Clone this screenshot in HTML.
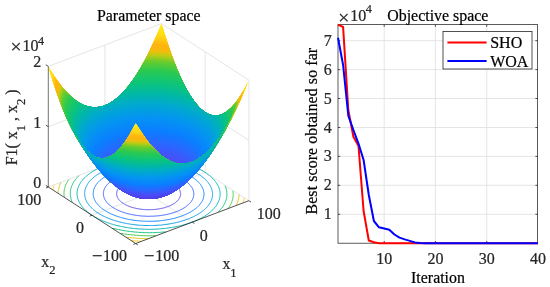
<!DOCTYPE html>
<html lang="en"><head><meta charset="utf-8"><title>Parameter space / Objective space</title>
<style>html,body{margin:0;padding:0;background:#fff;width:550px;height:287px;overflow:hidden}svg{display:block}</style></head>
<body>
<svg width="550" height="287" viewBox="0 0 550 287" font-family="'Liberation Serif', serif" fill="#262626">
<rect width="550" height="287" fill="#fff"/>
<g><path d="M192.3 222.1 L104.9 165.6" stroke="#dedede" stroke-width="0.8" fill="none"/><path d="M92 215.2 L205.2 172.4" stroke="#dedede" stroke-width="0.8" fill="none"/><path d="M248.9 200.7 L161.5 144.2" stroke="#dedede" stroke-width="0.8" fill="none"/><path d="M48.3 187 L161.5 144.2" stroke="#dedede" stroke-width="0.8" fill="none"/><path d="M104.9 165.6 L104.9 45" stroke="#dedede" stroke-width="0.8" fill="none"/><path d="M161.5 144.2 L161.5 23.6" stroke="#dedede" stroke-width="0.8" fill="none"/><path d="M48.3 126.7 L161.5 83.9" stroke="#dedede" stroke-width="0.8" fill="none"/><path d="M161.5 83.9 L248.9 140.4" stroke="#dedede" stroke-width="0.8" fill="none"/><path d="M48.3 66.4 L161.5 23.6" stroke="#dedede" stroke-width="0.8" fill="none"/><path d="M161.5 23.6 L248.9 80.1" stroke="#dedede" stroke-width="0.8" fill="none"/><path d="M248.9 200.7 L248.9 80.1" stroke="#dedede" stroke-width="0.8" fill="none"/><path d="M205.2 172.4 L205.2 51.8" stroke="#dedede" stroke-width="0.8" fill="none"/></g>
<g><path d="M173.9 184.3 L173.6 184.1 L173.2 183.8 L172.9 183.6 L172.5 183.4 L172.1 183.2 L171.7 183 L171.3 182.8 L170.9 182.6 L170.5 182.4 L170.1 182.2 L169.7 182 L169.3 181.9 L168.9 181.7 L168.4 181.5 L168 181.3 L167.5 181.2 L167.1 181 L166.6 180.8 L166.2 180.7 L165.7 180.5 L165.2 180.4 L164.7 180.2 L164.3 180.1 L163.8 180 L163.3 179.8 L162.8 179.7 L162.3 179.6 L161.8 179.5 L161.3 179.4 L160.7 179.2 L160.2 179.1 L159.7 179 L159.2 178.9 L158.7 178.9 L158.1 178.8 L157.6 178.7 L157.1 178.6 L156.5 178.5 L156 178.5 L155.4 178.4 L154.9 178.3 L154.3 178.3 L153.8 178.2 L153.2 178.2 L152.7 178.1 L152.1 178.1 L151.6 178.1 L151 178.1 L150.5 178 L149.9 178 L149.3 178 L148.8 178 L148.2 178 L147.7 178 L147.1 178 L146.6 178 L146 178 L145.4 178.1 L144.9 178.1 L144.3 178.1 L143.8 178.2 L143.2 178.2 L142.7 178.2 L142.1 178.3 L141.6 178.4 L141 178.4 L140.5 178.5 L140 178.6 L139.4 178.6 L138.9 178.7 L138.4 178.8 L137.8 178.9 L137.3 179 L136.8 179.1 L136.3 179.2 L135.8 179.3 L135.3 179.4 L134.7 179.5 L134.2 179.6 L133.7 179.7 L133.3 179.9 L132.8 180 L132.3 180.1 L131.8 180.3 L131.3 180.4 L130.9 180.6 L130.4 180.7 L130 180.9 L129.5 181.1 L129.1 181.2 L128.6 181.4 L128.2 181.6 L127.8 181.7 L127.3 181.9 L126.9 182.1 L126.5 182.3 L126.1 182.5 L125.7 182.7 L125.3 182.9 L125 183.1 L124.6 183.3 L124.2 183.5 L123.9 183.7 L123.5 183.9 L123.2 184.1 L122.8 184.3 L122.5 184.6 L122.2 184.8 L121.9 185 L121.6 185.3 L121.3 185.5 L121 185.7 L120.7 186 L120.5 186.2 L120.2 186.4 L119.9 186.7 L119.7 186.9 L119.5 187.2 L119.2 187.4 L119 187.7 L118.8 187.9 L118.6 188.2 L118.4 188.5 L118.2 188.7 L118.1 189 L117.9 189.3 L117.8 189.5 L117.6 189.8 L117.5 190.1 L117.4 190.3 L117.2 190.6 L117.1 190.9 L117 191.1 L117 191.4 L116.9 191.7 L116.8 192 L116.8 192.2 L116.7 192.5 L116.7 192.8 L116.6 193.1 L116.6 193.3 L116.6 193.6 L116.6 193.9 L116.6 194.2 L116.7 194.4 L116.7 194.7 L116.7 195 L116.8 195.3 L116.8 195.5 L116.9 195.8 L117 196.1 L117.1 196.4 L117.2 196.6 L117.3 196.9 L117.4 197.2 L117.5 197.5 L117.7 197.7 L117.8 198 L118 198.3 L118.1 198.5 L118.3 198.8 L118.5 199 L118.7 199.3 L118.9 199.6 L119.1 199.8 L119.3 200.1 L119.5 200.3 L119.8 200.6 L120 200.8 L120.3 201.1 L120.5 201.3 L120.8 201.6 L121.1 201.8 L121.4 202 L121.7 202.3 L122 202.5 L122.3 202.7 L122.6 203 L123 203.2 L123.3 203.4 L123.6 203.6 L124 203.9 L124.3 204.1 L124.7 204.3 L125.1 204.5 L125.5 204.7 L125.9 204.9 L126.3 205.1 L126.7 205.3 L127.1 205.5 L127.5 205.7 L127.9 205.8 L128.3 206 L128.8 206.2 L129.2 206.4 L129.7 206.5 L130.1 206.7 L130.6 206.9 L131 207 L131.5 207.2 L132 207.3 L132.5 207.5 L132.9 207.6 L133.4 207.7 L133.9 207.9 L134.4 208 L134.9 208.1 L135.4 208.2 L135.9 208.3 L136.5 208.5 L137 208.6 L137.5 208.7 L138 208.8 L138.5 208.8 L139.1 208.9 L139.6 209 L140.1 209.1 L140.7 209.2 L141.2 209.2 L141.8 209.3 L142.3 209.4 L142.9 209.4 L143.4 209.5 L144 209.5 L144.5 209.6 L145.1 209.6 L145.6 209.6 L146.2 209.6 L146.7 209.7 L147.3 209.7 L147.9 209.7 L148.4 209.7 L149 209.7 L149.5 209.7 L150.1 209.7 L150.6 209.7 L151.2 209.7 L151.8 209.6 L152.3 209.6 L152.9 209.6 L153.4 209.5 L154 209.5 L154.5 209.5 L155.1 209.4 L155.6 209.3 L156.2 209.3 L156.7 209.2 L157.2 209.1 L157.8 209.1 L158.3 209 L158.8 208.9 L159.4 208.8 L159.9 208.7 L160.4 208.6 L160.9 208.5 L161.4 208.4 L161.9 208.3 L162.5 208.2 L163 208.1 L163.5 208 L163.9 207.8 L164.4 207.7 L164.9 207.6 L165.4 207.4 L165.9 207.3 L166.3 207.1 L166.8 207 L167.2 206.8 L167.7 206.6 L168.1 206.5 L168.6 206.3 L169 206.1 L169.4 206 L169.9 205.8 L170.3 205.6 L170.7 205.4 L171.1 205.2 L171.5 205 L171.9 204.8 L172.2 204.6 L172.6 204.4 L173 204.2 L173.3 204 L173.7 203.8 L174 203.6 L174.4 203.4 L174.7 203.1 L175 202.9 L175.3 202.7 L175.6 202.4 L175.9 202.2 L176.2 202 L176.5 201.7 L176.7 201.5 L177 201.3 L177.3 201 L177.5 200.8 L177.7 200.5 L178 200.3 L178.2 200 L178.4 199.8 L178.6 199.5 L178.8 199.2 L179 199 L179.1 198.7 L179.3 198.4 L179.4 198.2 L179.6 197.9 L179.7 197.6 L179.8 197.4 L180 197.1 L180.1 196.8 L180.2 196.6 L180.2 196.3 L180.3 196 L180.4 195.7 L180.4 195.5 L180.5 195.2 L180.5 194.9 L180.6 194.6 L180.6 194.4 L180.6 194.1 L180.6 193.8 L180.6 193.5 L180.5 193.3 L180.5 193 L180.5 192.7 L180.4 192.4 L180.4 192.2 L180.3 191.9 L180.2 191.6 L180.1 191.3 L180 191.1 L179.9 190.8 L179.8 190.5 L179.7 190.2 L179.5 190 L179.4 189.7 L179.2 189.4 L179.1 189.2 L178.9 188.9 L178.7 188.7 L178.5 188.4 L178.3 188.1 L178.1 187.9 L177.9 187.6 L177.7 187.4 L177.4 187.1 L177.2 186.9 L176.9 186.6 L176.7 186.4 L176.4 186.1 L176.1 185.9 L175.8 185.7 L175.5 185.4 L175.2 185.2 L174.9 185 L174.6 184.7 L174.2 184.5 L173.9 184.3" stroke="#5243ee" stroke-width="0.95" fill="none"/><path d="M184.4 180.3 L183.9 180 L183.4 179.7 L182.9 179.4 L182.4 179.1 L181.9 178.8 L181.3 178.5 L180.8 178.2 L180.2 178 L179.6 177.7 L179.1 177.4 L178.5 177.2 L177.9 176.9 L177.3 176.6 L176.6 176.4 L176 176.2 L175.4 175.9 L174.8 175.7 L174.1 175.5 L173.4 175.2 L172.8 175 L172.1 174.8 L171.4 174.6 L170.8 174.4 L170.1 174.2 L169.4 174 L168.7 173.9 L167.9 173.7 L167.2 173.5 L166.5 173.4 L165.8 173.2 L165 173 L164.3 172.9 L163.6 172.8 L162.8 172.6 L162.1 172.5 L161.3 172.4 L160.6 172.3 L159.8 172.2 L159 172.1 L158.3 172 L157.5 171.9 L156.7 171.8 L155.9 171.8 L155.2 171.7 L154.4 171.6 L153.6 171.6 L152.8 171.6 L152 171.5 L151.2 171.5 L150.4 171.5 L149.6 171.4 L148.9 171.4 L148.1 171.4 L147.3 171.4 L146.5 171.5 L145.7 171.5 L144.9 171.5 L144.1 171.5 L143.3 171.6 L142.6 171.6 L141.8 171.7 L141 171.7 L140.2 171.8 L139.5 171.9 L138.7 171.9 L137.9 172 L137.1 172.1 L136.4 172.2 L135.6 172.3 L134.9 172.4 L134.1 172.6 L133.4 172.7 L132.6 172.8 L131.9 172.9 L131.2 173.1 L130.4 173.2 L129.7 173.4 L129 173.6 L128.3 173.7 L127.6 173.9 L126.9 174.1 L126.2 174.3 L125.5 174.5 L124.9 174.7 L124.2 174.9 L123.5 175.1 L122.9 175.3 L122.2 175.5 L121.6 175.7 L121 176 L120.3 176.2 L119.7 176.5 L119.1 176.7 L118.5 177 L117.9 177.2 L117.4 177.5 L116.8 177.8 L116.2 178 L115.7 178.3 L115.2 178.6 L114.6 178.9 L114.1 179.2 L113.6 179.5 L113.1 179.8 L112.6 180.1 L112.2 180.4 L111.7 180.7 L111.3 181 L110.8 181.4 L110.4 181.7 L110 182 L109.6 182.4 L109.2 182.7 L108.8 183 L108.4 183.4 L108.1 183.7 L107.7 184.1 L107.4 184.4 L107.1 184.8 L106.8 185.1 L106.5 185.5 L106.2 185.9 L105.9 186.2 L105.7 186.6 L105.4 187 L105.2 187.4 L105 187.7 L104.8 188.1 L104.6 188.5 L104.4 188.9 L104.3 189.2 L104.1 189.6 L104 190 L103.9 190.4 L103.7 190.8 L103.7 191.2 L103.6 191.6 L103.5 192 L103.5 192.3 L103.4 192.7 L103.4 193.1 L103.4 193.5 L103.4 193.9 L103.4 194.3 L103.4 194.7 L103.5 195.1 L103.5 195.5 L103.6 195.9 L103.7 196.2 L103.8 196.6 L103.9 197 L104 197.4 L104.2 197.8 L104.3 198.2 L104.5 198.6 L104.7 198.9 L104.8 199.3 L105.1 199.7 L105.3 200.1 L105.5 200.5 L105.8 200.8 L106 201.2 L106.3 201.6 L106.6 201.9 L106.9 202.3 L107.2 202.7 L107.5 203 L107.8 203.4 L108.2 203.7 L108.5 204.1 L108.9 204.4 L109.3 204.8 L109.7 205.1 L110.1 205.4 L110.5 205.8 L111 206.1 L111.4 206.4 L111.9 206.8 L112.3 207.1 L112.8 207.4 L113.3 207.7 L113.8 208 L114.3 208.3 L114.8 208.6 L115.3 208.9 L115.9 209.2 L116.4 209.5 L117 209.7 L117.6 210 L118.1 210.3 L118.7 210.5 L119.3 210.8 L119.9 211.1 L120.6 211.3 L121.2 211.5 L121.8 211.8 L122.4 212 L123.1 212.2 L123.8 212.5 L124.4 212.7 L125.1 212.9 L125.8 213.1 L126.4 213.3 L127.1 213.5 L127.8 213.7 L128.5 213.8 L129.3 214 L130 214.2 L130.7 214.3 L131.4 214.5 L132.2 214.7 L132.9 214.8 L133.6 214.9 L134.4 215.1 L135.1 215.2 L135.9 215.3 L136.6 215.4 L137.4 215.5 L138.2 215.6 L138.9 215.7 L139.7 215.8 L140.5 215.9 L141.3 215.9 L142 216 L142.8 216.1 L143.6 216.1 L144.4 216.1 L145.2 216.2 L146 216.2 L146.8 216.2 L147.6 216.3 L148.3 216.3 L149.1 216.3 L149.9 216.3 L150.7 216.2 L151.5 216.2 L152.3 216.2 L153.1 216.2 L153.9 216.1 L154.6 216.1 L155.4 216 L156.2 216 L157 215.9 L157.7 215.8 L158.5 215.8 L159.3 215.7 L160.1 215.6 L160.8 215.5 L161.6 215.4 L162.3 215.3 L163.1 215.1 L163.8 215 L164.6 214.9 L165.3 214.8 L166 214.6 L166.8 214.5 L167.5 214.3 L168.2 214.1 L168.9 214 L169.6 213.8 L170.3 213.6 L171 213.4 L171.7 213.2 L172.3 213 L173 212.8 L173.7 212.6 L174.3 212.4 L175 212.2 L175.6 212 L176.2 211.7 L176.9 211.5 L177.5 211.2 L178.1 211 L178.7 210.7 L179.3 210.5 L179.8 210.2 L180.4 209.9 L181 209.7 L181.5 209.4 L182 209.1 L182.6 208.8 L183.1 208.5 L183.6 208.2 L184.1 207.9 L184.6 207.6 L185 207.3 L185.5 207 L185.9 206.7 L186.4 206.3 L186.8 206 L187.2 205.7 L187.6 205.3 L188 205 L188.4 204.7 L188.8 204.3 L189.1 204 L189.5 203.6 L189.8 203.3 L190.1 202.9 L190.4 202.6 L190.7 202.2 L191 201.8 L191.3 201.5 L191.5 201.1 L191.8 200.7 L192 200.3 L192.2 200 L192.4 199.6 L192.6 199.2 L192.8 198.8 L192.9 198.5 L193.1 198.1 L193.2 197.7 L193.3 197.3 L193.5 196.9 L193.5 196.5 L193.6 196.1 L193.7 195.7 L193.7 195.4 L193.8 195 L193.8 194.6 L193.8 194.2 L193.8 193.8 L193.8 193.4 L193.8 193 L193.7 192.6 L193.7 192.2 L193.6 191.8 L193.5 191.5 L193.4 191.1 L193.3 190.7 L193.2 190.3 L193 189.9 L192.9 189.5 L192.7 189.1 L192.5 188.8 L192.4 188.4 L192.1 188 L191.9 187.6 L191.7 187.2 L191.4 186.9 L191.2 186.5 L190.9 186.1 L190.6 185.8 L190.3 185.4 L190 185 L189.7 184.7 L189.4 184.3 L189 184 L188.7 183.6 L188.3 183.3 L187.9 182.9 L187.5 182.6 L187.1 182.3 L186.7 181.9 L186.2 181.6 L185.8 181.3 L185.3 180.9 L184.9 180.6 L184.4 180.3" stroke="#365efd" stroke-width="0.95" fill="none"/><path d="M192.4 177.3 L191.8 176.9 L191.2 176.5 L190.6 176.2 L190 175.8 L189.3 175.4 L188.7 175.1 L188 174.7 L187.3 174.4 L186.6 174.1 L185.9 173.7 L185.2 173.4 L184.4 173.1 L183.7 172.8 L183 172.5 L182.2 172.2 L181.4 171.9 L180.6 171.6 L179.8 171.3 L179 171.1 L178.2 170.8 L177.4 170.5 L176.6 170.3 L175.7 170 L174.9 169.8 L174 169.6 L173.2 169.4 L172.3 169.1 L171.4 168.9 L170.5 168.7 L169.6 168.6 L168.7 168.4 L167.8 168.2 L166.9 168 L166 167.9 L165.1 167.7 L164.2 167.6 L163.2 167.4 L162.3 167.3 L161.4 167.2 L160.4 167.1 L159.5 167 L158.5 166.9 L157.6 166.8 L156.6 166.7 L155.7 166.7 L154.7 166.6 L153.7 166.5 L152.8 166.5 L151.8 166.5 L150.9 166.4 L149.9 166.4 L148.9 166.4 L148 166.4 L147 166.4 L146 166.4 L145.1 166.4 L144.1 166.5 L143.1 166.5 L142.2 166.6 L141.2 166.6 L140.2 166.7 L139.3 166.7 L138.3 166.8 L137.4 166.9 L136.5 167 L135.5 167.1 L134.6 167.2 L133.6 167.4 L132.7 167.5 L131.8 167.6 L130.9 167.8 L130 167.9 L129 168.1 L128.1 168.2 L127.3 168.4 L126.4 168.6 L125.5 168.8 L124.6 169 L123.7 169.2 L122.9 169.4 L122 169.6 L121.2 169.9 L120.3 170.1 L119.5 170.4 L118.7 170.6 L117.9 170.9 L117.1 171.1 L116.3 171.4 L115.5 171.7 L114.8 172 L114 172.3 L113.2 172.6 L112.5 172.9 L111.8 173.2 L111.1 173.5 L110.4 173.8 L109.7 174.2 L109 174.5 L108.3 174.8 L107.7 175.2 L107 175.5 L106.4 175.9 L105.8 176.3 L105.1 176.6 L104.6 177 L104 177.4 L103.4 177.8 L102.9 178.2 L102.3 178.6 L101.8 179 L101.3 179.4 L100.8 179.8 L100.3 180.2 L99.8 180.6 L99.4 181 L99 181.4 L98.5 181.9 L98.1 182.3 L97.7 182.7 L97.4 183.2 L97 183.6 L96.7 184.1 L96.3 184.5 L96 185 L95.7 185.4 L95.4 185.9 L95.2 186.3 L94.9 186.8 L94.7 187.3 L94.5 187.7 L94.3 188.2 L94.1 188.7 L93.9 189.2 L93.8 189.6 L93.7 190.1 L93.5 190.6 L93.5 191 L93.4 191.5 L93.3 192 L93.3 192.5 L93.2 193 L93.2 193.4 L93.2 193.9 L93.2 194.4 L93.3 194.9 L93.3 195.4 L93.4 195.8 L93.5 196.3 L93.6 196.8 L93.7 197.3 L93.8 197.7 L94 198.2 L94.2 198.7 L94.4 199.2 L94.6 199.6 L94.8 200.1 L95 200.6 L95.3 201 L95.5 201.5 L95.8 201.9 L96.1 202.4 L96.4 202.9 L96.8 203.3 L97.1 203.8 L97.5 204.2 L97.9 204.6 L98.3 205.1 L98.7 205.5 L99.1 205.9 L99.5 206.4 L100 206.8 L100.5 207.2 L101 207.6 L101.5 208 L102 208.5 L102.5 208.9 L103 209.3 L103.6 209.7 L104.2 210 L104.8 210.4 L105.4 210.8 L106 211.2 L106.6 211.5 L107.2 211.9 L107.9 212.3 L108.5 212.6 L109.2 213 L109.9 213.3 L110.6 213.6 L111.3 214 L112 214.3 L112.8 214.6 L113.5 214.9 L114.2 215.2 L115 215.5 L115.8 215.8 L116.6 216.1 L117.4 216.4 L118.2 216.6 L119 216.9 L119.8 217.2 L120.6 217.4 L121.5 217.7 L122.3 217.9 L123.2 218.1 L124 218.3 L124.9 218.6 L125.8 218.8 L126.7 219 L127.6 219.1 L128.5 219.3 L129.4 219.5 L130.3 219.7 L131.2 219.8 L132.1 220 L133 220.1 L134 220.3 L134.9 220.4 L135.8 220.5 L136.8 220.6 L137.7 220.7 L138.7 220.8 L139.6 220.9 L140.6 221 L141.5 221 L142.5 221.1 L143.5 221.2 L144.4 221.2 L145.4 221.2 L146.3 221.3 L147.3 221.3 L148.3 221.3 L149.2 221.3 L150.2 221.3 L151.2 221.3 L152.1 221.3 L153.1 221.2 L154.1 221.2 L155 221.1 L156 221.1 L157 221 L157.9 221 L158.9 220.9 L159.8 220.8 L160.7 220.7 L161.7 220.6 L162.6 220.5 L163.6 220.3 L164.5 220.2 L165.4 220.1 L166.3 219.9 L167.2 219.8 L168.2 219.6 L169.1 219.5 L169.9 219.3 L170.8 219.1 L171.7 218.9 L172.6 218.7 L173.5 218.5 L174.3 218.3 L175.2 218.1 L176 217.8 L176.9 217.6 L177.7 217.3 L178.5 217.1 L179.3 216.8 L180.1 216.6 L180.9 216.3 L181.7 216 L182.4 215.7 L183.2 215.4 L184 215.1 L184.7 214.8 L185.4 214.5 L186.1 214.2 L186.8 213.9 L187.5 213.5 L188.2 213.2 L188.9 212.9 L189.5 212.5 L190.2 212.2 L190.8 211.8 L191.4 211.4 L192.1 211.1 L192.6 210.7 L193.2 210.3 L193.8 209.9 L194.3 209.5 L194.9 209.1 L195.4 208.7 L195.9 208.3 L196.4 207.9 L196.9 207.5 L197.4 207.1 L197.8 206.7 L198.2 206.3 L198.7 205.8 L199.1 205.4 L199.5 205 L199.8 204.5 L200.2 204.1 L200.5 203.6 L200.9 203.2 L201.2 202.7 L201.5 202.3 L201.8 201.8 L202 201.4 L202.3 200.9 L202.5 200.4 L202.7 200 L202.9 199.5 L203.1 199 L203.3 198.5 L203.4 198.1 L203.5 197.6 L203.7 197.1 L203.7 196.7 L203.8 196.2 L203.9 195.7 L203.9 195.2 L204 194.7 L204 194.3 L204 193.8 L204 193.3 L203.9 192.8 L203.9 192.3 L203.8 191.9 L203.7 191.4 L203.6 190.9 L203.5 190.4 L203.4 190 L203.2 189.5 L203 189 L202.8 188.5 L202.6 188.1 L202.4 187.6 L202.2 187.1 L201.9 186.7 L201.7 186.2 L201.4 185.8 L201.1 185.3 L200.8 184.8 L200.4 184.4 L200.1 183.9 L199.7 183.5 L199.3 183.1 L198.9 182.6 L198.5 182.2 L198.1 181.8 L197.7 181.3 L197.2 180.9 L196.7 180.5 L196.2 180.1 L195.7 179.7 L195.2 179.2 L194.7 178.8 L194.2 178.4 L193.6 178 L193 177.7 L192.4 177.3" stroke="#0a80ff" stroke-width="0.95" fill="none"/><path d="M199.2 174.7 L198.5 174.3 L197.8 173.8 L197.1 173.4 L196.4 173 L195.6 172.6 L194.9 172.2 L194.1 171.8 L193.3 171.4 L192.5 171 L191.7 170.6 L190.8 170.2 L190 169.9 L189.1 169.5 L188.3 169.2 L187.4 168.8 L186.5 168.5 L185.6 168.2 L184.7 167.8 L183.7 167.5 L182.8 167.2 L181.9 166.9 L180.9 166.6 L179.9 166.4 L178.9 166.1 L178 165.8 L177 165.6 L176 165.3 L174.9 165.1 L173.9 164.9 L172.9 164.6 L171.9 164.4 L170.8 164.2 L169.8 164 L168.7 163.9 L167.7 163.7 L166.6 163.5 L165.5 163.4 L164.4 163.2 L163.3 163.1 L162.3 162.9 L161.2 162.8 L160.1 162.7 L159 162.6 L157.9 162.5 L156.8 162.4 L155.7 162.4 L154.5 162.3 L153.4 162.3 L152.3 162.2 L151.2 162.2 L150.1 162.2 L149 162.2 L147.9 162.2 L146.7 162.2 L145.6 162.2 L144.5 162.2 L143.4 162.2 L142.3 162.3 L141.2 162.3 L140.1 162.4 L139 162.5 L137.9 162.6 L136.8 162.6 L135.7 162.7 L134.6 162.9 L133.5 163 L132.4 163.1 L131.3 163.3 L130.3 163.4 L129.2 163.6 L128.1 163.7 L127.1 163.9 L126 164.1 L125 164.3 L123.9 164.5 L122.9 164.7 L121.9 164.9 L120.9 165.2 L119.9 165.4 L118.9 165.6 L117.9 165.9 L116.9 166.2 L116 166.4 L115 166.7 L114.1 167 L113.1 167.3 L112.2 167.6 L111.3 167.9 L110.4 168.3 L109.5 168.6 L108.6 168.9 L107.8 169.3 L106.9 169.6 L106.1 170 L105.3 170.3 L104.4 170.7 L103.6 171.1 L102.8 171.5 L102.1 171.9 L101.3 172.3 L100.6 172.7 L99.8 173.1 L99.1 173.5 L98.4 174 L97.7 174.4 L97.1 174.8 L96.4 175.3 L95.8 175.7 L95.2 176.2 L94.6 176.7 L94 177.1 L93.4 177.6 L92.8 178.1 L92.3 178.6 L91.8 179 L91.3 179.5 L90.8 180 L90.3 180.5 L89.9 181 L89.4 181.5 L89 182 L88.6 182.6 L88.2 183.1 L87.9 183.6 L87.5 184.1 L87.2 184.7 L86.9 185.2 L86.6 185.7 L86.4 186.3 L86.1 186.8 L85.9 187.3 L85.7 187.9 L85.5 188.4 L85.3 189 L85.2 189.5 L85 190.1 L84.9 190.6 L84.8 191.2 L84.8 191.7 L84.7 192.3 L84.7 192.8 L84.6 193.4 L84.6 193.9 L84.7 194.5 L84.7 195 L84.8 195.6 L84.9 196.1 L85 196.7 L85.1 197.2 L85.2 197.8 L85.4 198.3 L85.6 198.9 L85.7 199.4 L86 200 L86.2 200.5 L86.5 201.1 L86.7 201.6 L87 202.1 L87.3 202.7 L87.7 203.2 L88 203.7 L88.4 204.2 L88.8 204.8 L89.2 205.3 L89.6 205.8 L90 206.3 L90.5 206.8 L91 207.3 L91.4 207.8 L92 208.3 L92.5 208.8 L93 209.3 L93.6 209.8 L94.2 210.2 L94.8 210.7 L95.4 211.2 L96 211.6 L96.6 212.1 L97.3 212.5 L98 213 L98.7 213.4 L99.4 213.9 L100.1 214.3 L100.8 214.7 L101.6 215.1 L102.3 215.5 L103.1 215.9 L103.9 216.3 L104.7 216.7 L105.5 217.1 L106.4 217.5 L107.2 217.8 L108.1 218.2 L108.9 218.5 L109.8 218.9 L110.7 219.2 L111.6 219.5 L112.5 219.9 L113.5 220.2 L114.4 220.5 L115.3 220.8 L116.3 221.1 L117.3 221.3 L118.3 221.6 L119.2 221.9 L120.2 222.1 L121.2 222.4 L122.3 222.6 L123.3 222.8 L124.3 223.1 L125.3 223.3 L126.4 223.5 L127.4 223.7 L128.5 223.8 L129.5 224 L130.6 224.2 L131.7 224.3 L132.8 224.5 L133.9 224.6 L134.9 224.8 L136 224.9 L137.1 225 L138.2 225.1 L139.3 225.2 L140.4 225.3 L141.5 225.3 L142.7 225.4 L143.8 225.4 L144.9 225.5 L146 225.5 L147.1 225.5 L148.2 225.5 L149.3 225.5 L150.5 225.5 L151.6 225.5 L152.7 225.5 L153.8 225.5 L154.9 225.4 L156 225.4 L157.1 225.3 L158.2 225.2 L159.3 225.1 L160.4 225.1 L161.5 225 L162.6 224.8 L163.7 224.7 L164.8 224.6 L165.9 224.4 L166.9 224.3 L168 224.1 L169.1 224 L170.1 223.8 L171.2 223.6 L172.2 223.4 L173.3 223.2 L174.3 223 L175.3 222.8 L176.3 222.5 L177.3 222.3 L178.3 222.1 L179.3 221.8 L180.3 221.5 L181.2 221.3 L182.2 221 L183.1 220.7 L184.1 220.4 L185 220.1 L185.9 219.8 L186.8 219.4 L187.7 219.1 L188.6 218.8 L189.4 218.4 L190.3 218.1 L191.1 217.7 L191.9 217.4 L192.8 217 L193.6 216.6 L194.4 216.2 L195.1 215.8 L195.9 215.4 L196.6 215 L197.4 214.6 L198.1 214.2 L198.8 213.7 L199.5 213.3 L200.1 212.9 L200.8 212.4 L201.4 212 L202 211.5 L202.6 211 L203.2 210.6 L203.8 210.1 L204.4 209.6 L204.9 209.1 L205.4 208.7 L205.9 208.2 L206.4 207.7 L206.9 207.2 L207.3 206.7 L207.8 206.2 L208.2 205.7 L208.6 205.1 L209 204.6 L209.3 204.1 L209.7 203.6 L210 203 L210.3 202.5 L210.6 202 L210.8 201.4 L211.1 200.9 L211.3 200.4 L211.5 199.8 L211.7 199.3 L211.9 198.7 L212 198.2 L212.2 197.6 L212.3 197.1 L212.4 196.5 L212.4 196 L212.5 195.4 L212.5 194.9 L212.6 194.3 L212.6 193.8 L212.5 193.2 L212.5 192.7 L212.4 192.1 L212.3 191.6 L212.2 191 L212.1 190.5 L212 189.9 L211.8 189.4 L211.6 188.8 L211.5 188.3 L211.2 187.7 L211 187.2 L210.7 186.6 L210.5 186.1 L210.2 185.6 L209.9 185 L209.5 184.5 L209.2 184 L208.8 183.5 L208.4 182.9 L208 182.4 L207.6 181.9 L207.2 181.4 L206.7 180.9 L206.2 180.4 L205.8 179.9 L205.2 179.4 L204.7 178.9 L204.2 178.4 L203.6 177.9 L203 177.5 L202.4 177 L201.8 176.5 L201.2 176.1 L200.6 175.6 L199.9 175.2 L199.2 174.7" stroke="#0499ea" stroke-width="0.95" fill="none"/><path d="M205.2 172.4 L204.4 172 L203.6 171.5 L202.8 171 L202 170.5 L201.2 170.1 L200.3 169.6 L199.5 169.2 L198.6 168.7 L197.7 168.3 L196.8 167.9 L195.8 167.5 L194.9 167 L193.9 166.6 L192.9 166.3 L192 165.9 L191 165.5 L190 165.1 L188.9 164.8 L187.9 164.4 L186.8 164.1 L185.8 163.7 L184.7 163.4 L183.6 163.1 L182.5 162.8 L181.4 162.5 L180.3 162.2 L179.2 162 L178.1 161.7 L176.9 161.4 L175.8 161.2 L174.6 161 L173.4 160.7 L172.3 160.5 L171.1 160.3 L169.9 160.1 L168.7 159.9 L167.5 159.8 L166.3 159.6 L165.1 159.4 L163.9 159.3 L162.6 159.2 L161.4 159 L160.2 158.9 L159 158.8 L157.7 158.7 L156.5 158.7 L155.2 158.6 L154 158.5 L152.8 158.5 L151.5 158.5 L150.3 158.4 L149 158.4 L147.8 158.4 L146.5 158.4 L145.3 158.4 L144 158.5 L142.8 158.5 L141.5 158.6 L140.3 158.6 L139.1 158.7 L137.8 158.8 L136.6 158.9 L135.4 159 L134.1 159.1 L132.9 159.2 L131.7 159.3 L130.5 159.5 L129.3 159.6 L128.1 159.8 L126.9 160 L125.7 160.2 L124.5 160.4 L123.4 160.6 L122.2 160.8 L121 161 L119.9 161.3 L118.8 161.5 L117.6 161.8 L116.5 162 L115.4 162.3 L114.3 162.6 L113.2 162.9 L112.1 163.2 L111.1 163.5 L110 163.8 L109 164.2 L107.9 164.5 L106.9 164.9 L105.9 165.2 L104.9 165.6 L103.9 166 L103 166.4 L102 166.8 L101.1 167.2 L100.1 167.6 L99.2 168 L98.3 168.4 L97.4 168.9 L96.6 169.3 L95.7 169.7 L94.9 170.2 L94.1 170.7 L93.3 171.1 L92.5 171.6 L91.7 172.1 L91 172.6 L90.3 173.1 L89.5 173.6 L88.9 174.1 L88.2 174.6 L87.5 175.1 L86.9 175.7 L86.3 176.2 L85.7 176.7 L85.1 177.3 L84.5 177.8 L84 178.4 L83.4 179 L82.9 179.5 L82.5 180.1 L82 180.7 L81.5 181.2 L81.1 181.8 L80.7 182.4 L80.3 183 L80 183.6 L79.6 184.2 L79.3 184.8 L79 185.4 L78.7 186 L78.5 186.6 L78.3 187.2 L78 187.8 L77.8 188.4 L77.7 189 L77.5 189.6 L77.4 190.2 L77.3 190.9 L77.2 191.5 L77.2 192.1 L77.1 192.7 L77.1 193.3 L77.1 193.9 L77.1 194.6 L77.2 195.2 L77.2 195.8 L77.3 196.4 L77.4 197 L77.6 197.6 L77.7 198.3 L77.9 198.9 L78.1 199.5 L78.3 200.1 L78.6 200.7 L78.8 201.3 L79.1 201.9 L79.4 202.5 L79.8 203.1 L80.1 203.7 L80.5 204.3 L80.9 204.9 L81.3 205.5 L81.7 206.1 L82.1 206.6 L82.6 207.2 L83.1 207.8 L83.6 208.3 L84.2 208.9 L84.7 209.5 L85.3 210 L85.9 210.6 L86.5 211.1 L87.1 211.6 L87.7 212.2 L88.4 212.7 L89.1 213.2 L89.8 213.7 L90.5 214.3 L91.2 214.8 L92 215.2 L92.8 215.7 L93.6 216.2 L94.4 216.7 L95.2 217.2 L96 217.6 L96.9 218.1 L97.7 218.5 L98.6 219 L99.5 219.4 L100.4 219.8 L101.4 220.2 L102.3 220.7 L103.3 221.1 L104.3 221.4 L105.2 221.8 L106.2 222.2 L107.2 222.6 L108.3 222.9 L109.3 223.3 L110.4 223.6 L111.4 224 L112.5 224.3 L113.6 224.6 L114.7 224.9 L115.8 225.2 L116.9 225.5 L118 225.7 L119.1 226 L120.3 226.3 L121.4 226.5 L122.6 226.7 L123.8 227 L124.9 227.2 L126.1 227.4 L127.3 227.6 L128.5 227.8 L129.7 227.9 L130.9 228.1 L132.1 228.3 L133.3 228.4 L134.6 228.5 L135.8 228.7 L137 228.8 L138.2 228.9 L139.5 229 L140.7 229 L142 229.1 L143.2 229.2 L144.4 229.2 L145.7 229.2 L146.9 229.3 L148.2 229.3 L149.4 229.3 L150.7 229.3 L151.9 229.3 L153.2 229.2 L154.4 229.2 L155.7 229.1 L156.9 229.1 L158.1 229 L159.4 228.9 L160.6 228.8 L161.8 228.7 L163.1 228.6 L164.3 228.5 L165.5 228.4 L166.7 228.2 L167.9 228.1 L169.1 227.9 L170.3 227.7 L171.5 227.5 L172.7 227.3 L173.8 227.1 L175 226.9 L176.2 226.7 L177.3 226.4 L178.4 226.2 L179.6 225.9 L180.7 225.7 L181.8 225.4 L182.9 225.1 L184 224.8 L185.1 224.5 L186.1 224.2 L187.2 223.9 L188.2 223.5 L189.3 223.2 L190.3 222.8 L191.3 222.5 L192.3 222.1 L193.3 221.7 L194.2 221.3 L195.2 220.9 L196.1 220.5 L197.1 220.1 L198 219.7 L198.9 219.3 L199.8 218.8 L200.6 218.4 L201.5 218 L202.3 217.5 L203.1 217 L203.9 216.6 L204.7 216.1 L205.5 215.6 L206.2 215.1 L206.9 214.6 L207.7 214.1 L208.3 213.6 L209 213.1 L209.7 212.6 L210.3 212 L210.9 211.5 L211.5 211 L212.1 210.4 L212.7 209.9 L213.2 209.3 L213.8 208.7 L214.3 208.2 L214.7 207.6 L215.2 207 L215.7 206.5 L216.1 205.9 L216.5 205.3 L216.9 204.7 L217.2 204.1 L217.6 203.5 L217.9 202.9 L218.2 202.3 L218.5 201.7 L218.7 201.1 L218.9 200.5 L219.2 199.9 L219.4 199.3 L219.5 198.7 L219.7 198.1 L219.8 197.5 L219.9 196.8 L220 196.2 L220 195.6 L220.1 195 L220.1 194.4 L220.1 193.8 L220.1 193.1 L220 192.5 L220 191.9 L219.9 191.3 L219.8 190.7 L219.6 190.1 L219.5 189.4 L219.3 188.8 L219.1 188.2 L218.9 187.6 L218.6 187 L218.4 186.4 L218.1 185.8 L217.8 185.2 L217.4 184.6 L217.1 184 L216.7 183.4 L216.3 182.8 L215.9 182.2 L215.5 181.6 L215.1 181.1 L214.6 180.5 L214.1 179.9 L213.6 179.4 L213 178.8 L212.5 178.2 L211.9 177.7 L211.3 177.1 L210.7 176.6 L210.1 176.1 L209.5 175.5 L208.8 175 L208.1 174.5 L207.4 174 L206.7 173.4 L206 172.9 L205.2 172.4" stroke="#00b1b8" stroke-width="0.95" fill="none"/><path d="M184.6 159.5 L183.3 159.2 L182.1 158.9 L180.9 158.6 L179.6 158.3 L178.4 158.1 L177.1 157.8 L175.8 157.6 L174.5 157.3 L173.2 157.1 L171.9 156.9 L170.6 156.7 L169.3 156.5 L168 156.3 L166.7 156.2 L165.3 156 L164 155.9 L162.6 155.7 L161.3 155.6 L159.9 155.5 L158.6 155.4 L157.2 155.3 L155.9 155.2 L154.5 155.2 L153.1 155.1 L151.8 155.1 L150.4 155 L149 155 L147.7 155 L146.3 155 L144.9 155.1 L143.6 155.1 L142.2 155.1 L140.9 155.2 L139.5 155.3 L138.1 155.3 L136.8 155.4 L135.4 155.5 L134.1 155.6 L132.8 155.8 L131.4 155.9M79 175.7 L78.4 176.3 L77.8 176.9 L77.2 177.5 L76.7 178.1 L76.1 178.8 L75.6 179.4 L75.1 180 L74.7 180.7 L74.2 181.3 L73.8 181.9 L73.4 182.6 L73.1 183.2 L72.7 183.9 L72.4 184.6 L72.1 185.2 L71.8 185.9 L71.5 186.5 L71.3 187.2 L71.1 187.9 L70.9 188.5 L70.7 189.2 L70.6 189.9 L70.5 190.6 L70.4 191.2 L70.3 191.9 L70.3 192.6 L70.3 193.3 L70.3 193.9 L70.3 194.6 L70.4 195.3 L70.4 196 L70.5 196.7 L70.7 197.3 L70.8 198 L71 198.7 L71.2 199.4 L71.4 200 L71.6 200.7 L71.9 201.4 L72.2 202M112.6 228.2 L113.9 228.5 L115.1 228.8 L116.3 229.1 L117.6 229.4 L118.8 229.6 L120.1 229.9 L121.4 230.1 L122.7 230.4 L124 230.6 L125.3 230.8 L126.6 231 L127.9 231.2 L129.2 231.4 L130.5 231.5 L131.9 231.7 L133.2 231.8 L134.6 232 L135.9 232.1 L137.3 232.2 L138.6 232.3 L140 232.4 L141.3 232.5 L142.7 232.5 L144.1 232.6 L145.4 232.6 L146.8 232.7 L148.2 232.7 L149.5 232.7 L150.9 232.7 L152.3 232.6 L153.6 232.6 L155 232.6 L156.3 232.5 L157.7 232.4 L159.1 232.4 L160.4 232.3 L161.8 232.2 L163.1 232.1 L164.4 231.9 L165.8 231.8M218.2 212 L218.8 211.4 L219.4 210.8 L220 210.2 L220.5 209.6 L221.1 208.9 L221.6 208.3 L222.1 207.7 L222.5 207 L223 206.4 L223.4 205.8 L223.8 205.1 L224.1 204.5 L224.5 203.8 L224.8 203.1 L225.1 202.5 L225.4 201.8 L225.7 201.2 L225.9 200.5 L226.1 199.8 L226.3 199.2 L226.5 198.5 L226.6 197.8 L226.7 197.1 L226.8 196.5 L226.9 195.8 L226.9 195.1 L226.9 194.4 L226.9 193.8 L226.9 193.1 L226.8 192.4 L226.8 191.7 L226.7 191 L226.5 190.4 L226.4 189.7 L226.2 189 L226 188.3 L225.8 187.7 L225.6 187 L225.3 186.3 L225 185.7" stroke="#0dc47a" stroke-width="0.95" fill="none"/><path d="M176.6 154.4 L175.2 154.2 L173.8 153.9 L172.4 153.7 L171 153.5 L169.5 153.3 L168.1 153.1 L166.7 153 L165.2 152.8 L163.8 152.7 L162.3 152.5 L160.9 152.4 L159.4 152.3 L157.9 152.2 L156.5 152.1 L155 152.1 L153.5 152 L152 152 L150.6 151.9 L149.1 151.9 L147.6 151.9 L146.1 151.9 L144.7 151.9 L143.2 152 L141.7 152M68.8 179.6 L68.3 180.3 L67.8 181 L67.4 181.7 L67 182.4 L66.6 183.1 L66.3 183.8 L65.9 184.5 L65.6 185.2 L65.4 186 L65.1 186.7 L64.9 187.4 L64.7 188.1 L64.5 188.8 L64.4 189.6 L64.2 190.3 L64.1 191 L64.1 191.8 L64 192.5 L64 193.2 L64 194 L64 194.7 L64.1 195.4 L64.2 196.2 L64.3 196.9M120.6 233.3 L122 233.5 L123.4 233.8 L124.8 234 L126.2 234.2 L127.7 234.4 L129.1 234.6 L130.5 234.7 L132 234.9 L133.4 235 L134.9 235.2 L136.3 235.3 L137.8 235.4 L139.3 235.5 L140.7 235.6 L142.2 235.6 L143.7 235.7 L145.2 235.7 L146.6 235.8 L148.1 235.8 L149.6 235.8 L151.1 235.8 L152.5 235.8 L154 235.7 L155.5 235.7M228.4 208.1 L228.9 207.4 L229.4 206.7 L229.8 206 L230.2 205.3 L230.6 204.6 L230.9 203.9 L231.3 203.2 L231.6 202.5 L231.8 201.7 L232.1 201 L232.3 200.3 L232.5 199.6 L232.7 198.9 L232.8 198.1 L233 197.4 L233.1 196.7 L233.1 195.9 L233.2 195.2 L233.2 194.5 L233.2 193.7 L233.2 193 L233.1 192.3 L233 191.5 L232.9 190.8" stroke="#3fca46" stroke-width="0.95" fill="none"/><path d="M171 150.5 L169.5 150.3 L167.9 150.1 L166.4 150 L164.8 149.8 L163.3 149.7 L161.7 149.6 L160.1 149.4 L158.6 149.3 L157 149.3 L155.4 149.2 L153.9 149.1 L152.3 149.1 L150.7 149 L149.1 149M61 182.4 L60.6 183.1 L60.2 183.9 L59.9 184.6 L59.6 185.4 L59.3 186.2 L59.1 186.9 L58.9 187.7 L58.7 188.5 L58.5 189.3 L58.4 190.1 L58.3 190.8 L58.2 191.6 L58.2 192.4 L58.2 193.2M126.2 237.2 L127.7 237.4 L129.3 237.6 L130.8 237.7 L132.4 237.9 L133.9 238 L135.5 238.1 L137.1 238.3 L138.6 238.4 L140.2 238.4 L141.8 238.5 L143.3 238.6 L144.9 238.6 L146.5 238.7 L148.1 238.7M236.2 205.3 L236.6 204.6 L237 203.8 L237.3 203.1 L237.6 202.3 L237.9 201.5 L238.1 200.8 L238.3 200 L238.5 199.2 L238.7 198.4 L238.8 197.6 L238.9 196.9 L239 196.1 L239 195.3 L239 194.5" stroke="#dec311" stroke-width="0.95" fill="none"/><path d="M165.8 147.2 L164.2 147 L162.5 146.9 L160.8 146.7 L159.2 146.6 L157.5 146.5 L155.8 146.5M54.2 184.9 L53.9 185.7 L53.7 186.5 L53.4 187.4 L53.2 188.2 L53.1 189 L52.9 189.8M131.4 240.5 L133 240.7 L134.7 240.8 L136.4 241 L138 241.1 L139.7 241.2 L141.4 241.2M243 202.8 L243.3 202 L243.5 201.2 L243.8 200.3 L244 199.5 L244.1 198.7 L244.3 197.9" stroke="#ffd014" stroke-width="0.95" fill="none"/></g>
<g><path d="M248.9 80.1l-3.5 7-3.5 6.2-3.5 5.5-2.6 3.6-2.6 3.1-2.7 2.8-2.6 2.2-2.6 1.9-1.7 1-1.8 .8-1.7 .6-1.8 .4-1.7 .2-1.8 0-1.7-.1-1.8-.4-1.7-.5-1.8-.8-1.7-.9-1.8-1.1-2.6-2.1-2.6-2.5-2.6-2.9-2.7-3.4-2.6-3.8-3.5-5.7-3.5-6.5-3.5-7.3-2.6-5.9-2.6-6.4-2.6-6.9-2.7-7.2-2.6-7.7-2.6-8.2-2.6-8.5-.9-3-2.3 5.6-3.4 8-3.4 7.6-3.4 7.1-3.3 6.7-3.4 6.3-3.4 5.9-3.4 5.4-3.4 4.9-3.4 4.6-3.4 4.1-3.4 3.7-3.4 3.2-3.4 2.8-3.4 2.4-2.3 1.3-2.2 1.1-2.3 1-2.3 .8-2.2 .5-2.3 .4-2.3 .2-2.2 0-2.3-.2-2.2-.4-2.3-.6-2.3-.8-2.2-1-2.3-1.2-2.3-1.3-3.4-2.4-3.4-2.9-3.4-3.2-3.4-3.8-3.3-4.1-3.4-4.6-3.4-5-3.4-5.4-2.3-3.9 1.7 5.8 2.7 8.5 2.6 7.9 2.6 7.6 2.6 7.1 2.6 6.7 2.7 6.2 2.6 5.9 3.5 7 2.6 4.8 4.3 7.3 4.2 6.9 4.3 6.4 4.3 6 4.3 5.5 4.2 5.1 4.3 4.7 4.3 4.3 4.3 3.8 4.2 3.4 4.3 3 2.9 1.7 2.8 1.6 2.9 1.3 2.8 1.2 2.9 1 2.8 .7 2.9 .6 2.8 .4 2.9 .2 2.8 0 2.9-.1 2.8-.4 2.9-.6 2.8-.7 2.9-1 2.8-1.1 2.9-1.3 2.8-1.6 2.9-1.7 4.3-2.9 4.2-3.4 4.3-3.7 4.3-4.3 4.3-4.6 4.2-5.1 4.3-5.5 4.3-6 4.3-6.3 4.2-6.8 4.3-7.3 4.3-7.7 2.8-5.3 2.9-5.6 2.8-5.7 2.9-5.9 3.1-6.9 3.2-7.2 3.1-7.6z" fill="#fdf119"/><path d="M161.9 25.1l-1-.1-3.4 8.3-3.4 7.8-3.4 7.3-3.4 6.9-3.4 6.5-3.3 6.1-3.4 5.6-3.4 5.2-3.4 4.8-3.4 4.3-3.4 3.9-3.4 3.4-3.4 3-3.4 2.6-2.3 1.5-2.2 1.3-2.3 1.1-2.3 .9-2.2 .7-2.3 .5-2.3 .4-2.2 .1-2.3-.1-2.2-.2-2.3-.5-2.3-.6-2.2-.8-2.3-1.1-2.3-1.2-2.2-1.4-3.4-2.5-3.4-2.9-3.4-3.3-3.4-3.8-3.4-4.2-3.4-4.7-3.4-5-3.4-5.6-1.1-1.9-.2 .5 2.6 8.5 2.6 8.1 2.6 7.6 2.5 7.2 2.6 6.9 2.6 6.3 2.6 6 2.5 5.6 3.5 6.7 3.1 5.6 4.3 7.1 4.3 6.8 4.2 6.2 4.3 5.9 4.3 5.4 4.3 5 4.2 4.5 4.3 4.1 4.3 3.7 4.3 3.3 4.2 2.8 2.9 1.6 2.8 1.5 2.9 1.2 2.8 1.1 2.9 .9 2.8 .7 2.9 .4 2.8 .3 2.9 .2 2.8-.1 2.9-.3 2.9-.5 2.8-.6 2.9-.9 2.8-1 2.9-1.2 2.8-1.5 2.9-1.6 2.8-1.8 4.3-3.1 4.3-3.5 4.2-3.9 4.3-4.4 4.3-4.8 4.3-5.2 4.2-5.6 4.3-6.1 4.3-6.6 4.3-6.9 4.2-7.4 4.3-7.8 2.9-5.5 2.8-5.6 2.9-5.8 3.6-7.8 3.3-7.5 3.3-7.8 1.3-3.3-3.5 6.9-3.5 6.2-3.5 5.3-2.7 3.5-2.6 3.1-2.6 2.7-2.6 2.2-2.6 1.8-1.8 .9-1.7 .7-1.8 .6-1.7 .4-1.8 .1-1.7 0-1.8-.2-1.7-.4-1.8-.6-1.7-.8-1.8-1-2.6-1.8-2.6-2.3-2.6-2.7-2.6-3.1-2.7-3.6-3.5-5.5-3.5-6.2-3.5-7-2.6-5.7-2.6-6.2-2.6-6.6-2.6-7-2.7-7.5-2.6-7.9-2.6-8.4-.9-2.9z" fill="#fdee19"/><path d="M162.4 26.6l-2.1-.1-3.3 8.1-3.4 7.7-3.4 7.3-3.4 6.9-3.4 6.4-3.4 6-3.4 5.5-3.4 5.1-3.4 4.7-3.4 4.3-3.4 3.8-3.4 3.4-3.4 2.9-3.4 2.5-2.2 1.5-2.3 1.2-2.3 1-2.2 .9-2.3 .7-2.3 .4-2.2 .3-2.3 .1-2.2-.1-2.3-.3-2.3-.5-2.2-.7-2.3-.9-2.3-1-2.2-1.3-2.3-1.5-3.4-2.5-3.4-3-3.4-3.4-3.4-3.9-3.4-4.2-3.4-4.8-3.4-5.1-3.3-5.6-.3 1 1.7 5.8 2.7 8.2 2.6 7.8 2.6 7.4 2.6 7 2.6 6.5 2.6 6.1 2.7 5.7 3.4 6.9 3.2 5.6 4.3 7.1 4.3 6.8 4.2 6.2 4.3 5.9 4.3 5.4 4.3 5 4.2 4.5 4.3 4.1 4.3 3.7 4.3 3.3 4.2 2.8 2.9 1.6 2.8 1.5 2.9 1.2 2.8 1.1 2.9 .9 2.8 .7 2.9 .4 2.8 .3 2.9 .2 2.8-.1 2.9-.3 2.9-.5 2.8-.6 2.9-.9 2.8-1 2.9-1.2 2.8-1.5 2.9-1.6 2.8-1.8 4.3-3.1 4.3-3.5 4.2-3.9 4.3-4.4 4.3-4.8 4.3-5.2 4.2-5.6 4.3-6.1 4.3-6.6 4.3-6.9 4.2-7.4 4.3-7.8 2.9-5.5 2.8-5.6 2.9-5.8 3.5-7.5 3.1-7 3.1-7.4 1-2.5 .3-1-3.5 6.8-3.5 6-2.6 4-2.6 3.6-2.6 3.1-2.7 2.8-2.6 2.2-2.6 1.9-1.8 1-1.7 .8-1.7 .6-1.8 .4-1.7 .2-1.8 0-1.7-.1-1.8-.4-1.7-.5-1.8-.8-1.7-.9-2.6-1.8-2.7-2.2-2.6-2.6-2.6-3.1-2.6-3.5-3.5-5.3-3.5-6.1-3.5-6.9-2.6-5.7-2.7-6.1-2.6-6.5-2.6-7-2.6-7.4-2.6-7.9-2.7-8.2-.8-2.9z" fill="#fdea18"/><path d="M162.8 28.1l-3-.2-3.4 8.1-3.4 7.6-3.4 7.2-3.4 6.8-3.4 6.3-3.4 5.9-3.4 5.5-3.4 5.1-3.4 4.6-3.4 4.1-3.4 3.8-3.4 3.3-3.4 2.9-3.3 2.4-2.3 1.4-2.3 1.2-2.2 1-2.3 .8-2.3 .6-2.2 .4-2.3 .3-2.2 0-2.3-.2-2.3-.3-2.2-.6-2.3-.7-2.3-.9-2.2-1.1-2.3-1.4-3.4-2.3-3.4-2.7-3.4-3.2-3.4-3.7-3.4-4-3.3-4.5-3.4-5-3.4-5.3-1.2-1.9-.4 1.5 2.6 8.3 2.6 7.9 2.5 7.5 2.6 7.1 2.6 6.7 2.6 6.2 2.5 5.8 3.5 7.2 3.4 6.3 4.3 7.3 4.2 6.9 4.3 6.4 4.3 6 4.3 5.5 4.2 5.1 4.3 4.7 4.3 4.3 4.3 3.8 4.2 3.4 4.3 3 2.9 1.7 2.8 1.6 2.9 1.3 2.8 1.2 2.9 1 2.8 .7 2.9 .6 2.8 .4 2.9 .2 2.8 0 2.9-.1 2.8-.4 2.9-.6 2.8-.7 2.9-1 2.8-1.1 2.9-1.3 2.8-1.6 2.9-1.7 4.3-2.9 4.2-3.4 4.3-3.7 4.3-4.3 4.3-4.6 4.2-5.1 4.3-5.5 4.3-6 4.3-6.3 4.2-6.8 4.3-7.3 4.3-7.7 2.8-5.3 2.9-5.6 2.8-5.7 2.9-5.9 3.3-7.2 3.3-7.5 2.2-5.3 .4-1.5-3.5 6.7-3.5 5.9-2.6 3.9-2.7 3.6-2.6 3-2.6 2.7-2.6 2.2-2.6 1.8-1.8 .9-1.7 .8-1.8 .5-1.7 .4-1.8 .1-1.7 0-1.8-.2-1.7-.4-1.8-.6-1.7-.8-1.8-1-2.6-1.8-2.6-2.3-2.6-2.7-2.6-3.1-2.7-3.6-3.5-5.4-3.5-6.2-3.4-7-2.7-5.8-2.6-6.1-2.6-6.7-2.6-7-2.6-7.5-2.7-7.9-2.6-8.3z" fill="#fde718"/><path d="M163.3 29.6l-4.1-.3-3.4 8-3.4 7.6-3.4 7.1-3.4 6.7-3.4 6.3-3.4 5.8-3.4 5.4-3.4 5-3.4 4.5-3.3 4.1-3.4 3.7-3.4 3.2-3.4 2.8-3.4 2.4-2.3 1.3-2.2 1.1-2.3 1-2.3 .8-2.2 .5-2.3 .4-2.2 .2-2.3 0-2.3-.2-2.2-.4-2.3-.6-2.3-.8-2.2-1-2.3-1.1-2.2-1.4-3.4-2.4-3.4-2.8-3.4-3.3-3.4-3.7-3.4-4.1-3.4-4.6-3.4-5-3.4-5.4-.5 2 2.6 8.4 2.6 7.9 2.6 7.6 2.6 7.1 2.7 6.6 2.6 6.3 2.6 5.8 3.5 7 2.6 4.8 4.3 7.3 4.2 6.9 4.3 6.4 4.3 6 4.3 5.5 4.2 5.1 4.3 4.7 4.3 4.3 4.3 3.8 4.2 3.4 4.3 3 2.9 1.7 2.8 1.6 2.9 1.3 2.8 1.2 2.9 1 2.8 .7 2.9 .6 2.8 .4 2.9 .2 2.8 0 2.9-.1 2.8-.4 2.9-.6 2.8-.7 2.9-1 2.8-1.1 2.9-1.3 2.8-1.6 2.9-1.7 4.3-2.9 4.2-3.4 4.3-3.7 4.3-4.3 4.3-4.6 4.2-5.1 4.3-5.5 4.3-6 4.3-6.3 4.2-6.8 4.3-7.3 4.3-7.7 2.8-5.3 2.9-5.6 2.8-5.7 2.9-5.9 3.1-6.7 3-7 2.1-4.9 .5-2-3.5 6.6-3.5 5.8-2.6 3.9-2.6 3.4-2.6 3-2.7 2.6-2.6 2.1-1.7 1.2-1.8 1-1.7 .8-1.8 .6-1.7 .4-1.7 .2-1.8 0-1.7-.1-1.8-.4-1.7-.5-1.8-.8-1.7-.9-2.6-1.8-2.7-2.2-2.6-2.6-2.6-3.1-2.6-3.5-3.5-5.3-3.5-6.1-3.5-6.9-2.6-5.7-2.6-6.1-2.7-6.5-2.6-7-2.6-7.4-2.6-7.8-2.6-8.3z" fill="#fee417"/><path d="M163.7 31.1l-5.1-.4-3.4 7.9-3.4 7.5-3.4 7.1-3.4 6.6-3.4 6.2-3.4 5.8-3.3 5.3-3.4 4.9-3.4 4.4-3.4 4.1-3.4 3.5-3.4 3.2-3.4 2.7-3.4 2.3-2.2 1.3-2.3 1.1-2.3 .9-2.2 .7-2.3 .5-2.2 .4-2.3 .1-2.3-.1-2.2-.2-2.3-.5-2.3-.6-2.2-.8-2.3-1-2.2-1.3-2.3-1.4-3.4-2.4-3.4-2.9-3.4-3.4-3.4-3.7-3.4-4.2-3.3-4.7-3.4-5-2.3-3.7-.7 2.6 2.6 8.1 2.6 7.8 2.5 7.3 2.6 7 2.6 6.5 2.5 6 2.6 5.7 3.4 6.9 2.6 4.7 4.3 7.3 4.2 6.9 4.3 6.4 4.3 6 4.3 5.5 4.2 5.1 4.3 4.7 4.3 4.3 4.3 3.8 4.2 3.4 4.3 3 2.9 1.7 2.8 1.6 2.9 1.3 2.8 1.2 2.9 1 2.8 .7 2.9 .6 2.8 .4 2.9 .2 2.8 0 2.9-.1 2.8-.4 2.9-.6 2.8-.7 2.9-1 2.8-1.1 2.9-1.3 2.8-1.6 2.9-1.7 4.3-2.9 4.2-3.4 4.3-3.7 4.3-4.3 4.3-4.6 4.2-5.1 4.3-5.5 4.3-6 4.3-6.3 4.2-6.8 4.3-7.3 4.3-7.7 2.8-5.3 2.9-5.6 2.8-5.7 2.9-5.9 3.3-7.1 3.2-7.5 1.1-2.6 .7-2.5-3.5 6.5-3.5 5.7-2.6 3.8-2.7 3.4-2.6 2.9-2.6 2.5-2.6 2-1.8 1.2-1.7 .9-1.8 .8-1.7 .5-1.7 .4-1.8 .1-1.7 0-1.8-.2-1.7-.4-1.8-.6-1.7-.8-1.8-1-2.6-1.8-2.6-2.3-2.6-2.7-2.6-3.1-2.7-3.6-3.4-5.4-3.5-6.2-3.5-7-2.6-5.7-2.7-6.2-2.6-6.6-2.6-7-2.6-7.5-2.6-7.9-1.8-5.5z" fill="#fee116"/><path d="M164.2 32.6l-6.2-.4-3.4 7.8-3.4 7.4-3.4 7-3.4 6.5-3.4 6.1-3.3 5.7-3.4 5.3-3.4 4.8-3.4 4.4-3.4 3.9-3.4 3.5-3.4 3.1-3.4 2.6-2.2 1.6-2.3 1.3-2.2 1.1-2.3 1-2.3 .8-2.2 .5-2.3 .4-2.2 .2-2.3 0-2.3-.2-2.2-.4-2.3-.6-2.2-.8-2.3-1-2.3-1.1-2.2-1.4-3.4-2.4-3.4-2.8-3.4-3.3-3.4-3.6-3.4-4.2-3.3-4.5-3.4-5-2.3-3.6-.8 3.1 2.6 8.2 2.6 7.8 2.6 7.4 2.6 6.9 2.7 6.5 2.6 6.1 2.6 5.6 3.4 6.9 3.2 5.6 4.3 7.1 4.3 6.8 4.2 6.2 4.3 5.9 4.3 5.4 4.3 5 4.2 4.5 4.3 4.1 4.3 3.7 4.3 3.3 4.2 2.8 2.9 1.6 2.8 1.5 2.9 1.2 2.8 1.1 2.9 .9 2.8 .7 2.9 .4 2.8 .3 2.9 .2 2.8-.1 2.9-.3 2.9-.5 2.8-.6 2.9-.9 2.8-1 2.9-1.2 2.8-1.5 2.9-1.6 2.8-1.8 4.3-3.1 4.3-3.5 4.2-3.9 4.3-4.4 4.3-4.8 4.3-5.2 4.2-5.6 4.3-6.1 4.3-6.6 4.3-6.9 4.2-7.4 4.3-7.8 2.9-5.5 2.8-5.6 2.9-5.8 3.4-7.3 3-6.7 2.1-5 .7-2.8-3.5 6.4-3.5 5.6-2.6 3.7-2.6 3.3-2.6 2.8-2.7 2.5-2.6 1.9-1.7 1.1-1.8 .9-1.7 .7-1.7 .5-1.8 .3-1.7 .2-1.8-.1-1.7-.3-1.8-.4-1.7-.7-1.8-.8-1.7-1.1-2.6-1.9-2.6-2.3-2.6-2.8-2.7-3.2-2.6-3.6-3.5-5.5-3.5-6.3-3.4-7.1-2.7-5.8-2.6-6.2-2.6-6.7-2.6-7.1-2.6-7.5-2.6-8-.9-2.7z" fill="#fede16"/><path d="M164.7 34.1l-6.2-.4-1.1-.1-3.4 7.8-3.4 7.3-3.4 6.9-3.4 6.4-3.3 6.1-3.4 5.6-3.4 5.1-3.4 4.8-3.4 4.3-3.4 3.8-3.4 3.5-3.3 3-3.4 2.6-2.3 1.4-2.2 1.3-2.3 1.1-2.3 .9-2.2 .7-2.3 .5-2.2 .4-2.3 .1-2.3-.1-2.2-.2-2.3-.5-2.2-.6-2.3-.8-2.2-1-2.3-1.2-2.3-1.4-3.3-2.5-3.4-2.9-3.4-3.3-3.4-3.8-3.4-4.2-3.4-4.6-3.4-5-1.1-1.8-.8 3-.1 .6 2.5 8 2.6 7.6 2.5 7.1 2.6 6.8 2.6 6.3 2.5 5.9 2.6 5.6 3.4 6.7 3.1 5.5 4.3 7.1 4.3 6.8 4.2 6.2 4.3 5.9 4.3 5.4 4.3 5 4.2 4.5 4.3 4.1 4.3 3.7 4.3 3.3 4.2 2.8 2.9 1.6 2.8 1.5 2.9 1.2 2.8 1.1 2.9 .9 2.8 .7 2.9 .4 2.8 .3 2.9 .2 2.8-.1 2.9-.3 2.9-.5 2.8-.6 2.9-.9 2.8-1 2.9-1.2 2.8-1.5 2.9-1.6 2.8-1.8 4.3-3.1 4.3-3.5 4.2-3.9 4.3-4.4 4.3-4.8 4.3-5.2 4.2-5.6 4.3-6.1 4.3-6.6 4.3-6.9 4.2-7.4 4.3-7.8 2.9-5.5 2.8-5.6 2.9-5.8 3.5-7.6 3.2-7.2 1.1-2.5 .9-3.6-3.5 6.3-3.5 5.5-2.6 3.6-2.6 3.2-2.6 2.8-2.6 2.3-2.6 1.9-1.8 1.1-1.7 .8-1.8 .7-1.7 .4-1.7 .3-1.8 .1-1.7-.2-1.8-.3-1.7-.5-1.8-.7-1.7-.9-1.7-1-2.6-2-2.7-2.4-2.6-2.9-2.6-3.2-2.6-3.7-3.5-5.7-3.5-6.3-3.5-7.2-2.6-5.8-2.6-6.3-2.6-6.8-2.6-7.1-2.6-7.6-2.6-8z" fill="#ffdb15"/><path d="M165.2 35.6l-6.7-.5-1.7 0-3.4 7.6-3.4 7.3-3.4 6.8-3.4 6.3-3.3 6-3.4 5.5-3.4 5.1-3.4 4.6-3.4 4.3-3.4 3.8-3.3 3.3-3.4 2.9-3.4 2.5-2.3 1.5-2.2 1.2-2.3 1-2.2 .9-2.3 .7-2.2 .4-2.3 .3-2.2 .1-2.3-.1-2.3-.3-2.2-.5-2.3-.7-2.2-.8-2.3-1.1-2.2-1.3-3.4-2.2-3.4-2.7-3.4-3.1-3.4-3.5-3.3-4-3.4-4.3-3.4-4.9-2.3-3.4-.9 3.3-.1 .8 2.6 8.1 2.6 7.6 2.6 7.2 2.6 6.7 2.6 6.4 2.6 5.9 2.6 5.5 3.4 6.6 3.7 6.4 4.3 7 4.3 6.6 4.3 6.1 4.2 5.7 4.3 5.3 4.3 4.8 4.3 4.4 4.2 4 4.3 3.5 4.3 3.1 2.8 1.9 2.9 1.6 2.8 1.5 2.9 1.2 2.8 1.1 2.9 .9 2.8 .7 2.9 .4 2.8 .3 2.9 .2 2.8-.1 2.9-.3 2.9-.5 2.8-.6 2.9-.9 2.8-1 2.9-1.2 2.8-1.5 2.9-1.6 2.8-1.8 4.3-3.1 4.3-3.5 4.2-3.9 4.3-4.4 4.3-4.8 4.3-5.2 4.2-5.6 4.3-6.1 4.3-6.6 4.3-6.9 4.2-7.4 4.3-7.8 2.9-5.5 2.8-5.6 2.9-5.8 3.3-7.2 2.9-6.4 1.2-3.1 .8-3.3-3.4 6.2-3.5 5.4-2.6 3.5-2.6 3.2-2.7 2.6-2.6 2.3-2.6 1.8-1.7 1-1.8 .8-1.7 .6-1.7 .4-1.8 .2-1.7 0-1.8-.1-1.7-.4-1.7-.5-1.8-.8-1.7-.9-2.6-1.8-2.7-2.2-2.6-2.6-2.6-3-2.6-3.5-3.5-5.3-3.5-6.1-3.4-6.9-2.6-5.6-2.7-6.1-2.6-6.5-2.6-6.9-2.6-7.3-2.6-7.8-.9-2.7z" fill="#ffd815"/><path d="M165.6 37.1l-7.2-.5-2.3-.1-3.3 7.6-3.4 7.1-3.4 6.7-3.4 6.3-3.3 5.9-3.4 5.4-3.4 5-3.4 4.6-3.4 4.1-3.3 3.8-3.4 3.2-3.4 2.9-3.4 2.4-2.2 1.4-2.3 1.2-2.2 1-2.3 .8-2.2 .6-2.3 .4-2.2 .3-2.3 0-2.3-.2-2.2-.3-2.3-.5-2.2-.8-2.3-.9-2.2-1.1-2.3-1.3-3.3-2.3-3.4-2.7-3.4-3.2-3.4-3.6-3.4-4-3.3-4.5-3.4-4.8-1.1-1.8-.8 2.4-.5 2.3 2.6 7.8 2.5 7.4 2.6 7 2.5 6.6 2.6 6.1 2.5 5.8 3.4 7 3.4 6.3 4.3 7.3 4.2 6.9 4.3 6.4 4.3 6 4.3 5.5 4.2 5.1 4.3 4.7 4.3 4.3 4.3 3.8 4.2 3.4 4.3 3 2.9 1.7 2.8 1.6 2.9 1.3 2.8 1.2 2.9 1 2.8 .7 2.9 .6 2.8 .4 2.9 .2 2.8 0 2.9-.1 2.8-.4 2.9-.6 2.8-.7 2.9-1 2.8-1.1 2.9-1.3 2.8-1.6 2.9-1.7 4.3-2.9 4.2-3.4 4.3-3.7 4.3-4.3 4.3-4.6 4.2-5.1 4.3-5.5 4.3-6 4.3-6.3 4.2-6.8 4.3-7.3 4.3-7.7 2.8-5.3 2.9-5.6 2.8-5.7 2.9-5.9 3.1-6.7 2-4.7 1.1-3.6 .2-1.1-3.5 6.1-3.5 5.2-2.6 3.5-2.6 3.1-2.6 2.6-2.6 2.2-2.6 1.7-1.8 .9-1.7 .8-1.8 .5-1.7 .4-1.7 .1-1.8 0-1.7-.2-1.7-.4-1.8-.6-1.7-.8-1.8-1-2.6-1.8-2.6-2.3-2.6-2.7-2.6-3.1-2.6-3.5-3.5-5.4-3.5-6.2-3.4-6.9-2.7-5.7-2.6-6.1-2.6-6.6-2.6-7-2.6-7.4-2.6-7.9z" fill="#ffd314"/><path d="M166.1 38.7l-6.5-.6-4.1-.2-3.4 7.5-3.3 7.1-3.4 6.6-3.4 6.2-3.4 5.8-3.3 5.4-3.4 4.9-3.4 4.5-3.4 4-3.3 3.7-3.4 3.2-3.4 2.7-3.4 2.4-2.2 1.3-2.3 1.2-2.2 .9-2.2 .8-2.3 .5-2.2 .4-2.3 .2-2.2 0-2.3-.2-2.2-.4-2.3-.6-2.2-.8-2.3-.9-2.2-1.2-2.3-1.3-3.4-2.4-3.3-2.8-3.4-3.2-3.4-3.7-3.4-4-3.3-4.6-3.4-4.9-.9 2.6-.5 2.7 2.6 7.8 2.6 7.4 2.6 7 2.6 6.6 2.6 6.2 2.5 5.7 3.5 7 2.6 4.7 4.3 7.3 4.2 6.9 4.3 6.4 4.3 6 4.3 5.5 4.2 5.1 4.3 4.7 4.3 4.3 4.3 3.8 4.2 3.4 4.3 3 2.9 1.7 2.8 1.6 2.9 1.3 2.8 1.2 2.9 1 2.8 .7 2.9 .6 2.8 .4 2.9 .2 2.8 0 2.9-.1 2.8-.4 2.9-.6 2.8-.7 2.9-1 2.8-1.1 2.9-1.3 2.8-1.6 2.9-1.7 4.3-2.9 4.2-3.4 4.3-3.7 4.3-4.3 4.3-4.6 4.2-5.1 4.3-5.5 4.3-6 4.3-6.3 4.2-6.8 4.3-7.3 4.3-7.7 2.8-5.3 2.9-5.6 2.8-5.7 2.9-5.9 3.4-7.4 1.4-3.3 .8-3.1 .3-1.4-3.5 5.9-3.5 5.2-2.6 3.4-2.6 3-2.6 2.5-2.6 2.1-1.7 1.2-1.8 .9-1.7 .8-1.7 .6-1.8 .4-1.7 .2-1.7 0-1.8-.1-1.7-.4-1.8-.5-1.7-.8-1.7-.9-2.6-1.8-2.6-2.2-2.6-2.6-2.7-3-2.6-3.5-3.4-5.3-3.5-6-3.5-6.8-2.6-5.7-2.6-6-2.6-6.5-2.6-6.9-2.6-7.3-2.6-7.8z" fill="#ffcd13"/><path d="M166.6 40.2l-5.8-.5-5.9-.3-3.4 7.4-3.4 7-3.3 6.5-3.4 6.1-3.4 5.7-3.3 5.3-3.4 4.8-3.4 4.4-3.3 4-3.4 3.6-3.4 3.1-3.4 2.7-3.3 2.2-2.3 1.3-2.2 1.1-2.3 .9-2.2 .7-2.3 .5-2.2 .4-2.2 .1-2.3-.1-2.2-.2-2.3-.4-2.2-.7-2.3-.8-2.2-1-2.3-1.2-2.2-1.3-3.4-2.5-3.4-2.8-3.3-3.3-3.4-3.7-3.4-4.2-3.3-4.5-2.3-3.3-.9 2.9-.6 2.9 2.5 7.6 2.6 7.2 2.5 6.8 2.5 6.3 2.6 6 2.5 5.6 3.4 6.8 2.5 4.6 4.3 7.3 4.2 6.9 4.3 6.4 4.3 6 4.3 5.5 4.2 5.1 4.3 4.7 4.3 4.3 4.3 3.8 4.2 3.4 4.3 3 2.9 1.7 2.8 1.6 2.9 1.3 2.8 1.2 2.9 1 2.8 .7 2.9 .6 2.8 .4 2.9 .2 2.8 0 2.9-.1 2.8-.4 2.9-.6 2.8-.7 2.9-1 2.8-1.1 2.9-1.3 2.8-1.6 2.9-1.7 4.3-2.9 4.2-3.4 4.3-3.7 4.3-4.3 4.3-4.6 4.2-5.1 4.3-5.5 4.3-6 4.3-6.3 4.2-6.8 4.3-7.3 4.3-7.7 2.8-5.3 2.9-5.6 2.8-5.7 2.9-5.9 2.9-6.3 1.4-3.3 .8-3.1 .3-1.6-3.5 5.8-2.6 3.9-2.6 3.4-2.6 3-2.6 2.6-2.6 2.2-2.6 1.7-1.7 1-1.8 .7-1.7 .5-1.7 .4-1.8 .1-1.7 0-1.7-.2-1.8-.4-1.7-.6-1.7-.8-1.8-1-2.6-1.8-2.6-2.3-2.6-2.6-2.6-3.1-2.6-3.6-3.4-5.3-3.5-6.2-3.5-6.9-2.6-5.6-2.6-6.1-2.6-6.6-2.6-6.9-2.6-7.4-1.7-5.2z" fill="#ffc712"/><path d="M167.1 41.7l-6.4-.6-6.5-.3-3.3 7.3-3.4 6.9-3.4 6.5-3.3 6-3.4 5.6-3.3 5.2-3.4 4.7-3.4 4.4-3.3 3.9-3.4 3.4-3.4 3.1-3.3 2.6-3.4 2.2-2.2 1.2-2.3 1.1-2.2 .8-2.3 .7-2.2 .4-2.2 .3-2.3 .1-2.2-.1-2.3-.3-2.2-.5-2.3-.6-2.2-.9-2.2-1-2.3-1.3-3.4-2.2-3.3-2.6-3.4-3.1-3.3-3.4-3.4-4-3.4-4.3-3.3-4.8-1.1 3.2-.6 3.2 2.6 7.7 2.6 7.2 2.5 6.8 2.6 6.4 2.6 5.9 2.5 5.6 3.5 6.7 3.1 5.6 4.3 7.1 4.3 6.8 4.2 6.2 4.3 5.9 4.3 5.4 4.3 5 4.2 4.5 4.3 4.1 4.3 3.7 4.3 3.3 4.2 2.8 2.9 1.6 2.8 1.5 2.9 1.2 2.8 1.1 2.9 .9 2.8 .7 2.9 .4 2.8 .3 2.9 .2 2.8-.1 2.9-.3 2.9-.5 2.8-.6 2.9-.9 2.8-1 2.9-1.2 2.8-1.5 2.9-1.6 2.8-1.8 4.3-3.1 4.3-3.5 4.2-3.9 4.3-4.4 4.3-4.8 4.3-5.2 4.2-5.6 4.3-6.1 4.3-6.6 4.3-6.9 4.2-7.4 4.3-7.8 2.9-5.5 2.8-5.6 2.9-5.8 3.6-7.7 1.5-3.7 .9-3.1 .3-1.9-3.5 5.7-2.6 3.8-2.6 3.3-2.6 3-2.6 2.5-2.6 2.1-2.6 1.6-1.7 .9-1.7 .7-1.7 .4-1.8 .3-1.7 .2-1.7-.1-1.8-.3-1.7-.4-1.7-.7-1.8-.8-1.7-1.1-2.6-1.8-2.6-2.4-2.6-2.7-2.6-3.2-2.6-3.6-3.4-5.4-3.5-6.2-3.5-7-2.6-5.7-2.6-6.2-2.6-6.6-2.6-7-2.6-7.4-.8-2.6z" fill="#ffc111"/><path d="M167.6 43.2l-7-.6-7-.3-3.4 7.2-3.3 6.8-3.4 6.3-3.3 6-3.4 5.5-3.4 5.1-3.3 4.6-3.4 4.3-3.3 3.8-3.4 3.4-3.3 3-3.4 2.5-3.4 2.1-2.2 1.2-2.2 1-2.3 .8-2.2 .6-2.3 .4-2.2 .2-2.2 .1-2.3-.2-2.2-.3-2.2-.5-2.3-.7-2.2-.9-2.3-1.1-2.2-1.3-3.4-2.2-3.3-2.7-3.4-3.2-3.3-3.5-3.4-4-3.3-4.3-2.3-3.2-.8 2.2-.6 2.5-.4 2.2 2.6 7.7 2.6 7.3 2.7 6.8 2.6 6.4 2.6 6 2.6 5.5 3.5 6.7 3.7 6.4 4.3 7 4.3 6.6 4.3 6.1 4.2 5.7 4.3 5.3 4.3 4.8 4.3 4.4 4.2 4 4.3 3.5 4.3 3.1 2.8 1.9 2.9 1.6 2.8 1.5 2.9 1.2 2.8 1.1 2.9 .9 2.8 .7 2.9 .4 2.8 .3 2.9 .2 2.8-.1 2.9-.3 2.9-.5 2.8-.6 2.9-.9 2.8-1 2.9-1.2 2.8-1.5 2.9-1.6 2.8-1.8 4.3-3.1 4.3-3.5 4.2-3.9 4.3-4.4 4.3-4.8 4.3-5.2 4.2-5.6 4.3-6.1 4.3-6.6 4.3-6.9 4.2-7.4 4.3-7.8 2.9-5.5 2.8-5.6 2.9-5.8 3.1-6.7 1.5-3.6 .8-3 .4-2.3-3.5 5.6-2.6 3.7-2.6 3.3-2.5 2.9-2.6 2.4-2.6 2-1.8 1.1-1.7 .9-1.7 .7-1.7 .5-1.8 .4-1.7 .1-1.7 0-1.8-.2-1.7-.4-1.7-.6-1.7-.8-1.8-1-2.6-1.8-2.6-2.2-2.5-2.7-2.6-3.1-2.6-3.5-3.5-5.4-3.4-6.1-3.5-6.8-2.6-5.6-2.6-6.1-2.6-6.5-2.6-6.9-2.6-7.3-.8-2.6z" fill="#ffbb11"/><path d="M168.1 44.8l-6.3-.6-6.1-.4-2.8-.1-3.4 7.2-3.4 6.8-3.3 6.3-3.4 5.9-3.4 5.5-3.4 5-3.4 4.6-3.4 4.2-3.4 3.7-3.4 3.3-3.4 2.9-3.4 2.4-2.2 1.4-2.3 1.2-2.2 1-2.3 .8-2.3 .6-2.2 .4-2.3 .3-2.2 0-2.3-.2-2.3-.3-2.2-.6-2.3-.7-2.2-.9-2.3-1.1-2.3-1.3-3.3-2.4-3.4-2.7-3.4-3.2-3.4-3.6-3.4-4.1-3.4-4.5-1.1-1.6-1 2.6-.6 2.4-.4 2.6 2.6 7.4 2.5 7 2.6 6.6 2.5 6.2 2.6 5.8 3.4 7 3.4 6.3 4.3 7.3 4.2 6.9 4.3 6.4 4.3 6 4.3 5.5 4.2 5.1 4.3 4.7 4.3 4.3 4.3 3.8 4.2 3.4 4.3 3 2.9 1.7 2.8 1.6 2.9 1.3 2.8 1.2 2.9 1 2.8 .7 2.9 .6 2.8 .4 2.9 .2 2.8 0 2.9-.1 2.8-.4 2.9-.6 2.8-.7 2.9-1 2.8-1.1 2.9-1.3 2.8-1.6 2.9-1.7 4.3-2.9 4.2-3.4 4.3-3.7 4.3-4.3 4.3-4.6 4.2-5.1 4.3-5.5 4.3-6 4.3-6.3 4.2-6.8 4.3-7.3 4.3-7.7 2.8-5.3 2.9-5.6 2.8-5.7 2.9-5.9 2.5-5.5 1-3.6 .4-2.6-3.5 5.5-2.6 3.7-2.6 3.2-2.7 2.8-2.6 2.3-2.6 1.9-1.7 1.1-1.8 .8-1.7 .7-1.8 .4-1.7 .3-1.8 .1-1.7-.2-1.8-.3-1.7-.5-1.7-.7-1.8-.9-1.7-1-2.7-2-2.6-2.4-2.6-2.9-2.6-3.3-2.6-3.7-3.5-5.6-3.5-6.4-3.5-7.1-2.6-5.9-2.6-6.3-2.6-6.8-2.7-7.1-1.7-5z" fill="#ffb510"/><path d="M168.6 46.3l-5.7-.6-6-.3-4.7-.2-3.3 7.1-3.4 6.7-3.4 6.2-3.4 5.8-3.4 5.4-3.3 4.9-3.4 4.5-3.4 4.1-3.4 3.6-3.4 3.2-3.4 2.8-3.3 2.4-2.3 1.3-2.2 1.2-2.3 .9-2.3 .8-2.2 .5-2.3 .4-2.2 .2-2.3 0-2.2-.2-2.3-.4-2.2-.6-2.3-.8-2.2-.9-2.3-1.2-2.3-1.3-3.3-2.4-3.4-2.8-3.4-3.3-3.4-3.7-3.4-4.1-3.3-4.5-1.1 2.8-.7 2.4-.4 2.9 2.6 7.5 2.6 7 2.6 6.6 2.6 6.2 2.6 5.8 3.5 7 2.6 4.7 4.3 7.3 4.2 6.9 4.3 6.4 4.3 6 4.3 5.5 4.2 5.1 4.3 4.7 4.3 4.3 4.3 3.8 4.2 3.4 4.3 3 2.9 1.7 2.8 1.6 2.9 1.3 2.8 1.2 2.9 1 2.8 .7 2.9 .6 2.8 .4 2.9 .2 2.8 0 2.9-.1 2.8-.4 2.9-.6 2.8-.7 2.9-1 2.8-1.1 2.9-1.3 2.8-1.6 2.9-1.7 4.3-2.9 4.2-3.4 4.3-3.7 4.3-4.3 4.3-4.6 4.2-5.1 4.3-5.5 4.3-6 4.3-6.3 4.2-6.8 4.3-7.3 4.3-7.7 2.8-5.3 2.9-5.6 2.8-5.7 2.9-5.9 1.9-4.4 1.1-3.5 .4-2.9-3.5 5.4-2.6 3.5-2.6 3.2-2.7 2.7-2.6 2.2-2.6 1.8-1.7 1-1.8 .8-1.7 .6-1.7 .4-1.8 .2-1.7 0-1.8-.1-1.7-.4-1.7-.5-1.8-.8-1.7-.9-2.6-1.8-2.7-2.2-2.6-2.6-2.6-3-2.6-3.5-3.5-5.3-3.4-6.1-3.5-6.8-2.6-5.7-2.7-6-2.6-6.5-2.6-7-2.6-7.3z" fill="#fdb40f"/><path d="M169.2 47.9l-6.4-.7-6-.3-5.2-.2-3.4 7-3.4 6.5-3.4 6.1-3.3 5.7-3.4 5.3-3.4 4.9-3.3 4.4-3.4 4-3.4 3.5-3.4 3.2-3.3 2.7-3.4 2.2-2.3 1.3-2.2 1.1-2.3 .9-2.2 .7-2.3 .5-2.2 .4-2.3 .1-2.2-.1-2.3-.2-2.2-.4-2.3-.7-2.2-.8-2.3-1-2.2-1.2-2.2-1.4-3.4-2.4-3.4-2.9-3.4-3.3-3.3-3.7-3.4-4.1-2.3-3-1.2 3.1-.6 2.4-.4 3.2 2.5 7.1 2.5 6.8 2.5 6.4 2.6 6 2.5 5.5 3.4 6.8 2.5 4.6 4.3 7.3 4.2 6.9 4.3 6.4 4.3 6 4.3 5.5 4.2 5.1 4.3 4.7 4.3 4.3 4.3 3.8 4.2 3.4 4.3 3 2.9 1.7 2.8 1.6 2.9 1.3 2.8 1.2 2.9 1 2.8 .7 2.9 .6 2.8 .4 2.9 .2 2.8 0 2.9-.1 2.8-.4 2.9-.6 2.8-.7 2.9-1 2.8-1.1 2.9-1.3 2.8-1.6 2.9-1.7 4.3-2.9 4.2-3.4 4.3-3.7 4.3-4.3 4.3-4.6 4.2-5.1 4.3-5.5 4.3-6 4.3-6.3 4.2-6.8 4.3-7.3 4.3-7.7 2.8-5.3 2.9-5.6 2.8-5.7 2.9-5.9 1.6-3.8 .8-3 .4-3.1-3.4 5.2-2.6 3.5-2.7 3-2.6 2.6-2.6 2.2-2.6 1.7-1.7 1-1.7 .7-1.8 .5-1.7 .4-1.7 .1-1.8 0-1.7-.2-1.8-.4-1.7-.6-1.7-.8-1.8-1-2.6-1.8-2.6-2.3-2.6-2.6-2.6-3.2-2.6-3.5-3.5-5.4-3.4-6.1-3.5-6.9-2.6-5.7-2.6-6.1-2.6-6.6-2.6-6.9-1.8-4.9z" fill="#fab60f"/><path d="M169.7 49.4l-7-.7-7.1-.4-4.7-.2-3.4 6.9-3.3 6.5-3.4 6-3.4 5.6-3.3 5.2-3.4 4.7-3.4 4.4-3.3 3.9-3.4 3.4-3.4 3.1-3.3 2.6-3.4 2.2-2.2 1.2-2.3 1.1-2.2 .8-2.3 .7-2.2 .4-2.3 .3-2.2 .1-2.2-.1-2.3-.3-2.2-.5-2.3-.6-2.2-.9-2.3-1-2.2-1.3-3.4-2.2-3.3-2.6-3.4-3.1-3.4-3.5-3.3-3.9-3.4-4.3-.9 2.3-.8 2.3-.6 3.6-.1 1.1 2.6 7.2 2.5 6.8 2.6 6.4 2.6 6 2.5 5.5 3.5 6.7 3.1 5.6 4.3 7.1 4.3 6.7 4.2 6.3 4.3 5.9 4.3 5.4 4.2 4.9 4.3 4.6 4.3 4.1 4.3 3.7 4.2 3.2 4.3 2.9 2.9 1.6 2.8 1.5 2.9 1.2 2.8 1.1 2.9 .9 2.8 .6 2.9 .5 2.8 .3 2.9 .2 2.8-.1 2.9-.3 2.8-.5 2.9-.6 2.8-.9 2.9-1 2.8-1.2 2.8-1.4 2.9-1.7 2.8-1.8 4.3-3 4.3-3.5 4.3-3.9 4.2-4.4 4.3-4.8 4.3-5.2 4.3-5.6 4.2-6.1 4.3-6.5 4.3-7 4.3-7.3 4.2-7.8 2.9-5.5 2.8-5.6 2.9-5.8 2.3-5.2 1.1-3.6 .4-3.5-3.5 5.2-2.6 3.3-2.6 3-2.6 2.5-2.6 2-2.6 1.7-1.7 .9-1.7 .7-1.7 .4-1.8 .3-1.7 .2-1.7-.1-1.8-.3-1.7-.4-1.7-.7-1.8-.8-1.7-1.1-2.6-1.8-2.6-2.4-2.6-2.7-2.6-3.2-2.6-3.6-3.5-5.4-3.4-6.2-3.5-7-2.6-5.7-2.6-6.2-2.6-6.6-2.6-7-.8-2.4z" fill="#f7b90f"/><path d="M170.2 51l-6.4-.7-5.9-.4-7.2-.3-.5 0-3.4 6.9-3.4 6.4-3.4 6-3.4 5.5-3.4 5.1-3.4 4.7-3.4 4.3-3.4 3.8-3.4 3.4-3.4 2.9-3.4 2.5-2.2 1.5-2.3 1.2-2.3 1-2.2 .9-2.3 .7-2.3 .4-2.2 .3-2.3 .1-2.3-.1-2.2-.3-2.3-.5-2.2-.7-2.3-.9-2.3-1-2.2-1.3-2.3-1.5-3.4-2.5-3.4-3-3.4-3.4-3.4-3.9-3.4-4.3-1.1 2.6-.7 2.4-.7 3.5-.1 1.5 2.7 7.2 2.6 6.8 2.6 6.4 2.6 6 2.6 5.5 3.5 6.7 3.7 6.4 4.3 7 4.2 6.5 4.3 6.1 4.3 5.7 4.2 5.3 4.3 4.8 4.2 4.4 4.3 4 4.2 3.5 4.3 3.1 2.8 1.9 2.9 1.6 2.8 1.5 2.9 1.2 2.8 1.1 2.8 .9 2.9 .7 2.8 .5 2.9 .3 2.8 .2 2.8-.1 2.9-.3 2.8-.4 2.9-.6 2.8-.9 2.8-1 2.9-1.2 2.8-1.4 2.9-1.5 2.8-1.8 4.2-3 4.3-3.5 4.3-3.9 4.2-4.2 4.3-4.8 4.2-5.1 4.3-5.6 4.3-6 4.2-6.5 4.3-6.8 4.2-7.3 4.3-7.7 2.8-5.4 2.9-5.6 2.8-5.8 2.4-5.2 1-3.5 .5-3.8-2.7 3.8-2.6 3.5-2.6 3-2.6 2.6-2.7 2.1-1.7 1.2-1.7 1-1.8 .8-1.7 .6-1.8 .4-1.7 .2-1.8 0-1.7-.1-1.8-.4-1.7-.5-1.8-.8-1.7-.9-2.6-1.8-2.7-2.2-2.6-2.6-2.6-3.1-2.6-3.5-3.5-5.3-3.5-6.1-3.5-6.9-2.6-5.7-2.7-6.1-2.6-6.6-2.6-6.9-.9-2.5z" fill="#f4bb0f"/><path d="M170.8 52.5l-5.9-.6-7.1-.6-7.1-.2-1.2 0-3.4 6.7-3.4 6.3-3.4 5.9-3.4 5.5-3.4 5-3.3 4.6-3.4 4.1-3.4 3.7-3.4 3.3-3.4 2.9-3.4 2.4-2.2 1.4-2.3 1.2-2.2 1-2.3 .8-2.2 .6-2.3 .4-2.3 .3-2.2 0-2.3-.2-2.2-.3-2.3-.5-2.2-.8-2.3-.9-2.3-1.1-2.2-1.3-3.4-2.3-3.4-2.8-3.4-3.1-3.3-3.6-3.4-4.1-1.2-1.4-1.2 2.9-.8 2.3-.6 3.5-.1 1.8 2.5 7 2.6 6.5 2.5 6.1 2.5 5.8 3.4 7 3.4 6.2 4.3 7.3 4.2 6.9 4.3 6.4 4.3 6 4.3 5.5 4.3 5.2 4.2 4.7 4.3 4.2 4.3 3.9 4.3 3.4 4.3 2.9 2.8 1.8 2.9 1.5 2.8 1.4 2.9 1.1 2.8 1 2.9 .8 2.8 .5 2.9 .4 2.9 .2 2.8 0 2.9-.1 2.8-.4 2.9-.6 2.8-.8 2.9-.9 2.8-1.2 2.9-1.3 2.8-1.5 2.9-1.7 4.3-3 4.3-3.4 4.2-3.8 4.3-4.2 4.3-4.7 4.3-5.1 4.3-5.5 4.2-6 4.3-6.4 4.3-6.8 4.3-7.3 4.3-7.7 2.8-5.3 2.9-5.6 2.8-5.8 2.4-5.2 1-3.5 .5-3.6 0-.6-2.6 3.8-2.6 3.3-2.6 2.9-2.6 2.5-2.7 2.1-1.7 1.1-1.7 .9-1.8 .8-1.7 .5-1.8 .4-1.7 .1-1.8 0-1.7-.2-1.7-.4-1.8-.6-1.7-.8-1.8-1-2.6-1.8-2.6-2.3-2.6-2.7-2.6-3.1-2.6-3.5-3.5-5.5-3.5-6.1-3.5-7-2.6-5.7-2.6-6.1-2.6-6.6-2.6-7z" fill="#e8c010"/><path d="M171.4 54.1l-6.6-.8-7-.5-7.1-.2-2 0-3.3 6.6-3.4 6.2-3.4 5.7-3.4 5.4-3.3 4.9-3.4 4.5-3.4 4-3.3 3.7-3.4 3.2-3.4 2.7-3.4 2.4-2.2 1.3-2.3 1.2-2.2 .9-2.2 .8-2.3 .5-2.2 .4-2.3 .2-2.2 0-2.3-.2-2.2-.4-2.3-.6-2.2-.8-2.3-.9-2.2-1.2-2.3-1.3-3.3-2.4-3.4-2.8-3.4-3.2-3.4-3.6-3.3-4.1-1.5 3.2-1 3.5-.4 3.5 0 1 2.5 7 2.6 6.5 2.6 6.1 2.6 5.8 3.4 6.9 2.6 4.7 4.2 7.3 4.3 6.8 4.3 6.4 4.2 6 4.3 5.6 4.3 5.1 4.2 4.7 4.3 4.2 4.3 3.8 4.2 3.4 4.3 3 2.8 1.8 2.9 1.5 2.8 1.4 2.9 1.1 2.8 1 2.9 .8 2.8 .6 2.9 .4 2.8 .2 2.8 0 2.9-.1 2.8-.4 2.9-.5 2.8-.8 2.9-.9 2.8-1.1 2.8-1.3 2.9-1.5 2.8-1.7 4.3-2.9 4.3-3.3 4.2-3.8 4.3-4.2 4.3-4.6 4.2-5 4.3-5.5 4.3-5.9 4.2-6.3 4.3-6.8 4.3-7.2 4.2-7.6 2.9-5.3 2.8-5.5 2.9-5.7 2.2-4.7 1-3.5 .5-2.9 .1-2.1-2.6 3.6-2.6 3.3-2.6 2.8-2.6 2.4-2.6 1.9-1.7 1.1-1.7 .9-1.8 .6-1.7 .5-1.8 .3-1.7 .2-1.7-.1-1.8-.3-1.7-.4-1.7-.7-1.8-.8-1.7-1.1-2.6-1.8-2.6-2.4-2.6-2.7-2.6-3.2-2.6-3.6-3.5-5.5-3.5-6.2-3.4-7-2.6-5.8-2.6-6.2-2.6-6.6-1.8-4.6z" fill="#d4c612"/><path d="M171.9 55.7l-6-.7-7-.6-7-.3-3.9-.1-3.4 6.5-3.3 6.1-3.4 5.7-3.3 5.2-3.4 4.8-3.4 4.4-3.3 4-3.4 3.5-3.3 3.1-3.4 2.7-3.3 2.3-2.3 1.2-2.2 1.1-2.3 .9-2.2 .7-2.2 .5-2.3 .4-2.2 .1-2.3-.1-2.2-.2-2.2-.4-2.3-.6-2.2-.8-2.2-1-2.3-1.2-3.3-2.1-3.4-2.6-3.4-3-3.3-3.4-3.4-3.8-1.1-1.4-1.2 2.4-1.1 3.5-.7 3.5-.1 2.5 2.5 6.6 2.5 6.3 2.5 5.8 2.5 5.5 3.3 6.7 2.5 4.5 4.3 7.3 4.3 6.9 4.2 6.4 4.3 6 4.3 5.6 4.3 5.1 4.3 4.7 4.3 4.3 4.3 3.8 4.3 3.4 4.2 3 2.9 1.7 2.9 1.5 2.8 1.4 2.9 1.1 2.8 1 2.9 .8 2.9 .6 2.8 .3 2.9 .2 2.8 0 2.9-.2 2.9-.3 2.8-.6 2.9-.8 2.8-1 2.9-1.1 2.8-1.4 2.9-1.5 2.9-1.7 4.2-3 4.3-3.4 4.3-3.8 4.3-4.3 4.3-4.7 4.3-5.1 4.3-5.6 4.3-6 4.2-6.4 4.3-6.9 4.3-7.3 4.3-7.7 2.9-5.4 2.8-5.6 2.9-5.8 1.4-3.6 .8-3.5 .3-3.6-2.6 3.6-2.6 3.1-2.6 2.7-2.6 2.3-2.6 1.9-1.7 1-1.7 .8-1.8 .6-1.7 .4-1.7 .3-1.8 .1-1.7-.2-1.7-.3-1.7-.5-1.8-.7-1.7-.9-2.6-1.6-2.6-2.1-2.6-2.6-2.6-2.9-2.6-3.4-3.4-5.2-3.5-5.9-3.4-6.6-2.6-5.5-2.6-6-2.6-6.3-2.6-6.8z" fill="#bfcc14"/><path d="M172.5 57.3l-6.7-.9-7-.5-7-.3-4.6-.1-3.3 6.5-3.4 6-3.4 5.6-3.4 5.2-3.4 4.7-3.4 4.3-3.4 3.9-3.4 3.5-3.3 3-3.4 2.5-2.3 1.5-2.2 1.3-2.3 1.1-2.3 .9-2.2 .7-2.3 .5-2.2 .4-2.3 .1-2.3-.1-2.2-.2-2.3-.5-2.2-.6-2.3-.8-2.2-1-2.3-1.2-2.3-1.4-3.4-2.5-3.3-2.9-3.4-3.3-3.4-3.8-1.1-1.3-1.4 2.7-1.2 3.4-.6 3.5-.1 2.9 2.5 6.6 2.6 6.3 2.5 5.8 2.5 5.5 3.4 6.6 3.1 5.5 4.3 7.1 4.3 6.7 4.2 6.3 4.3 5.8 4.3 5.4 4.2 5 4.3 4.6 4.3 4.1 4.3 3.7 4.2 3.2 4.3 2.9 2.8 1.6 2.9 1.4 2.8 1.3 2.9 1.1 2.8 .9 2.9 .6 2.8 .5 2.9 .3 2.8 .2 2.9-.1 2.8-.3 2.9-.5 2.8-.6 2.9-.8 2.8-1.1 2.9-1.2 2.8-1.4 2.9-1.6 2.8-1.8 4.3-3.1 4.3-3.5 4.2-3.9 4.3-4.4 4.3-4.7 4.2-5.2 4.3-5.7 4.3-6.1 4.3-6.5 4.2-6.9 4.3-7.4 4.3-7.8 2.8-5.4 2.9-5.6 2.2-4.8 1.1-3.4 .5-2.9 .1-2.9-2.6 3.5-2.6 3.1-2.7 2.6-2.6 2.2-2.6 1.8-1.7 .9-1.8 .8-1.7 .5-1.8 .4-1.7 .1-1.7 0-1.8-.2-1.7-.4-1.8-.6-1.7-.8-1.8-1-2.6-1.8-2.6-2.3-2.6-2.7-2.6-3.1-2.6-3.6-3.5-5.4-3.5-6.2-3.5-6.9-2.6-5.8-2.6-6.1-2.7-6.6-.8-2.3z" fill="#abcc1a"/><path d="M173.1 58.8l-6.3-.8-6.9-.6-6.9-.3-6.5-.1-3.4 6.4-3.4 5.9-3.3 5.5-3.4 5-3.4 4.6-3.3 4.2-3.4 3.8-3.4 3.4-3.4 2.9-3.3 2.5-2.3 1.4-2.2 1.2-2.3 1.1-2.2 .8-2.3 .7-2.2 .4-2.3 .3-2.2 .1-2.3-.1-2.2-.3-2.3-.5-2.2-.6-2.3-.9-2.2-1.1-2.3-1.2-3.3-2.2-3.4-2.7-3.4-3-3.3-3.6-2.3-2.5-1.6 3.1-1.1 3.4-.6 3.4-.1 3.2 2.6 6.7 2.5 6.3 2.6 5.8 2.6 5.4 3.4 6.6 3.7 6.4 4.3 7 4.2 6.5 4.3 6.1 4.2 5.7 4.3 5.3 4.3 4.8 4.2 4.4 4.3 3.9 4.2 3.6 4.3 3.1 2.8 1.8 2.9 1.7 2.8 1.5 2.8 1.2 2.9 1.1 2.8 .9 2.8 .7 2.9 .5 2.8 .3 2.9 .2 2.8-.1 2.8-.3 2.9-.4 2.8-.6 2.8-.8 2.9-1.1 2.8-1.1 2.9-1.4 2.8-1.6 4.3-2.7 4.2-3.2 4.3-3.6 4.2-4 4.3-4.4 4.2-4.9 4.3-5.3 4.3-5.7 4.2-6.1 4.3-6.6 4.2-7 4.3-7.4 4.2-7.9 2.9-5.4 2.8-5.7 1.5-3.7 .8-3.4 .2-3.4 0-.9-2.6 3.3-2.6 3-2.6 2.5-2.6 2.1-1.7 1.2-1.8 .9-1.7 .8-1.7 .6-1.8 .4-1.7 .2-1.8 0-1.7-.1-1.7-.4-1.8-.5-1.7-.8-1.7-.9-2.6-1.8-2.6-2.1-2.6-2.7-2.6-3-2.6-3.5-3.5-5.3-3.5-6-3.5-6.8-2.6-5.6-2.6-6-2.6-6.5-.8-2.3z" fill="#98cc20"/><path d="M173.7 60.4l-7-.9-6.9-.6-6.8-.3-7-.1-.3 0-3.3 6.2-3.4 5.8-3.4 5.4-3.3 4.9-3.4 4.5-3.3 4.1-3.4 3.7-3.3 3.2-3.4 2.9-3.3 2.4-2.3 1.3-2.2 1.2-2.2 1-2.3 .8-2.2 .6-2.2 .4-2.3 .2-2.2 .1-2.3-.2-2.2-.3-2.2-.5-2.3-.7-2.2-.9-2.2-1.1-2.3-1.3-3.3-2.2-3.4-2.7-3.3-3.1-3.4-3.5-1.1-1.3-1.3 2.3-1.3 3.4-.8 3.4-.3 3.4 .1 1.3 2.5 6.3 2.4 6 2.5 5.5 3.3 6.8 3.3 6.1 4.3 7.3 4.2 6.9 4.3 6.4 4.3 6 4.3 5.5 4.3 5.2 4.2 4.7 4.3 4.2 4.3 3.8 4.3 3.4 4.2 3 2.9 1.7 2.9 1.6 2.8 1.3 2.9 1.2 2.8 1 2.9 .7 2.8 .6 2.9 .4 2.8 .2 2.9 0 2.8-.1 2.9-.4 2.8-.6 2.9-.7 2.8-1 2.9-1.1 2.8-1.4 2.9-1.5 2.8-1.7 4.3-2.9 4.3-3.4 4.3-3.8 4.3-4.2 4.2-4.7 4.3-5.1 4.3-5.5 4.3-6 4.2-6.4 4.3-6.8 4.3-7.2 4.3-7.7 2.8-5.4 2.9-5.5 2.3-4.9 1.1-3.4 .5-2.8 0-3.6-2.6 3.2-2.6 2.9-2.6 2.4-2.6 2-1.7 1.1-1.7 .9-1.7 .7-1.8 .6-1.7 .3-1.7 .1-1.7 0-1.8-.2-1.7-.4-1.7-.6-1.7-.8-1.8-1-2.6-1.8-2.5-2.2-2.6-2.7-2.6-3.1-2.6-3.5-3.5-5.3-3.4-6.1-3.5-6.9-2.6-5.6-2.6-6-2.5-6.5z" fill="#84cc25"/><path d="M174.3 62l-6.6-.9-6.8-.6-6.8-.4-6.9-.1-2.3 0-3.4 6.2-3.4 5.7-3.3 5.3-3.4 4.9-3.4 4.4-3.4 4-3.4 3.6-3.3 3.1-3.4 2.8-3.4 2.2-2.3 1.3-2.2 1.1-2.3 .9-2.2 .7-2.3 .5-2.2 .4-2.3 .1-2.2-.1-2.3-.2-2.2-.4-2.3-.7-2.3-.8-2.2-1-2.3-1.2-2.2-1.4-3.4-2.5-3.4-2.8-3.4-3.4-2.2-2.4-1.5 2.7-1.3 3.3-.8 3.4-.3 3.4 .1 1.7 2.5 6.4 2.5 5.9 2.5 5.5 3.4 6.7 2.5 4.6 4.2 7.3 4.3 6.8 4.3 6.4 4.2 6 4.3 5.5 4.3 5.1 4.2 4.7 4.3 4.3 4.2 3.8 4.3 3.4 4.3 3 2.8 1.7 2.9 1.6 2.8 1.3 2.8 1.2 2.9 1 2.8 .8 2.9 .6 2.8 .4 2.8 .2 2.9 0 2.8-.1 2.9-.4 2.8-.5 2.9-.7 2.8-1 2.8-1.1 2.9-1.3 2.8-1.5 2.9-1.7 4.2-2.9 4.3-3.3 4.2-3.7 4.3-4.2 4.3-4.6 4.2-5 4.3-5.5 4.3-5.8 4.2-6.4 4.3-6.7 4.2-7.2 4.3-7.6 2.9-5.3 2.8-5.5 2.3-4.9 1.1-3.3 .5-2.9 0-3.4 0-.5-2.6 3.2-2.6 2.7-2.6 2.4-2.6 1.9-1.8 1-1.7 .8-1.8 .7-1.7 .4-1.8 .3-1.7 .1-1.7-.2-1.8-.3-1.7-.5-1.8-.7-1.7-.9-1.7-1-2.6-2-2.7-2.4-2.6-2.9-2.6-3.2-2.6-3.7-3.5-5.6-3.5-6.4-3.4-7.1-2.6-5.9-2.7-6.2-.8-2.2z" fill="#70cc2b"/><path d="M174.9 63.6l-6.2-.9-6.7-.6-6.8-.5-6.9-.1-4.2 0-3.4 6.1-3.3 5.6-3.4 5.1-3.3 4.8-3.4 4.3-3.4 3.9-3.3 3.4-3.4 3.1-3.3 2.6-3.4 2.2-2.2 1.2-2.3 1.1-2.2 .8-2.3 .7-2.2 .4-2.2 .3-2.3 .1-2.2-.1-2.3-.3-2.2-.5-2.2-.6-2.3-.9-2.2-1-2.3-1.3-3.3-2.2-3.4-2.6-3.3-3-3.4-3.5-1.7 3.1-1.4 3.3-.7 3.4-.3 3.3 .1 2.1 2.6 6.4 2.5 5.9 2.6 5.5 3.4 6.7 3.1 5.5 4.3 7.2 4.3 6.7 4.3 6.3 4.2 5.8 4.3 5.4 4.3 5 4.3 4.6 4.3 4.1 4.3 3.7 4.3 3.2 2.8 1.9 2.9 1.8 2.8 1.5 2.9 1.4 2.8 1.1 2.9 1 2.9 .8 2.8 .5 2.9 .4 2.8 .2 2.9 0 2.8-.2 2.9-.3 2.8-.6 2.9-.8 2.9-.9 2.8-1.2 2.9-1.3 2.8-1.6 2.9-1.7 4.3-3 4.3-3.3 4.2-3.9 4.3-4.2 4.3-4.7 4.3-5.1 4.3-5.6 4.3-6 4.2-6.4 4.3-6.8 4.3-7.3 4.3-7.7 2.9-5.4 2.8-5.6 1.4-3.2 .8-3.4 .4-2.8-.1-3.2-2.6 3.1-2.6 2.6-2.6 2.2-2.6 1.8-1.7 1-1.8 .7-1.7 .6-1.7 .4-1.8 .2-1.7 0-1.7-.1-1.7-.4-1.8-.5-1.7-.8-1.7-.9-2.6-1.8-2.6-2.1-2.6-2.6-2.6-3.1-2.6-3.4-3.5-5.3-3.4-6-3.5-6.8-2.6-5.5-2.6-6-1.7-4.3z" fill="#61cc31"/><path d="M175.6 65.3l-6-.9-6.6-.7-6.8-.5-6.7-.2-6.2 .1-3.4 5.9-3.4 5.5-3.4 5.1-3.4 4.7-3.4 4.2-3.3 3.8-3.4 3.4-3.4 2.9-3.4 2.5-2.3 1.5-2.2 1.2-2.3 1-2.2 .9-2.3 .7-2.2 .4-2.3 .3-2.3 .1-2.2-.1-2.3-.3-2.2-.5-2.3-.7-2.2-.8-2.3-1.1-2.3-1.3-3.3-2.2-3.4-2.7-3.4-3.1-2.3-2.3-1.4 2.4-1.5 3.2-1 3.4-.4 3.3 .2 3.7 2.6 6.3 2.6 5.9 2.6 5.5 3.4 6.6 3.7 6.4 4.3 7 4.3 6.6 4.2 6.1 4.3 5.7 4.3 5.2 4.2 4.9 4.3 4.4 4.3 3.9 4.2 3.6 4.3 3.1 2.9 1.8 2.8 1.7 2.8 1.4 2.9 1.3 2.8 1.1 2.9 .8 2.8 .7 2.9 .5 2.8 .3 2.9 .2 2.8-.1 2.9-.3 2.8-.4 2.8-.7 2.9-.8 2.8-1 2.9-1.3 2.8-1.4 2.9-1.6 2.8-1.8 4.3-3 4.3-3.5 4.2-3.9 4.3-4.3 4.3-4.8 4.2-5.2 4.3-5.6 4.3-6.1 4.2-6.4 4.3-7 4.3-7.3 4.2-7.8 2.9-5.4 2.4-5 1-3.3 .5-2.8 .1-3.3-.2-1.4-2.6 3-2.6 2.5-2.6 2.1-1.8 1.2-1.7 1-1.7 .8-1.8 .6-1.7 .4-1.8 .2-1.7 0-1.8-.1-1.7-.4-1.7-.5-1.8-.8-1.7-.9-2.6-1.8-2.7-2.2-2.6-2.6-2.6-3-2.6-3.5-3.5-5.4-3.5-6.1-3.5-6.8-2.6-5.7-2.6-6-.9-2.2z" fill="#57cb37"/><path d="M176.2 66.9l-6.7-1-6.6-.7-6.7-.5-6.7-.2-5.6 0-1.5 .1-3.3 5.8-3.4 5.4-3.3 4.9-3.4 4.6-3.4 4.1-3.3 3.7-3.4 3.2-3.4 2.8-3.3 2.4-2.3 1.4-2.2 1.2-2.2 1-2.3 .8-2.2 .6-2.3 .4-2.2 .2-2.2 .1-2.3-.2-2.2-.3-2.3-.5-2.2-.7-2.2-.9-2.3-1.1-2.2-1.3-3.4-2.3-3.4-2.7-3.3-3.1-1.1-1.1-1.8 2.8-1.4 3.2-1 3.3-.4 3.3 .1 3.4 .1 .7 2.5 5.9 2.4 5.5 3.3 6.8 3.3 6 4.3 7.3 4.3 6.9 4.3 6.4 4.2 6 4.3 5.6 4.3 5.1 4.3 4.7 4.3 4.3 4.3 3.8 4.3 3.4 4.3 3 2.8 1.7 2.9 1.6 2.9 1.3 2.8 1.2 2.9 .9 2.8 .8 2.9 .6 2.9 .3 2.8 .2 2.9 0 2.8-.2 2.9-.4 2.9-.5 2.8-.8 2.9-1 2.8-1.1 2.9-1.4 2.9-1.5 2.8-1.8 4.3-3 4.3-3.4 4.3-3.8 4.3-4.3 4.3-4.7 4.3-5.1 4.2-5.6 4.3-6 4.3-6.5 4.3-6.8 4.3-7.3 4.3-7.8 2.9-5.4 2.4-5 1-3.3 .5-2.8 .1-3.3-.2-1.8-2.6 2.8-2.6 2.5-2.6 2-1.7 1.1-1.8 .9-1.7 .7-1.7 .5-1.8 .4-1.7 .1-1.7 0-1.7-.2-1.8-.4-1.7-.6-1.7-.8-1.8-1-2.6-1.8-2.6-2.2-2.6-2.7-2.5-3.1-2.6-3.5-3.5-5.4-3.5-6.1-3.4-6.9-2.6-5.6-2.6-6.1z" fill="#4ecb3d"/><path d="M176.9 68.5l-6.5-1-6.5-.8-6.6-.4-6.7-.3-6.7 0-2.3 .1-3.4 5.7-3.4 5.4-3.4 4.8-3.4 4.5-3.3 4-3.4 3.6-3.4 3.1-3.4 2.7-3.4 2.3-2.2 1.3-2.3 1.1-2.3 .9-2.2 .7-2.3 .5-2.2 .4-2.3 .1-2.3-.1-2.2-.2-2.3-.5-2.2-.6-2.3-.8-2.2-1-2.3-1.2-2.3-1.4-3.3-2.5-3.4-2.9-2.3-2.2-2 3.2-1.4 3.3-1 3.2-.4 3.4 .1 3.3 .2 1.1 2.5 5.9 2.5 5.5 3.3 6.7 2.5 4.5 4.3 7.3 4.2 6.9 4.3 6.4 4.3 6 4.3 5.5 4.2 5.1 4.3 4.7 4.3 4.3 4.2 3.8 4.3 3.4 4.3 3 2.8 1.7 2.9 1.6 2.8 1.3 2.9 1.2 2.8 .9 2.9 .8 2.8 .6 2.9 .4 2.8 .2 2.9 0 2.8-.1 2.9-.4 2.8-.6 2.9-.7 2.8-1 2.9-1.1 2.8-1.3 2.9-1.5 2.8-1.7 4.3-2.9 4.3-3.4 4.2-3.8 4.3-4.2 4.3-4.6 4.3-5.1 4.2-5.5 4.3-5.9 4.3-6.4 4.3-6.8 4.2-7.2 4.3-7.7 2.8-5.3 2.5-5.1 1-3.2 .5-2.8 .1-3.3-.3-2.3-2.6 2.8-2.6 2.3-2.6 1.9-1.8 1.1-1.7 .8-1.8 .7-1.7 .4-1.7 .3-1.8 .1-1.7-.2-1.8-.3-1.7-.5-1.8-.7-1.7-.9-1.7-1-2.6-2-2.7-2.4-2.6-2.9-2.6-3.2-2.6-3.7-3.5-5.7-3.5-6.3-3.5-7.2-2.6-5.8-.8-2.1z" fill="#44cb43"/><path d="M177.6 70.2l-6.3-1-6.4-.8-6.6-.6-6.6-.2-6.7-.1-4.3 .2-3.4 5.5-3.3 5.2-3.4 4.7-3.3 4.3-3.4 3.9-3.3 3.5-3.4 3-3.4 2.6-3.3 2.2-2.2 1.2-2.3 1.1-2.2 .8-2.3 .7-2.2 .4-2.2 .3-2.3 .1-2.2-.1-2.2-.3-2.3-.5-2.2-.6-2.2-.9-2.3-1-2.2-1.2-3.4-2.2-3.3-2.6-3.4-3.1-1.7 2.6-1.6 3.2-1.1 3.2-.6 3.3-.1 3.3 .4 2.7 2.5 5.8 3.4 7.2 3.3 6.4 3.7 6.4 4.3 7 4.2 6.5 4.3 6.1 4.2 5.7 4.3 5.3 4.3 4.8 4.2 4.4 4.3 3.9 4.2 3.6 4.3 3.1 2.8 1.8 2.9 1.7 2.8 1.5 2.8 1.2 2.9 1.1 2.8 .9 2.8 .7 2.9 .5 2.8 .3 2.9 .2 2.8-.1 2.8-.3 2.9-.4 2.8-.6 2.8-.8 2.9-1.1 2.8-1.1 2.9-1.4 2.8-1.6 4.3-2.7 4.2-3.2 4.3-3.6 4.2-4 4.3-4.4 4.2-4.9 4.3-5.3 4.3-5.7 4.2-6.1 4.3-6.6 4.2-7 4.3-7.4 4.2-7.9 2.3-4.5 1.1-3.2 .6-3.3 .1-3.3-.4-2.7-2.6 2.6-2.6 2.2-2.5 1.8-1.8 1-1.7 .8-1.7 .5-1.7 .4-1.8 .2-1.7 0-1.7-.1-1.8-.4-1.7-.5-1.7-.8-1.7-.9-2.6-1.8-2.6-2.1-2.6-2.6-2.6-3-2.6-3.5-3.4-5.2-3.5-6-3.4-6.8-2.6-5.5-1.8-4z" fill="#3aca49"/><path d="M178.3 71.8l-6.1-1-6.4-.8-6.5-.6-6.6-.3-6.5-.1-6.4 .2-3.4 5.5-3.4 5.1-3.3 4.6-3.4 4.2-3.4 3.8-3.4 3.3-3.3 3-3.4 2.5-2.3 1.4-2.2 1.2-2.3 1.1-2.2 .8-2.3 .7-2.2 .4-2.3 .3-2.2 .1-2.3-.1-2.2-.3-2.3-.5-2.2-.7-2.3-.8-2.2-1.1-2.3-1.2-3.4-2.3-3.3-2.6-2.3-2-2 3-1.6 3.1-1.1 3.2-.6 3.3-.1 3.3 .5 3.1 2.5 5.9 3.5 7.1 3.4 6.3 4.3 7.3 4.2 6.9 4.3 6.4 4.3 6 4.3 5.5 4.3 5.2 4.2 4.6 4.3 4.3 4.3 3.8 4.3 3.4 4.2 3 2.9 1.7 2.8 1.6 2.9 1.3 2.9 1.2 2.8 1 2.9 .7 2.8 .6 2.9 .4 2.8 .2 2.9 0 2.8-.1 2.9-.4 2.8-.6 2.9-.7 2.8-1 2.9-1.1 2.8-1.4 2.9-1.5 2.8-1.7 4.3-2.9 4.3-3.4 4.3-3.8 4.2-4.2 4.3-4.7 4.3-5.1 4.3-5.5 4.3-6 4.2-6.4 4.3-6.8 4.3-7.2 4.3-7.7 2.8-5.4 1.5-3.4 1-3.8 .2-3.3-.3-3.3-.2-.9-2.6 2.5-2.6 2.1-1.7 1.2-1.8 .9-1.7 .8-1.7 .6-1.8 .4-1.7 .2-1.7 0-1.8-.1-1.7-.4-1.8-.5-1.7-.8-1.7-.9-2.6-1.8-2.6-2.2-2.7-2.6-2.6-3-2.6-3.5-3.4-5.3-3.5-6-3.5-6.9-2.6-5.6-.9-2z" fill="#30ca4f"/><path d="M179 73.5l-7-1.2-6.3-.8-6.5-.6-6.5-.3-6.5-.1-6.6 .2-.8 .1-3.3 5.4-3.4 4.9-3.4 4.6-3.4 4.1-3.4 3.7-3.4 3.2-3.4 2.8-3.4 2.4-2.3 1.3-2.2 1.1-2.3 1-2.3 .8-2.2 .5-2.3 .4-2.3 .2-2.2 0-2.3-.2-2.2-.4-2.3-.6-2.3-.8-2.2-1-2.3-1.2-2.3-1.3-3.4-2.4-3.3-2.9-1.8 2.4-1.7 3.1-1.3 3.2-.8 3.2-.2 3.3 .3 3.2 .3 1.5 2.6 5.8 3.5 7.1 2.6 4.7 4.2 7.3 4.3 6.8 4.3 6.4 4.2 6 4.3 5.5 4.2 5.1 4.3 4.7 4.3 4.3 4.2 3.8 4.3 3.4 4.3 3 2.8 1.7 2.8 1.6 2.9 1.3 2.8 1.2 2.9 1 2.8 .8 2.8 .6 2.9 .4 2.8 .2 2.9 0 2.8-.1 2.8-.4 2.9-.5 2.8-.7 2.9-1 2.8-1.1 2.8-1.3 2.9-1.5 2.8-1.6 4.3-2.9 4.2-3.3 4.3-3.8 4.3-4.1 4.2-4.6 4.3-5 4.3-5.5 4.2-5.9 4.3-6.3 4.2-6.7 4.3-7.2 4.3-7.6 2.8-5.3 1.5-3.5 1-3.8 .2-3.2-.3-3.2-.3-1.5-2.6 2.4-2.6 2-1.8 1.1-1.7 .9-1.8 .7-1.7 .5-1.8 .3-1.7 .2-1.8-.1-1.7-.3-1.8-.4-1.7-.7-1.8-.8-1.7-1.1-2.6-1.9-2.6-2.3-2.7-2.8-2.6-3.2-2.6-3.6-3.5-5.6-3.5-6.3-3.5-7.1-1.7-3.8z" fill="#29c954"/><path d="M179.7 75.2l-6.8-1.2-6.3-.9-6.4-.6-6.4-.4-6.5-.1-6.5 .2-2.9 .1-3.4 5.3-3.3 4.8-3.4 4.3-3.3 4-3.4 3.5-3.3 3.1-3.4 2.7-3.3 2.3-2.3 1.2-2.2 1.1-2.3 .9-2.2 .7-2.2 .5-2.3 .4-2.2 .1-2.2-.1-2.3-.2-2.2-.4-2.3-.6-2.2-.8-2.2-1-2.3-1.2-3.3-2.1-3.4-2.6-1.1-.9-2.1 2.8-1.7 3.1-1.3 3.2-.7 3.2-.3 3.2 .3 3.2 .4 2 3.2 6.8 3.2 6.3 3 5.3 4.3 7.2 4.3 6.7 4.3 6.3 4.2 5.8 4.3 5.4 4.3 5 4.3 4.6 4.3 4.1 4.3 3.7 4.2 3.2 2.9 1.9 2.8 1.8 2.9 1.5 2.9 1.4 2.8 1.1 2.9 1 2.8 .8 2.9 .5 2.8 .4 2.9 .2 2.8 0 2.9-.2 2.9-.3 2.8-.6 2.9-.8 2.8-.9 2.9-1.2 2.8-1.3 2.9-1.5 2.8-1.8 4.3-2.9 4.3-3.4 4.3-3.8 4.3-4.3 4.3-4.6 4.2-5.2 4.3-5.5 4.3-6 4.3-6.4 4.3-6.8 4.3-7.3 4.2-7.7 2.4-4.7 1.1-3.1 .6-3.3 0-3.2-.4-3.2-.2-.9-2.6 2.3-2.6 1.9-1.7 1-1.8 .8-1.7 .6-1.7 .4-1.7 .3-1.8 .1-1.7-.2-1.7-.3-1.8-.5-1.7-.7-1.7-.9-2.6-1.6-2.6-2.1-2.6-2.6-2.6-2.9-2.6-3.4-3.4-5.1-3.5-5.9-3.4-6.7-2.6-5.5z" fill="#26c859"/><path d="M180.5 76.9l-6.7-1.3-6.3-.9-6.3-.6-6.4-.4-6.4-.2-6.5 .1-5 .3-3.4 5.1-3.3 4.7-3.4 4.3-3.4 3.8-3.3 3.4-3.4 3-3.4 2.6-2.2 1.4-2.3 1.3-2.2 1.1-2.3 .9-2.2 .7-2.3 .5-2.2 .4-2.2 .1-2.3-.1-2.2-.2-2.3-.4-2.2-.7-2.3-.8-2.2-1-2.3-1.2-2.2-1.3-3.4-2.5-1.1-.9-1.8 2.3-1.9 3.1-1.4 3.1-.9 3.1-.4 3.2 .1 3.2 .7 3.6 3.2 6.7 3.2 6.1 3.6 6.3 4.3 7 4.3 6.5 4.2 6.2 4.3 5.6 4.3 5.3 4.2 4.8 4.3 4.4 4.2 4 4.3 3.6 4.3 3.1 2.8 1.8 2.9 1.6 2.8 1.5 2.8 1.3 2.9 1 2.8 .9 2.9 .7 2.8 .5 2.9 .3 2.8 .2 2.9-.1 2.8-.3 2.8-.4 2.9-.7 2.8-.8 2.9-1 2.8-1.2 2.9-1.4 2.8-1.6 2.8-1.8 4.3-3.1 4.3-3.4 4.2-3.9 4.3-4.3 4.3-4.8 4.2-5.2 4.3-5.6 4.3-6 4.2-6.5 4.3-6.9 4.3-7.3 4.2-7.8 1.4-3.1 .9-3.1 .4-3.2-.1-3.2-.7-3.6-2.6 2.2-2.6 1.7-1.7 1-1.8 .7-1.7 .5-1.7 .4-1.8 .1-1.7 0-1.7-.2-1.8-.4-1.7-.6-1.7-.8-1.8-1-2.6-1.8-2.6-2.3-2.6-2.6-2.6-3.1-2.6-3.6-3.4-5.3-3.5-6.2-3.5-6.9-.8-1.8z" fill="#22c85e"/><path d="M181.3 78.6l-6.7-1.3-6.2-.9-6.2-.7-6.4-.4-6.4-.2-6.4 0-6.2 .3-.9 .1-3.4 5-3.4 4.6-3.3 4.1-3.4 3.7-3.4 3.3-3.4 2.9-3.4 2.4-2.2 1.4-2.3 1.2-2.2 1-2.3 .8-2.2 .6-2.3 .4-2.3 .3-2.2 0-2.3-.2-2.2-.3-2.3-.5-2.2-.8-2.3-.9-2.2-1.1-2.3-1.3-3.4-2.3-1.1-.9-2.2 2.8-1.9 3.1-1.4 3-.9 3.2-.4 3.2 .1 3.1 .9 4.1 3.2 6.6 3.2 5.9 4.3 7.3 4.3 6.9 4.2 6.4 4.3 6 4.3 5.6 4.3 5.1 4.3 4.7 4.3 4.3 4.3 3.8 4.3 3.4 4.2 3 2.9 1.7 2.9 1.5 2.8 1.4 2.9 1.1 2.8 1 2.9 .8 2.8 .6 2.9 .3 2.9 .2 2.8 0 2.9-.2 2.8-.3 2.9-.6 2.8-.8 2.9-1 2.9-1.1 2.8-1.4 2.9-1.5 2.8-1.7 4.3-3 4.3-3.4 4.3-3.8 4.3-4.3 4.3-4.7 4.3-5.1 4.2-5.6 4.3-6 4.3-6.4 4.3-6.8 4.3-7.3 4.3-7.8 1.4-3.1 .9-3.2 .4-3.1-.1-3.2-.6-3.2-.3-.9-2.6 2.1-1.7 1.1-1.8 .9-1.7 .8-1.7 .5-1.8 .4-1.7 .1-1.8 0-1.7-.2-1.7-.4-1.8-.6-1.7-.8-1.8-1-2.6-1.8-2.6-2.3-2.6-2.7-2.6-3.1-2.6-3.5-3.5-5.4-3.5-6.2-3.5-7z" fill="#1ec763"/><path d="M182.1 80.3l-6.7-1.3-6.1-1-6.2-.7-6.3-.5-6.3-.2-6.4 0-6.3 .3-3 .2-3.4 4.9-3.3 4.4-3.4 4.1-3.4 3.6-3.4 3.1-3.4 2.7-3.4 2.3-2.2 1.3-2.3 1.1-2.3 .9-2.2 .7-2.3 .5-2.2 .4-2.3 .1-2.3-.1-2.2-.2-2.3-.5-2.2-.6-2.3-.8-2.3-1-2.2-1.3-2.3-1.4-2.2-1.6-2 2.4-2 2.9-1.6 3.1-1 3.1-.6 3.1-.1 3.2 .5 3.1 .7 2.5 3.2 6.5 2.4 4.3 4.3 7.3 4.2 6.8 4.3 6.4 4.3 6 4.2 5.6 4.3 5.1 4.3 4.7 4.2 4.2 4.3 3.9 4.3 3.4 4.2 2.9 2.9 1.8 2.8 1.5 2.9 1.4 2.8 1.1 2.9 1 2.8 .8 2.9 .6 2.8 .4 2.8 .2 2.9 0 2.8-.1 2.9-.4 2.8-.5 2.9-.8 2.8-.9 2.9-1.1 2.8-1.4 2.9-1.5 2.8-1.7 4.3-2.9 4.2-3.3 4.3-3.8 4.3-4.1 4.2-4.7 4.3-5 4.3-5.5 4.2-5.9 4.3-6.4 4.3-6.7 4.3-7.2 4.2-7.7 1.5-3.2 .9-3.1 .4-3.1-.1-3.2-.6-3.1-.5-1.5-2.6 1.9-1.7 1.1-1.8 .8-1.7 .7-1.8 .4-1.7 .3-1.8 .1-1.7-.2-1.8-.3-1.7-.5-1.7-.7-1.8-.9-1.7-1-2.7-2-2.6-2.4-2.6-2.9-2.6-3.3-2.6-3.7-3.5-5.6-3.5-6.4-1.7-3.5z" fill="#1ac769"/><path d="M182.9 82.1l-6.7-1.4-6-1-6.2-.8-6.2-.5-6.3-.3-6.3 0-6.3 .3-5.1 .3-3.4 4.8-3.4 4.3-3.4 3.9-3.4 3.4-3.4 3-3.4 2.6-2.3 1.5-2.2 1.3-2.3 1.1-2.3 .9-2.2 .7-2.3 .5-2.3 .4-2.2 .1-2.3-.1-2.2-.2-2.3-.5-2.3-.6-2.2-.8-2.3-1.1-2.3-1.2-2.2-1.4-1.2-.8-2.4 2.9-2 2.9-1.6 3.1-1 3-.6 3.1 0 3.2 .4 3.1 .9 3.1 3.2 6.2 3 5.3 4.3 7.2 4.3 6.7 4.3 6.3 4.3 5.8 4.3 5.5 4.3 5 4.2 4.5 4.3 4.1 4.3 3.7 4.3 3.3 2.9 1.9 2.8 1.7 2.9 1.6 2.9 1.3 2.8 1.2 2.9 .9 2.8 .8 2.9 .6 2.9 .3 2.8 .2 2.9 0 2.8-.2 2.9-.4 2.9-.5 2.8-.8 2.9-1 2.8-1.1 2.9-1.4 2.9-1.5 2.8-1.8 4.3-3 4.3-3.4 4.3-3.8 4.3-4.3 4.3-4.7 4.3-5.1 4.2-5.6 4.3-6 4.3-6.4 4.3-6.9 4.3-7.3 3-5.4 1.5-3.5 .9-3.7 .3-3.1-.3-3.1-.8-3.1-.3-1-2.6 1.8-1.8 .9-1.7 .7-1.8 .6-1.7 .4-1.8 .1-1.7 0-1.8-.2-1.7-.4-1.8-.6-1.7-.8-1.8-1-2.6-1.8-2.6-2.3-2.6-2.7-2.6-3.1-2.7-3.6-3.5-5.5-3.5-6.2-1.7-3.4z" fill="#16c66e"/><path d="M183.8 83.9l-5.9-1.4-6.9-1.2-6.1-.8-6.1-.5-6.3-.3-6.2-.1-6.3 .2-6.1 .4-1.3 .2-3.4 4.6-3.4 4.1-3.4 3.8-3.4 3.3-3.4 2.9-3.3 2.4-2.3 1.4-2.3 1.2-2.2 1-2.3 .8-2.3 .6-2.2 .4-2.3 .3-2.2 0-2.3-.2-2.3-.3-2.2-.6-2.3-.7-2.3-.9-2.2-1.1-2.3-1.4-1.1-.7-2.3 2.4-2.1 3-1.7 2.9-1.2 3.1-.7 3-.2 3.1 .2 3.1 .8 3.1 .6 1.7 3.1 5.9 3.6 6.2 4.3 7 4.3 6.6 4.2 6.1 4.3 5.7 4.3 5.2 4.3 4.9 4.2 4.4 4.3 4 4.3 3.5 4.2 3.1 2.9 1.8 2.8 1.7 2.9 1.4 2.8 1.3 2.9 1.1 2.8 .9 2.9 .6 2.8 .5 2.9 .3 2.8 .2 2.9-.1 2.8-.3 2.9-.4 2.8-.7 2.9-.8 2.8-1.1 2.8-1.2 2.9-1.4 2.8-1.6 2.9-1.8 4.3-3.1 4.2-3.5 4.3-3.9 4.3-4.3 4.2-4.8 4.3-5.2 4.3-5.6 4.3-6.1 4.2-6.5 4.3-6.9 4.3-7.4 2.5-4.9 1.1-3 .5-3.1 .1-3.1-.4-3.1-1-3.1-.2-.6-1.7 1.2-1.8 .9-1.7 .8-1.8 .5-1.7 .4-1.8 .1-1.7 0-1.8-.2-1.7-.4-1.8-.6-1.7-.8-1.8-1-2.6-1.8-2.6-2.3-2.6-2.7-2.6-3.1-2.7-3.6-3.5-5.4-3.5-6.2-.8-1.7z" fill="#12c573"/><path d="M184.7 85.6l-6.1-1.4-6.8-1.2-6-.8-6.1-.6-6.2-.3-6.2-.1-6.2 .1-6.1 .4-3.6 .3-3.3 4.5-3.4 4-3.4 3.6-3.4 3.1-3.4 2.7-3.4 2.3-2.2 1.3-2.3 1.1-2.3 .9-2.2 .7-2.3 .5-2.2 .4-2.3 .1-2.3-.1-2.2-.2-2.3-.5-2.2-.6-2.3-.8-2.3-1-2.2-1.2-1.1-.7-2.9 3-2.1 2.9-1.7 2.9-1.1 3-.8 3.1-.2 3 .3 3.1 .7 3.1 .9 2.2 3 5.5 4.2 7.3 4.3 6.8 4.2 6.4 4.3 5.9 4.2 5.6 4.3 5.1 4.2 4.7 4.3 4.2 4.3 3.8 4.2 3.4 4.3 3 2.8 1.8 2.8 1.5 2.9 1.4 2.8 1.2 2.8 1 2.9 .8 2.8 .6 2.8 .4 2.9 .2 2.8 0 2.8-.1 2.9-.3 2.8-.6 2.8-.7 2.9-.9 2.8-1.1 2.8-1.3 2.9-1.5 2.8-1.6 4.3-2.9 4.2-3.2 4.3-3.8 4.2-4.1 4.3-4.5 4.2-5 4.3-5.4 4.2-5.9 4.3-6.3 4.2-6.6 4.3-7.2 3.1-5.4 1.5-3.4 .9-3.6 .2-3.1-.3-3-.7-3.1-.9-2.3-1.8 1.1-1.7 .8-1.7 .7-1.8 .4-1.7 .3-1.8 .1-1.7-.2-1.8-.3-1.7-.5-1.7-.7-1.8-.9-1.7-1-2.7-2-2.6-2.4-2.6-2.9-2.6-3.2-2.6-3.8-3.5-5.6-2.6-4.7z" fill="#0fc578"/><path d="M185.7 87.5l-6.4-1.6-6.7-1.3-6.9-.9-6.1-.6-6.1-.3-6.2-.1-6.1 .1-6.1 .4-4.9 .5-3.4 4.3-3.3 3.8-3.4 3.4-3.4 3-3.4 2.6-2.2 1.4-2.3 1.3-2.2 1.1-2.3 .9-2.2 .7-2.3 .5-2.2 .4-2.3 .1-2.2-.1-2.3-.2-2.2-.4-2.3-.7-2.2-.8-2.3-1-2.2-1.2-2.7 2.7-2.2 2.8-1.8 2.9-1.4 3-.8 3-.4 3 .1 3.1 .6 3 1.5 4 3.4 6.1 4.3 7.1 4.3 6.7 4.2 6.3 4.3 5.8 4.3 5.5 4.2 4.9 4.3 4.6 4.3 4.1 4.3 3.7 4.2 3.2 4.3 2.9 2.9 1.6 2.8 1.5 2.9 1.2 2.8 1.1 2.9 .9 2.8 .6 2.9 .5 2.8 .3 2.9 .2 2.8-.1 2.9-.3 2.8-.5 2.9-.6 2.8-.9 2.9-1 2.8-1.2 2.8-1.4 2.9-1.7 2.8-1.8 4.3-3 4.3-3.5 4.3-3.9 4.2-4.4 4.3-4.8 4.3-5.2 4.3-5.6 4.2-6.1 4.3-6.5 4.3-7 4.3-7.3 1.6-3.5 .8-3 .4-3.1-.1-3-.6-3-1-3-.5-1-1.7 1-1.7 .7-1.8 .5-1.7 .4-1.7 .1-1.8 0-1.7-.2-1.8-.4-1.7-.6-1.7-.8-1.8-1-2.6-1.8-2.6-2.3-2.6-2.6-2.6-3.2-2.6-3.5-3.5-5.4-2.6-4.5z" fill="#0cc37d"/><path d="M186.7 89.3l-6.7-1.7-6.7-1.3-6.8-1-6-.6-6-.4-6.1-.1-6.1 .1-6.1 .3-6 .6-1.3 .2-3.3 4.1-3.4 3.6-3.3 3.3-3.4 2.8-3.3 2.4-2.3 1.3-2.2 1.2-2.2 1-2.3 .8-2.2 .6-2.2 .4-2.3 .2-2.2 .1-2.2-.1-2.3-.4-2.2-.5-2.2-.7-2.3-.9-2.2-1.1-2.5 2.4-2.4 2.8-1.9 2.8-1.5 3-1 2.9-.6 3 0 3.1 .4 3 .9 3 1.2 2.6 3.8 6.7 4.3 7 4.2 6.5 4.3 6.1 4.2 5.7 4.3 5.2 4.2 4.9 4.3 4.4 4.3 3.9 4.2 3.6 4.3 3.1 2.8 1.8 2.8 1.7 2.9 1.4 2.8 1.3 2.8 1.1 2.9 .9 2.8 .7 2.8 .5 2.9 .3 2.8 .2 2.9-.1 2.8-.2 2.8-.5 2.9-.6 2.8-.8 2.8-1 2.9-1.2 2.8-1.4 2.8-1.6 4.3-2.7 4.3-3.1 4.2-3.6 4.3-4 4.2-4.4 4.3-4.9 4.2-5.3 4.3-5.7 4.2-6.1 4.3-6.6 4.2-6.9 3.2-5.5 1.5-3.4 .9-3.5 .2-3.1-.3-3-.7-3-1.2-3-.4-.6-1.7 .8-1.7 .6-1.7 .5-1.8 .2-1.7 .1-1.7-.2-1.7-.3-1.8-.5-1.7-.7-1.7-.9-2.6-1.6-2.6-2.1-2.6-2.5-2.6-3-2.5-3.3-3.5-5.2-2.6-4.3z" fill="#0ac284"/><path d="M187.7 91.2l-6.2-1.6-6.5-1.4-6.7-1.1-6.9-.8-6-.4-6-.1-6.1 0-6 .3-6.9 .6-2.9 .4-3.4 4-3.4 3.5-3.4 3.1-3.3 2.6-2.3 1.6-2.3 1.3-2.2 1.1-2.3 1-2.3 .8-2.2 .5-2.3 .4-2.3 .2-2.2 0-2.3-.2-2.2-.4-2.3-.6-2.3-.8-2.2-1-3.3 3.1-2.4 2.7-1.9 2.8-1.5 2.9-1 3-.5 3-.1 3 .4 3 .9 2.9 1.6 3.4 4.3 7.3 4.3 6.8 4.2 6.4 4.3 6 4.3 5.5 4.3 5.2 4.2 4.7 4.3 4.2 4.3 3.8 4.3 3.4 4.2 3 2.9 1.7 2.8 1.6 2.9 1.3 2.8 1.2 2.9 1 2.8 .7 2.9 .6 2.8 .4 2.9 .2 2.8 0 2.9-.1 2.8-.4 2.9-.6 2.8-.7 2.9-1 2.8-1.1 2.9-1.3 2.8-1.6 2.9-1.7 4.2-2.9 4.3-3.3 4.3-3.8 4.3-4.2 4.2-4.7 4.3-5.1 4.3-5.5 4.3-5.9 4.2-6.4 4.3-6.8 4.3-7.2 1.7-3.6 .8-3 .4-3-.1-3-.6-2.9-1-3-1.2-2.4-1.8 .7-1.7 .5-1.8 .3-1.7 .2-1.8-.1-1.7-.3-1.8-.4-1.7-.7-1.8-.8-1.7-1.1-2.6-1.9-2.6-2.3-2.7-2.8-2.6-3.2-2.6-3.6-3.5-5.6z" fill="#08c08a"/><path d="M188.9 93.2l-5.8-1.7-6.4-1.4-6.6-1.2-6.8-.8-6.9-.6-7-.2-7 .1-7 .4-6.8 .7-2.5 .4-3.4 3.7-3.3 3.3-3.4 2.9-3.3 2.4-3.3 2-2.3 1.2-2.2 .9-2.2 .7-2.3 .6-2.2 .4-2.2 .2-2.2 0-2.3-.2-2.2-.4-2.2-.5-2.3-.8-1.1-.4-3.2 2.8-2.5 2.7-2.1 2.8-1.6 2.8-1.1 3-.7 2.9-.2 3 .2 2.9 .7 3 1.5 3.4 3.4 5.9 4.2 6.9 4.3 6.5 4.3 6 4.3 5.6 4.2 5.2 4.3 4.8 4.3 4.3 4.3 3.9 4.2 3.5 4.3 3 2.9 1.8 2.8 1.6 2.9 1.4 2.8 1.2 2.9 1 2.8 .9 2.9 .6 2.8 .4 2.9 .3 2.8 .1 2.9-.2 2.8-.3 2.9-.5 2.8-.7 2.9-.9 2.8-1.1 2.9-1.3 2.8-1.5 2.9-1.6 4.2-2.9 4.3-3.3 4.3-3.7 4.3-4.1 4.2-4.6 4.3-5 4.3-5.5 4.3-5.8 4.2-6.3 4.3-6.8 4.3-7.1 1.7-3.7 .9-2.9 .3-3-.1-2.9-.5-3-1.1-2.9-1.7-3.2-1.7 .6-1.7 .3-1.7 .2-1.7 0-1.8-.1-1.7-.4-1.7-.6-1.7-.7-1.7-.9-2.6-1.8-2.6-2.1-2.6-2.6-2.6-3-2.5-3.4-3.5-5.2z" fill="#06be90"/><path d="M190.1 95.1l-6.5-1.9-6.2-1.4-6.6-1.2-6.7-.9-6.8-.6-6.9-.3-7 .1-6.9 .3-6.7 .7-5.3 .8-3.4 3.5-3.3 3.1-3.4 2.7-3.3 2.3-2.3 1.2-2.2 1.1-2.3 .9-2.2 .7-2.2 .5-2.3 .4-2.2 .1-2.3-.1-2.2-.2-2.2-.4-2.3-.6-1.1-.4-3.3 2.7-2.6 2.6-2.2 2.8-1.8 2.8-1.2 2.9-.9 2.9-.4 2.9 .1 2.9 .6 3 1.2 3.4 1.1 2 4.3 7.1 4.3 6.7 4.2 6.3 4.3 5.9 4.3 5.4 4.3 5 4.2 4.5 4.3 4.1 4.3 3.7 4.3 3.3 4.2 2.8 2.9 1.6 2.8 1.5 2.9 1.2 2.8 1.1 2.9 .9 2.8 .7 2.9 .4 2.9 .3 2.8 .2 2.9-.1 2.8-.3 2.9-.5 2.8-.6 2.9-.9 2.8-1 2.9-1.2 2.8-1.5 2.9-1.6 2.8-1.8 4.3-3.1 4.3-3.5 4.2-3.9 4.3-4.4 4.3-4.8 4.3-5.2 4.2-5.7 4.3-6 4.3-6.6 4.3-6.9 2.6-4.7 1.2-3.4 .5-2.9 0-2.9-.4-3-.8-2.9-1.4-2.9-1.3-2.1-1.7 .4-1.7 .3-1.8 .1-1.7-.2-1.7-.3-1.7-.5-1.8-.7-1.7-.9-2.6-1.6-2.6-2.1-2.6-2.6-2.6-2.9-2.6-3.4-2.6-3.8z" fill="#05bc96"/><path d="M191.4 97.2l-6.4-2-6.1-1.5-6.4-1.3-6.6-1-6.8-.6-6.8-.4-6.9 0-6.8 .2-6.8 .6-6.6 .9-2.4 .4-3.4 3.3-3.3 2.9-3.4 2.5-2.2 1.4-2.2 1.2-2.3 1.1-2.2 .8-2.3 .7-2.2 .4-2.2 .3-2.3 .1-2.2-.1-2.2-.3-2.3-.5-1.1-.3-3.5 2.7-2.7 2.6-2.3 2.7-1.9 2.7-1.4 2.9-1 2.8-.5 2.9-.1 3 .4 2.9 1.1 3.4 1.5 3 4.3 7.1 4.3 6.6 4.2 6.2 4.3 5.8 4.3 5.3 4.3 4.9 4.2 4.5 4.3 4.1 4.3 3.6 4.3 3.2 2.8 1.8 2.9 1.7 2.8 1.5 2.9 1.3 2.8 1.1 2.9 1 2.8 .7 2.9 .5 2.8 .4 2.9 .1 2.8 0 2.9-.2 2.8-.4 2.9-.6 2.8-.8 2.9-1 2.8-1.2 2.9-1.4 2.8-1.6 2.9-1.7 4.3-3 4.3-3.5 4.2-3.8 4.3-4.3 4.3-4.7 4.3-5.2 4.2-5.6 4.3-6 4.3-6.5 4.3-6.8 2.6-4.7 1.2-3.4 .5-2.9 .1-2.9-.4-2.9-.9-2.9-1.3-2.9-2-3-1.7 .3-1.7 .1-1.8-.1-1.7-.3-1.7-.4-1.7-.7-1.8-.8-2.6-1.6-2.6-2.1-2.5-2.4-2.6-2.9-2.6-3.3-1.7-2.4z" fill="#03ba9c"/><path d="M192.9 99.4l-6.5-2.2-6-1.6-6.3-1.3-6.5-1.1-6.6-.7-6.8-.5-6.8-.1-6.8 .2-6.7 .5-6.6 .7-6.4 1.1-3.3 3.1-3.3 2.6-3.3 2.2-2.2 1.3-2.2 1-2.3 .9-2.2 .7-2.2 .5-2.2 .3-2.2 .2-2.2 0-2.2-.3-2.2-.4-3.8 2.8-2.8 2.5-2.4 2.6-2 2.7-1.6 2.8-1.1 2.8-.7 2.9-.2 2.9 .2 2.9 .7 2.9 1.4 3.3 3.6 5.9 4.3 6.7 4.2 6.3 4.3 5.9 4.3 5.4 4.3 4.9 4.2 4.6 4.3 4.1 4.3 3.7 4.3 3.3 4.2 2.8 2.9 1.6 2.8 1.5 2.9 1.2 2.8 1.1 2.9 .9 2.8 .7 2.9 .4 2.8 .3 2.9 .2 2.9-.1 2.8-.3 2.9-.5 2.8-.6 2.9-.9 2.8-1 2.9-1.2 2.8-1.5 2.9-1.6 2.8-1.8 4.3-3.1 4.3-3.5 4.2-3.9 4.3-4.4 4.3-4.8 4.3-5.2 4.2-5.7 4.3-6.1 4.3-6.5 4.3-6.9 1.6-3.4 1-3.3 .4-2.9-.1-2.9-.6-2.9-1-2.8-1.4-2.8-1.9-2.8-.4-.4-1.7 .2-1.7-.1-1.7-.2-1.7-.4-1.7-.6-1.7-.8-2.5-1.5-2.6-2-2.5-2.3-2.6-2.7-2.5-3.2-.9-1.2z" fill="#01b9a3"/><path d="M194.5 101.6l-6-2.1-5.8-1.7-6.1-1.5-6.4-1.1-6.5-.9-6.7-.6-6.7-.2-6.7 0-6.7 .4-6.6 .6-6.5 1-5 1-3.4 2.7-3.3 2.4-3.3 2-2.2 1-2.3 .9-2.2 .7-2.2 .5-2.2 .3-2.2 .2-2.2 0-2.3-.3-4.3 3-3.8 3.3-2.4 2.6-2 2.6-1.5 2.8-1.1 2.8-.7 2.8-.2 2.9 .2 2.9 1.1 3.8 1.7 3.6 4.3 6.9 4.3 6.5 4.3 6.1 4.2 5.6 4.3 5.2 4.3 4.8 4.3 4.3 4.3 3.9 4.2 3.5 4.3 3 2.9 1.8 2.8 1.6 2.9 1.4 2.8 1.2 2.9 1 2.8 .9 2.9 .6 2.8 .4 2.9 .3 2.8 .1 2.9-.2 2.8-.3 2.9-.5 2.8-.7 2.9-.9 2.8-1.1 2.9-1.3 2.8-1.5 2.9-1.6 4.2-2.9 4.3-3.3 4.3-3.7 4.3-4.1 4.2-4.6 4.3-5 4.3-5.5 4.3-5.8 4.3-6.3 4.2-6.8 2.5-4.3 1.4-3.8 .5-2.8 .1-2.9-.4-2.9-.9-2.8-1.2-2.8-1.8-2.7-2-2.5-1.7-.1-1.7-.2-1.7-.4-1.7-.6-1.8-.8-2.5-1.5-2.6-2-2.6-2.3-2.5-2.8-1.7-2.1z" fill="#00b7a9"/><path d="M196.5 104.1l-6-2.3-6.5-2.1-5.9-1.5-6.3-1.2-6.4-1-6.6-.6-6.6-.3-6.7-.1-6.6 .3-6.6 .6-6.4 .8-6.3 1.2-3.4 .7-3.4 2.5-2.3 1.5-2.2 1.2-2.3 1-2.2 .9-2.3 .7-2.2 .4-2.3 .3-2.3 .1-1.1 0-4.1 2.5-4.2 3.2-2.6 2.5-2.3 2.6-1.8 2.7-1.4 2.7-.9 2.8-.5 2.8-.1 2.9 .4 2.8 1.2 3.7 1.5 2.8 4.2 6.9 4.3 6.4 4.3 6 4.3 5.5 4.2 5.1 4.3 4.7 4.3 4.3 4.3 3.8 4.2 3.4 4.3 3 2.9 1.7 2.8 1.6 2.9 1.3 2.8 1.2 2.9 1 2.8 .7 2.9 .6 2.8 .4 2.9 .2 2.8 0 2.9-.1 2.8-.4 2.9-.6 2.8-.7 2.9-1 2.8-1.1 2.9-1.3 2.8-1.6 2.9-1.7 4.2-2.9 4.3-3.3 4.3-3.8 4.3-4.3 4.2-4.6 4.3-5.1 4.3-5.5 4.3-5.9 4.2-6.4 4.3-6.8 1.8-3.5 .9-3.3 .4-2.8-.1-2.8-.5-2.9-1-2.8-1.4-2.7-1.9-2.7-2.7-3-1.7-.3-1.8-.4-1.7-.7-1.8-.8-1.7-1.1-2.6-1.9-2.6-2.3-2.6-2.8z" fill="#00b4af"/><path d="M199 107l-5.1-2.3-6.1-2.3-6.6-1.8-6-1.4-6.3-1.1-6.4-.8-6.6-.5-6.6-.2-6.6 0-6.5 .4-6.5 .7-6.3 1-6.1 1.2-4.4 1.2-3.2 2-3.2 1.5-3.2 1.3-2.1 .5-2.1 .5-2.2 .2-4.6 2.5-4.4 3.1-3.7 3.2-2.4 2.5-2 2.7-1.5 2.7-1.1 2.7-.6 2.8-.2 2.8 .2 2.8 1 3.7 1.9 3.8 4.3 6.8 4.3 6.4 4.2 5.9 4.3 5.4 4.3 5.1 4.3 4.6 4.2 4.2 4.3 3.7 4.3 3.4 4.2 2.8 2.9 1.7 2.8 1.5 2.9 1.3 2.8 1.1 2.9 1 2.8 .7 2.9 .5 2.8 .4 2.9 .1 2.8 0 2.9-.2 2.8-.4 2.9-.6 2.8-.8 2.9-1 2.8-1.2 2.9-1.4 2.8-1.6 2.9-1.7 4.3-3 4.2-3.4 4.3-3.9 4.3-4.3 4.2-4.7 4.3-5.2 4.3-5.5 4.3-6 4.2-6.5 3.4-5.3 1.4-3.2 1-3.7 .2-2.8-.2-2.8-.7-2.8-1.1-2.8-1.6-2.7-2-2.6-2.4-2.6-1.4-1.4-1.7-.5-2.4-1.1-2.5-1.4-2.5-1.9-2.4-2.2z" fill="#00b2b5"/><path d="M205.2 112.1l-4.9-2.8-5.4-2.6-6-2.2-6.4-2-5.9-1.4-6.1-1.2-6.3-.9-6.5-.6-6.5-.2-6.6-.1-6.5 .4-6.4 .5-6.3 .9-6.1 1.2-5.8 1.4-6.3 2-5.9 2.3-6 2.9-4.7 2.8-4 3.1-3.4 3.3-2.1 2.6-1.6 2.7-1.2 2.7-.8 2.7-.4 2.8 .1 2.8 .8 3.7 1.6 3.6 3.5 5.7 4.3 6.4 4.2 5.9 4.3 5.6 4.3 5.1 4.3 4.7 4.2 4.2 4.3 3.9 4.3 3.3 4.2 3 2.9 1.7 2.8 1.6 2.9 1.3 2.8 1.2 2.9 1 2.8 .7 2.9 .6 2.8 .4 2.9 .2 2.8 0 2.9-.1 2.8-.4 2.9-.6 2.8-.7 2.9-1 2.8-1.1 2.9-1.3 2.8-1.5 2.9-1.8 4.2-2.9 4.3-3.3 4.3-3.8 4.2-4.2 4.3-4.7 4.3-5 4.3-5.5 4.2-6 4.3-6.3 3.4-5.4 1.4-3.2 1-3.7 .2-2.7-.2-2.8-.7-2.8-1.1-2.7-1.6-2.7-1.9-2.6-3.3-3.4-3.9-3.1-1.6-1.2z" fill="#00b0bb"/><path d="M204.6 113.6l-4.8-2.8-5.4-2.6-5.9-2.2-6.3-2-5.9-1.4-6-1.1-6.3-.9-6.4-.6-6.4-.3-6.5 0-6.5 .3-6.3 .6-6.3 .9-6 1.1-6.6 1.7-6.2 1.9-5.7 2.3-5.2 2.6-4.7 2.9-4 3-3.4 3.3-2 2.5-1.6 2.7-1.2 2.6-.8 2.8-.4 2.7 .1 2.8 .8 3.6 1.6 3.6 3.6 5.7 4.2 6.3 4.3 5.9 4.3 5.5 4.2 5 4.3 4.6 4.3 4.2 4.2 3.8 4.3 3.3 4.3 2.9 2.8 1.6 2.9 1.5 2.8 1.3 2.9 1.2 2.8 .9 2.9 .7 2.8 .5 2.8 .4 2.9 .1 2.8 0 2.9-.2 2.8-.4 2.9-.6 2.8-.8 2.9-1 2.8-1.2 2.9-1.4 2.8-1.5 2.8-1.8 4.3-3 4.3-3.4 4.3-3.9 4.2-4.2 4.3-4.7 4.3-5.2 4.2-5.5 4.3-6 4.3-6.5 2.7-4.5 1.3-3.6 .6-3.7-.1-2.8-.5-2.7-1-2.7-1.4-2.7-1.8-2.6-3-3.4-3.7-3.2-2.7-1.8z" fill="#00aec2"/><path d="M204.1 115l-4.8-2.8-5.4-2.5-5.8-2.2-6.3-2-6.6-1.5-6-1.1-6.2-.9-6.4-.5-6.4-.2-6.4 0-6.4 .3-6.2 .7-6.2 .9-5.9 1.2-6.5 1.6-6.1 2-5.6 2.3-5.7 2.9-4.5 2.9-3.8 3.1-3.1 3.3-1.9 2.5-1.5 2.6-1 2.7-.7 2.7-.2 2.7 .3 2.8 .9 3.6 1.8 3.5 4.5 7 4.3 6.1 4.3 5.7 4.2 5.2 4.3 4.8 4.3 4.4 4.2 4 4.3 3.5 4.3 3.1 2.8 1.8 2.8 1.6 2.9 1.5 2.8 1.2 2.9 1.1 2.8 .9 2.9 .7 2.8 .4 2.9 .3 2.8 .2 2.8-.1 2.9-.3 2.8-.5 2.9-.6 2.8-.9 2.9-1 2.8-1.2 2.9-1.4 2.8-1.7 4.3-2.7 4.2-3.2 4.3-3.7 4.3-4 4.2-4.5 4.3-4.9 4.3-5.4 4.2-5.7 4.3-6.2 3.5-5.5 1.4-3.1 1-3.6 .2-2.7-.3-2.7-.6-2.8-1.1-2.6-1.5-2.7-2.7-3.4-3.3-3.2-4-3.1-.6-.3z" fill="#00acc8"/><path d="M203.5 116.4l-4.8-2.7-5.2-2.5-5.8-2.2-6.2-1.9-6.6-1.6-5.9-1.1-6.2-.8-6.3-.5-6.3-.3-6.3 .1-6.3 .3-6.3 .6-6 .9-6.7 1.4-6.4 1.7-6 2-6.1 2.6-5.5 3-4.3 2.9-3.6 3.1-2.9 3.3-1.7 2.5-1.4 2.6-.9 2.7-.4 2.7-.1 2.7 .6 3.5 1.3 3.6 1.3 2.3 4.3 6.4 4.3 6.1 4.2 5.5 4.3 5.2 4.2 4.7 4.3 4.3 4.3 3.9 4.2 3.5 4.3 3 2.8 1.8 2.9 1.5 2.8 1.4 2.9 1.2 2.8 1 2.8 .9 2.9 .6 2.8 .4 2.9 .3 2.8 .1 2.9-.2 2.8-.3 2.8-.5 2.9-.7 2.8-.9 2.9-1.1 2.8-1.3 2.8-1.4 2.9-1.7 4.2-2.8 4.3-3.3 4.3-3.7 4.2-4.1 4.3-4.5 4.3-5 4.2-5.4 4.3-5.9 4.2-6.2 2.6-4.3 1.3-3 .7-3.6 .1-2.7-.4-2.7-.8-2.7-1.2-2.6-1.6-2.6-2.8-3.3-3.5-3.2-3.6-2.6z" fill="#00a9ce"/><path d="M202.9 117.8l-4.7-2.7-5.9-2.7-5.8-2.2-6.1-1.8-6.6-1.5-5.9-1.1-6.1-.7-6.2-.5-6.3-.2-6.3 .1-6.2 .3-6.1 .7-6 .9-6.6 1.4-6.3 1.7-5.8 2.1-6 2.6-4.8 2.6-4.2 2.9-3.6 3.1-2.9 3.2-2.2 3.4-1.2 2.6-.7 2.6-.4 2.7 .2 3.5 1 3.6 1.7 3.4 4.7 7.1 4.2 5.9 4.3 5.5 4.2 5.1 4.3 4.6 4.3 4.3 4.2 3.8 4.3 3.3 4.2 3 2.9 1.7 2.8 1.5 2.9 1.4 2.8 1.1 2.8 1 2.9 .7 2.8 .6 2.8 .4 2.9 .2 2.8 0 2.9-.1 2.8-.4 2.8-.6 2.9-.7 2.8-.9 2.9-1.2 2.8-1.3 2.8-1.5 2.9-1.7 4.2-2.9 4.3-3.3 4.2-3.8 4.3-4.2 4.3-4.6 4.2-5 4.3-5.5 4.2-5.9 4.3-6.3 1.8-3.5 1.1-3.5 .4-3.5-.2-2.7-.7-2.6-1.1-2.7-1.4-2.5-2.6-3.4-3.3-3.1-3.9-3-.6-.4z" fill="#00a7d3"/><path d="M202.3 119.3l-4.6-2.7-5.9-2.7-5.7-2.1-6.1-1.9-6.5-1.5-6.7-1.1-6-.7-6.2-.5-6.2-.1-6.2 .1-6.2 .4-6 .7-6.7 1.1-6.5 1.4-6.1 1.8-5.6 2.1-5.8 2.7-4.6 2.6-4 2.9-3.4 3.1-2.7 3.3-2 3.3-1 2.6-.6 2.6-.2 2.7 .4 3.5 1.1 3.5 1.8 3.3 4.3 6.3 4.2 5.8 4.3 5.4 4.2 5 4.3 4.6 4.2 4.2 4.3 3.7 4.2 3.3 4.3 2.8 2.8 1.7 2.8 1.5 2.9 1.3 2.8 1.1 2.9 .9 2.8 .7 2.8 .5 2.9 .4 2.8 .1 2.8 0 2.9-.2 2.8-.4 2.8-.6 2.9-.8 2.8-1 2.8-1.2 2.9-1.3 2.8-1.6 2.8-1.7 4.3-3 4.2-3.4 4.3-3.8 4.3-4.3 4.2-4.6 4.3-5.1 4.2-5.6 4.3-5.9 3.4-5.2 1.6-3.4 .9-3.5 .2-3.5-.4-2.6-.7-2.6-1.2-2.6-2.2-3.4-2.9-3.2-3.6-3.1-2.6-1.8z" fill="#01a4d7"/><path d="M201.7 120.7l-4.6-2.6-5.8-2.7-5.6-2.1-6-1.8-6.4-1.5-6.7-1.1-6-.8-6.1-.4-6.1-.2-6.1 .2-6.1 .4-6 .6-6.6 1.1-6.4 1.5-6 1.7-6.3 2.4-5.7 2.7-5 3-3.8 2.9-3.2 3.1-2.5 3.2-1.8 3.4-.8 2.5-.5 2.6 0 3.5 .8 3.5 1.5 3.4 1 1.7 4.2 6.2 4.3 5.8 4.2 5.3 4.3 4.9 4.2 4.5 4.3 4.1 4.2 3.6 4.3 3.2 4.2 2.8 2.8 1.6 2.9 1.4 2.8 1.3 2.8 1 2.9 .9 2.8 .7 2.8 .5 2.9 .2 2.8 .2 2.8-.1 2.9-.3 2.8-.5 2.8-.6 2.9-.8 2.8-1.1 2.8-1.2 2.8-1.4 2.9-1.6 4.2-2.7 4.3-3.2 4.2-3.6 4.3-4 4.2-4.5 4.3-4.8 4.2-5.3 4.3-5.8 4.2-6.1 2-3.6 1-3.4 .4-3.5-.2-2.6-.7-2.6-1-2.6-2-3.3-2.7-3.2-3.4-3.1-3.5-2.5z" fill="#02a2db"/><path d="M201.1 122.1l-5.8-3.2-5.8-2.6-5.7-2-6.1-1.7-6.3-1.4-6.7-1-6.8-.7-6-.3-6.1 0-6.1 .2-6.8 .6-6.6 .9-6.4 1.3-6.1 1.7-5.7 1.9-5.9 2.5-5.3 2.9-4 2.7-3.5 3-2.8 3.1-2.1 3.3-1.4 3.3-.7 3.5 0 3.4 .7 3.4 1.5 3.4 1.1 1.8 4.3 6.2 4.3 5.7 4.3 5.3 4.3 4.9 4.2 4.4 4.3 4 4.3 3.6 4.3 3.1 2.9 1.8 2.8 1.7 2.9 1.4 2.8 1.3 2.9 1.1 2.9 .9 2.8 .7 2.9 .4 2.8 .3 2.9 .2 2.9-.1 2.8-.3 2.9-.5 2.8-.6 2.9-.9 2.9-1 2.8-1.3 2.9-1.4 2.8-1.6 2.9-1.8 4.3-3.1 4.3-3.6 4.2-3.9 4.3-4.4 4.3-4.8 4.3-5.3 4.3-5.7 4.3-6.1 2-3.7 1.1-3.4 .3-3.4-.4-3.4-1.1-3.4-1.8-3.4-2.5-3.2-3.2-3.1-3.8-2.9-.5-.3z" fill="#029fe0"/><path d="M200.5 123.6l-5.7-3.2-5.8-2.6-6.3-2.2-6.1-1.6-6.3-1.4-6.6-.9-6.7-.7-6.9-.3-6 .1-6.8 .4-6.7 .7-6.5 1.1-6.2 1.4-5.9 1.7-6.1 2.3-5.6 2.6-4.8 2.9-3.8 2.9-3.1 3-2.4 3.2-1.7 3.2-1.1 3.4-.3 3.4 .3 3.4 1.1 3.4 2 3.5 4.3 6.1 4.3 5.6 4.3 5.3 4.3 4.7 4.2 4.4 4.3 3.9 4.3 3.5 4.3 3 2.8 1.8 2.9 1.6 2.8 1.4 2.9 1.2 2.8 1 2.9 .9 2.9 .6 2.8 .4 2.9 .3 2.8 .1 2.9-.2 2.8-.3 2.9-.5 2.8-.7 2.9-.9 2.8-1.1 2.9-1.3 2.8-1.5 2.9-1.6 4.3-2.9 4.3-3.3 4.2-3.7 4.3-4.2 4.3-4.6 4.3-5 4.3-5.5 4.2-5.8 2.8-4.2 1.4-3.3 .7-3.4-.1-3.4-.7-3.4-1.4-3.3-2.2-3.3-2.8-3.1-3.4-2.9-2.5-1.8z" fill="#039de4"/><path d="M199.9 125l-5.7-3.1-5.7-2.6-6.2-2.2-6-1.6-6.3-1.3-6.5-1-6.6-.6-6.8-.3-6.8 .1-6.7 .4-6.6 .8-6.4 1.1-6.1 1.4-5.7 1.7-6 2.4-5.4 2.6-5.3 3.3-3.5 2.8-2.9 3-2.2 3.2-1.6 3.3-.9 3.3-.1 3.3 .5 3.4 1.3 3.3 1.7 2.8 4.2 6 4.3 5.6 4.3 5.1 4.2 4.7 4.3 4.2 4.3 3.8 4.3 3.4 4.2 3 2.9 1.7 2.8 1.6 2.9 1.3 2.8 1.2 2.9 1 2.8 .7 2.9 .6 2.8 .4 2.9 .2 2.8 0 2.9-.1 2.8-.4 2.9-.6 2.8-.7 2.9-1 2.8-1.1 2.9-1.3 2.8-1.5 2.9-1.8 4.2-2.9 4.3-3.3 4.3-3.8 4.3-4.2 4.2-4.7 4.3-5.1 4.3-5.5 4.2-5.9 2-3.4 1.1-3.3 .4-3-.2-3.3-.9-3.3-1.6-3.3-2.3-3.2-2.9-3-3.5-2.9-1.5-1z" fill="#049ae8"/><path d="M199.2 126.5l-5.5-3.2-5.7-2.5-6.1-2.1-5.9-1.6-6.2-1.3-6.5-1-6.5-.6-6.7-.3-6.7 .1-6.6 .4-6.5 .8-6.4 1-6 1.5-6.4 1.9-5.8 2.3-5.9 3-4.9 3.3-3.4 2.8-2.7 3.1-2 3.1-1.4 3.3-.7 3.3 0 3.3 .8 3.3 1.4 3.2 1.3 2.2 4.3 5.8 4.2 5.5 4.3 5 4.3 4.6 4.2 4.2 4.3 3.7 4.2 3.3 4.3 2.9 2.9 1.7 2.8 1.5 2.8 1.3 2.9 1.1 2.8 .9 2.9 .7 2.8 .5 2.8 .4 2.9 .1 2.8 0 2.9-.2 2.8-.4 2.9-.6 2.8-.8 2.8-1 2.9-1.2 2.8-1.4 2.9-1.5 2.8-1.8 4.3-3 4.2-3.4 4.3-3.8 4.3-4.3 4.2-4.7 4.3-5.1 4.3-5.6 3.5-5 1.8-3.6 .9-3.3 .1-3.3-.5-3.3-1.3-3.3-1.9-3.2-2.6-3.1-3.2-2.9-3.3-2.4z" fill="#0498ec"/><path d="M198.6 127.9l-5.5-3.1-5.6-2.4-6.1-2.2-5.8-1.6-6.1-1.2-6.3-1-6.5-.6-6.6-.3-6.6 .1-6.6 .4-6.4 .8-6.2 1-6 1.4-6.3 2-5.8 2.2-5.7 2.9-5 3.3-3.3 2.8-2.6 3-2 3.1-1.4 3.2-.7 3.3 0 3.3 .8 3.2 1.3 3.2 1.4 2.3 4.3 5.7 4.3 5.4 4.2 4.9 4.3 4.5 4.2 4.1 4.3 3.6 4.2 3.3 4.3 2.8 2.8 1.6 2.8 1.4 2.9 1.3 2.8 1 2.9 .9 2.8 .7 2.8 .5 2.9 .2 2.8 .2 2.8-.1 2.9-.3 2.8-.5 2.8-.6 2.9-.8 2.8-1.1 2.9-1.2 2.8-1.4 2.8-1.6 4.3-2.8 4.2-3.1 4.3-3.7 4.2-4 4.3-4.5 4.2-4.8 4.3-5.4 4.3-5.7 1.9-3.2 1.1-3.2 .5-3.3-.2-3.2-.8-3.3-1.6-3.2-2.2-3.1-2.9-2.9-3.5-2.9-1.4-.9z" fill="#0595f0"/><path d="M197.9 129.4l-5.4-3.1-5.5-2.4-6-2.1-6.5-1.7-6-1.3-6.3-.9-6.5-.5-6.5-.3-6.5 .1-6.4 .5-6.4 .8-6.1 1.1-5.8 1.4-6.2 1.9-5.6 2.3-5.1 2.6-4.9 3.2-3.2 2.8-2.7 3-2 3-1.3 3.2-.7 3.2 .1 3.2 .7 3.3 1.3 3.1 1.5 2.4 4.3 5.6 4.2 5.3 4.2 4.8 4.3 4.4 4.2 4 4.3 3.6 4.2 3.1 4.3 2.7 2.8 1.6 2.8 1.4 2.8 1.2 2.9 1 2.8 .8 2.8 .6 2.8 .4 2.9 .3 2.8 .1 2.8-.2 2.9-.3 2.8-.5 2.8-.7 2.8-.9 2.9-1 2.8-1.3 2.8-1.5 2.9-1.6 4.2-2.8 4.2-3.2 4.3-3.7 4.2-4.1 4.3-4.5 4.2-4.9 4.3-5.4 3.7-5.1 1.7-3.6 .9-3.2 .1-3.2-.5-3.2-1.2-3.2-1.9-3.1-2.5-3-3.1-2.9-3.3-2.3z" fill="#0593f3"/><path d="M197.3 130.8l-5.3-3-6.1-2.6-6-2.1-6.4-1.6-6.1-1.2-6.2-.9-6.4-.5-6.4-.2-6.4 .2-6.4 .5-6.2 .8-6 1.1-6.4 1.6-6 2-6 2.6-5.3 3-4.5 3.3-2.9 2.9-2.3 2.9-1.6 3.1-1 3.2-.3 3.1 .3 3.2 1.1 3.2 1.9 3.5 4.7 6.1 4.3 5.2 4.2 4.8 4.3 4.4 4.3 3.9 4.3 3.4 4.3 3.1 2.8 1.8 2.9 1.6 2.8 1.4 2.9 1.2 2.8 1 2.9 .9 2.8 .6 2.9 .4 2.9 .3 2.8 .1 2.9-.2 2.8-.3 2.9-.5 2.8-.7 2.9-.9 2.8-1.1 2.9-1.3 2.9-1.5 2.8-1.6 4.3-2.9 4.3-3.3 4.3-3.7 4.2-4.2 4.3-4.6 4.3-5 4.3-5.5 2.8-4.1 1.6-3.5 .6-3.2 0-3.2-.7-3.2-1.3-3.1-2-3-2.7-2.9-3.2-2.8-2.3-1.7z" fill="#0690f5"/><path d="M196.6 132.3l-5.2-3-6-2.6-5.9-2-6.4-1.7-5.9-1.1-6.2-.8-6.2-.6-6.4-.1-6.3 .1-6.3 .5-6.1 .8-5.9 1.1-6.4 1.6-5.9 2-5.9 2.5-5.2 3-4.4 3.2-2.9 2.8-2.3 3-1.6 3-1 3.1-.3 3.1 .4 3.2 1 3.1 1.9 3.4 4.8 6.2 4.2 5.1 4.3 4.7 4.3 4.3 4.2 3.8 4.3 3.4 4.3 2.9 2.8 1.7 2.9 1.6 2.8 1.3 2.8 1.2 2.9 1 2.8 .7 2.9 .6 2.8 .4 2.9 .2 2.8 0 2.9-.1 2.8-.4 2.9-.6 2.8-.7 2.9-1 2.8-1.1 2.8-1.3 2.9-1.5 2.8-1.7 4.3-3 4.3-3.3 4.2-3.8 4.3-4.2 4.3-4.6 4.2-5.1 4.3-5.5 2.1-3.5 1.2-3.1 .5-3.1-.2-3.1-.9-3.2-1.5-3-2.1-3-2.8-2.9-4.2-3.3-.5-.3z" fill="#078ef6"/><path d="M196 133.7l-5.2-2.9-5.9-2.6-5.9-1.9-6.2-1.7-6.6-1.2-6.1-.8-6.2-.5-6.3-.1-6.2 .2-6.2 .5-6 .8-6.5 1.3-6.2 1.7-5.7 2-5.7 2.6-5 3-4.2 3.2-2.6 2.8-2.1 2.9-1.5 3.1-.8 3-.1 3.1 .5 3.1 1.2 3.1 1.8 3 4.5 5.8 4.3 5 4.3 4.6 4.2 4.1 4.3 3.8 4.2 3.3 4.3 2.8 2.8 1.7 2.8 1.5 2.9 1.3 2.8 1.1 2.8 .9 2.9 .7 2.8 .5 2.9 .4 2.8 .1 2.8 0 2.9-.2 2.8-.4 2.8-.6 2.9-.8 2.8-1 2.8-1.2 2.9-1.3 2.8-1.6 2.9-1.7 4.2-3 4.3-3.4 4.2-3.8 4.3-4.3 4.2-4.6 4.3-5.1 3.8-5 1.7-3.4 1-3.5 .1-3.1-.5-3-1.2-3.1-1.8-3-2.4-2.9-3.8-3.4-2.3-1.5z" fill="#078bf8"/><path d="M195.3 135.2l-5.1-2.9-5.8-2.5-5.8-2-6.2-1.6-6.5-1.2-6-.8-6.1-.4-6.1-.2-6.2 .2-6.1 .5-6.6 .9-6.4 1.4-6.1 1.6-6.1 2.3-5.5 2.7-4.8 2.9-3.9 3.3-2.5 2.8-1.9 2.9-1.3 3-.6 3 0 3.1 .7 3 1.5 3.4 1.6 2.4 4.2 5.3 4.3 4.9 4.2 4.5 4.3 4 4.2 3.6 4.2 3.2 4.3 2.8 2.8 1.6 2.8 1.5 2.8 1.2 2.9 1 2.8 .9 2.8 .7 2.9 .5 2.8 .3 2.8 .1 2.8-.1 2.9-.3 2.8-.5 2.8-.6 2.8-.8 2.9-1.1 2.8-1.2 2.8-1.4 2.8-1.6 4.3-2.7 4.2-3.1 4.2-3.6 4.3-4 4.2-4.5 4.3-4.8 4.2-5.3 2.3-3.7 1.1-3 .5-3-.2-3.1-.9-3-1.4-3-2.1-2.9-3.4-3.4-3.9-2.9z" fill="#0888f9"/><path d="M194.6 136.7l-5-2.9-5.8-2.5-6.3-2.1-6.1-1.5-6.5-1.2-6.6-.8-6.1-.4-6.1 0-6 .2-6.7 .7-6.5 1.1-6.2 1.4-5.8 1.7-5.9 2.4-5.7 3-4.3 3.1-3.5 3.3-2.2 2.8-1.6 2.9-.9 3-.3 3 .3 3 1 3 2.1 3.6 3.4 4.3 4.3 5 4.2 4.5 4.3 4.1 4.3 3.7 4.3 3.3 4.2 2.8 2.9 1.6 2.8 1.5 2.9 1.2 2.8 1.1 2.9 .9 2.8 .7 2.9 .4 2.8 .3 2.9 .2 2.8-.1 2.9-.3 2.8-.5 2.9-.6 2.9-.9 2.8-1 2.9-1.2 2.8-1.5 2.9-1.6 2.8-1.8 4.3-3.1 4.3-3.5 4.2-3.9 4.3-4.4 4.3-4.8 4.3-5.2 2.1-3.4 1.3-3.3 .5-3-.2-3-.8-3-1.4-3-2.1-2.8-3.4-3.4-3.8-2.8z" fill="#0986fb"/><path d="M193.9 138.1l-5.5-3-5.7-2.4-6.3-2.1-6.1-1.5-6.3-1.1-6.6-.7-6.7-.4-6.8 .1-6.6 .4-6.5 .8-6.3 1.2-5.9 1.6-6.1 2.1-5.5 2.5-4.8 2.9-4 3.1-3.1 3.3-1.8 2.9-1.2 2.8-.6 3 0 3 .6 2.9 1.7 3.6 1.6 2.3 4.3 5.2 4.2 4.7 4.3 4.3 4.2 3.9 4.3 3.4 4.2 3 2.9 1.8 2.8 1.6 2.8 1.3 2.9 1.2 2.8 1.1 2.9 .8 2.8 .6 2.8 .4 2.9 .3 2.8 .1 2.8-.2 2.9-.3 2.8-.5 2.9-.7 2.8-.9 2.8-1.1 2.9-1.2 2.8-1.5 2.8-1.6 4.3-2.9 4.3-3.2 4.2-3.7 4.3-4.1 4.2-4.6 4.3-4.9 3.1-4.2 1.6-3.6 .6-3 0-3-.6-2.9-1.3-2.9-1.9-2.8-3.1-3.4-4-3.2-.5-.3z" fill="#0983fd"/><path d="M193.2 139.6l-5.4-3-5.6-2.4-6.2-2-6-1.5-6.3-1-6.5-.8-6.6-.3-6.6 0-6.5 .5-6.5 .8-6.1 1.2-5.9 1.5-6 2.1-5.9 2.7-5 3.1-3.7 3.1-2.9 3.4-1.7 2.8-1 2.9-.5 2.9 .2 2.9 1.1 3.6 2 3.5 3.6 4.4 4.2 4.8 4.3 4.3 4.2 3.9 4.2 3.5 4.3 3 4.2 2.7 2.8 1.5 2.8 1.3 2.9 1.1 2.8 1 2.8 .8 2.8 .5 2.9 .4 2.8 .2 2.8 0 2.8-.1 2.9-.4 2.8-.5 2.8-.8 2.8-.9 2.9-1.1 2.8-1.3 2.8-1.5 2.8-1.7 4.3-2.9 4.2-3.3 4.2-3.7 4.3-4.1 4.2-4.6 4.2-5 2.2-3.2 1.4-3.6 .5-2.9-.2-3-.8-2.9-1.4-2.8-2.5-3.4-3.5-3.3-2.9-2.1z" fill="#0a81fe"/><path d="M192.4 141.1l-5.3-3-5.5-2.3-6.1-2-5.9-1.4-6.1-1.1-6.4-.7-6.5-.3-6.5 0-6.5 .4-6.3 .8-6 1.2-6.4 1.7-5.8 2.1-5.8 2.7-4.4 2.8-3.7 3.1-2.9 3.2-1.6 2.8-1 2.8-.5 2.9 .2 2.9 1.1 3.5 1.9 3.5 2.4 2.9 4.2 4.8 4.3 4.4 4.3 3.9 4.3 3.6 4.2 3.1 2.9 1.8 2.8 1.6 2.9 1.5 2.8 1.2 2.9 1.1 2.8 .9 2.9 .7 2.8 .4 2.9 .3 2.8 .2 2.8-.1 2.9-.3 2.8-.5 2.9-.6 2.8-.9 2.9-1 2.8-1.2 2.9-1.5 2.8-1.6 2.9-1.8 4.2-3 4.3-3.5 4.3-4 4.3-4.3 4.2-4.8 3.1-4 1.6-3.2 .8-3.5 0-2.9-.6-2.9-1.2-2.8-2.4-3.4-3.2-3.2-3.6-2.7z" fill="#0c7eff"/><path d="M191.7 142.6l-3.7-2.2-4.2-1.9-4.5-1.8-4.9-1.5-6.4-1.5-6.8-1-7.1-.6-7.1-.2-7.1 .3-6.9 .7-6.7 1.3-5.1 1.2-4.7 1.5-4.5 1.8-4 2-3.6 2.2-2.3 1.7-2.1 1.9-1.8 1.9-1.4 2-1.2 2-.8 2.1-.5 2.1-.2 2.1 .2 2.1 .5 2.1 .9 2.1 1.2 2.1 1.5 2 4.2 4.8 4.3 4.4 4.2 4 4.2 3.6 4.3 3.1 4.2 2.7 2.9 1.6 2.8 1.4 2.8 1.2 2.9 1 2.8 .8 2.8 .6 2.8 .4 2.9 .3 2.8 .1 2.8-.2 2.9-.3 2.8-.5 2.8-.7 2.9-.9 2.8-1.1 2.8-1.2 2.8-1.5 2.9-1.6 4.2-2.8 4.3-3.3 4.2-3.6 4.3-4.1 4.2-4.5 3.5-4.1 1.4-2 1-2 .7-2.1 .4-2.1 0-2.2-.3-2.1-.6-2.1-.9-2-1.3-2.1-1.6-1.9-1.9-2-2.2-1.8-1.6-1.2z" fill="#117aff"/><path d="M191 144.1l-3.7-2.2-4.1-1.9-4.4-1.7-4.8-1.4-6.4-1.5-6.7-1.1-6.9-.6-7-.1-6.9 .3-6.9 .7-6.5 1.2-6.2 1.6-4.6 1.5-4.3 1.8-3.8 2-3.4 2.2-2.2 1.8-2 1.8-1.6 1.9-1.4 2-1 2-.7 2.1-.3 2-.1 2.1 .3 2.1 .6 2.1 1 2 1.2 2 1.2 1.5 4.3 4.7 4.2 4.4 4.3 3.9 4.3 3.5 4.3 3 2.8 1.8 2.9 1.6 2.8 1.4 2.9 1.2 2.8 1 2.9 .9 2.9 .6 2.8 .4 2.9 .3 2.8 .1 2.9-.2 2.8-.3 2.9-.5 2.8-.7 2.9-.9 2.8-1.1 2.9-1.3 2.8-1.5 2.9-1.6 4.3-2.9 4.2-3.3 4.3-3.7 4.3-4.2 4.3-4.5 2.2-2.7 1.4-1.9 1-2 .7-2.1 .3-2.1 .1-2-.3-2.1-.6-2.1-1-2-1.2-2-1.6-2-1.9-1.8-2.1-1.8-1.6-1.2z" fill="#1577ff"/><path d="M190.2 145.6l-3.6-2.1-4-1.9-4.4-1.7-5.9-1.7-6.3-1.4-6.6-1-6.8-.5-6.9 0-6.8 .4-6.7 .8-6.4 1.2-6 1.7-4.4 1.5-4.1 1.9-3.6 2-3.3 2.2-2.1 1.7-1.8 1.8-1.5 1.9-1.2 2-.9 2-.6 2-.2 2 0 2.1 .4 2 .7 2 1.1 2 1.3 2 3.7 4.1 4.2 4.4 4.3 3.9 4.2 3.5 4.3 3.1 2.8 1.8 2.8 1.6 2.9 1.4 2.8 1.3 2.8 1 2.9 .9 2.8 .7 2.8 .5 2.9 .2 2.8 .2 2.8-.1 2.9-.3 2.8-.5 2.8-.6 2.9-.8 2.8-1.1 2.8-1.2 2.9-1.4 2.8-1.6 4.2-2.7 4.3-3.2 4.2-3.6 4.3-4 4.2-4.5 2.4-2.7 1.3-2 1-1.9 .7-2.1 .4-2 0-2-.3-2.1-.6-2-.9-2-1.2-2-1.6-1.9-1.8-1.8-2.9-2.3-.8-.6z" fill="#1974ff"/><path d="M189.4 147.1l-3.5-2.1-3.9-1.8-4.3-1.7-5.8-1.7-6.2-1.3-6.5-1-6.7-.5-6.8 0-6.6 .3-6.6 .8-6.2 1.3-5.9 1.6-4.4 1.5-4 1.8-3.6 2-3.1 2.1-2.1 1.8-1.8 1.8-1.5 1.8-1.1 1.9-.9 2-.6 2-.3 2 .1 2 .4 2 .7 2 1 1.9 1.3 1.9 2.4 2.8 4.3 4.4 4.3 4 4.3 3.5 4.3 3.1 2.8 1.9 2.9 1.6 2.8 1.5 2.9 1.2 2.8 1.1 2.9 .9 2.8 .7 2.9 .4 2.8 .3 2.9 .2 2.9-.1 2.8-.3 2.9-.5 2.8-.6 2.9-.9 2.8-1 2.9-1.3 2.8-1.4 2.9-1.6 2.8-1.8 4.3-3.1 4.3-3.5 4.3-3.9 4.3-4.4 2.5-2.9 1.3-1.9 1-1.9 .6-2 .4-2 0-2-.2-2-.6-2-.9-2-1.2-1.9-1.6-1.9-1.8-1.8-2.8-2.3-.8-.5z" fill="#1e70ff"/><path d="M188.6 148.6l-3.4-2-3.9-1.9-4.2-1.6-5.7-1.7-6.1-1.3-6.3-.9-6.6-.5-6.6 0-6.6 .3-6.4 .8-6.1 1.2-5.8 1.6-4.2 1.5-4 1.8-3.5 1.9-3.1 2.1-2.6 2.3-1.7 1.8-1.3 1.8-1.1 1.9-.8 1.9-.4 2-.2 1.9 .2 2 .5 2 .8 1.9 1.1 1.9 1.3 1.8 3.5 3.8 4.3 4.1 4.2 3.7 4.3 3.3 4.2 2.9 2.9 1.6 2.8 1.5 2.8 1.3 2.8 1.1 2.9 .9 2.8 .7 2.8 .5 2.9 .4 2.8 .1 2.8 0 2.9-.2 2.8-.4 2.8-.6 2.8-.8 2.9-1 2.8-1.2 2.8-1.3 2.9-1.6 4.2-2.6 4.3-3.1 4.2-3.6 4.2-3.9 4.3-4.4 1.7-2.1 1.2-1.9 .8-1.9 .6-1.9 .2-2 0-2-.4-1.9-.7-2-1-1.9-1.2-1.8-1.6-1.8-2.6-2.4-2.2-1.6z" fill="#226dff"/><path d="M187.8 150.1l-3.4-2-3.7-1.8-5.2-1.9-5.7-1.6-6-1.2-6.3-.8-6.5-.4-6.4 0-6.4 .5-6.3 .8-5.9 1.3-5.6 1.6-4.1 1.5-3.7 1.8-3.4 1.9-2.9 2.1-2.5 2.3-1.5 1.8-1.2 1.8-1 1.9-.6 1.9-.4 1.9 0 1.9 .2 1.9 .6 1.9 .9 1.9 1.1 1.9 1.8 2.1 4.3 4.3 4.3 3.9 4.3 3.5 4.2 3 2.9 1.8 2.8 1.6 2.9 1.4 2.8 1.2 2.9 1 2.8 .9 2.9 .6 2.8 .4 2.9 .3 2.8 .1 2.9-.2 2.8-.3 2.9-.5 2.8-.7 2.9-.9 2.8-1.1 2.9-1.3 2.8-1.4 2.8-1.7 4.3-2.9 4.3-3.2 4.3-3.8 4.2-4.1 2.4-2.6 1.4-1.8 1-1.8 .8-1.9 .4-1.9 .1-1.9-.1-2-.5-1.9-.8-1.9-1-1.8-1.4-1.8-1.6-1.8-2.6-2.2-1.5-1.1z" fill="#276aff"/><path d="M187 151.6l-3.3-1.9-3.7-1.8-5.1-1.9-5.6-1.5-5.9-1.2-6.1-.8-6.3-.4-6.3 0-6.3 .5-6.1 .8-5.8 1.2-5.5 1.6-5 1.9-3.5 1.8-3.2 2-2.8 2.1-2.3 2.2-1.4 1.7-1.1 1.8-.8 1.9-.5 1.9-.3 1.8 .1 1.9 .3 1.9 .7 1.9 .9 1.8 1.3 1.8 1.5 1.7 4.2 4.2 4.2 3.7 4.3 3.4 4.2 2.9 2.8 1.7 2.8 1.5 2.9 1.3 2.8 1.1 2.8 1 2.8 .8 2.8 .5 2.9 .4 2.8 .2 2.8 0 2.8-.1 2.8-.4 2.9-.5 2.8-.8 2.8-.9 2.8-1.1 2.8-1.3 2.9-1.5 2.8-1.7 4.2-2.8 4.2-3.3 4.3-3.7 4.3-4.3 1.5-1.7 1.2-1.8 1-1.8 .6-1.9 .3-1.9 .1-1.9-.3-1.9-.5-1.8-.9-1.9-1.1-1.8-1.5-1.7-2.3-2.3-2.7-2.1z" fill="#2b66ff"/><path d="M186.1 153.1l-3.2-1.9-4.6-2.1-5-1.7-5.5-1.5-5.9-1.1-6-.7-6.2-.3-6.2 .1-6.1 .5-5.9 .9-5.7 1.3-5.2 1.6-4.8 2-3.4 1.7-3 2-2.6 2.1-2.1 2.2-1.3 1.7-1 1.8-.7 1.8-.4 1.8-.1 1.9 .1 1.8 .5 1.9 .7 1.8 1 1.7 1.3 1.8 1.3 1.3 4.2 4.1 4.3 3.7 4.2 3.2 4.3 2.8 2.8 1.6 2.9 1.4 2.8 1.3 2.8 1 2.9 .9 2.8 .7 2.8 .5 2.9 .2 2.8 .2 2.8-.1 2.9-.3 2.8-.5 2.8-.6 2.9-.8 2.8-1.1 2.8-1.2 2.9-1.4 2.8-1.6 4.3-2.8 4.2-3.1 4.3-3.6 4.6-4.4 1.4-1.7 1.2-1.8 .9-1.8 .6-1.8 .4-1.8 0-1.9-.2-1.8-.6-1.8-.8-1.8-1.1-1.8-1.4-1.7-2.3-2.2-2.7-2.1z" fill="#2f63fe"/><path d="M185.3 154.7l-3.2-1.9-4.4-2-5-1.8-5.4-1.4-5.7-1.1-7.1-.7-6-.2-6.1 .1-5.9 .6-5.8 1-5.4 1.3-5 1.6-4.6 2-3.2 1.8-2.8 1.9-2.5 2.1-1.9 2.2-1.2 1.7-.9 1.7-.6 1.8-.3 1.8 0 1.8 .2 1.8 .6 1.8 .8 1.7 1.1 1.8 1.8 2.2 3.3 3.1 4.3 3.7 4.3 3.3 4.3 2.8 2.8 1.6 2.9 1.5 2.8 1.2 2.9 1.1 2.8 .9 2.9 .7 2.8 .4 2.9 .3 2.8 .2 2.8-.1 2.9-.3 2.8-.5 2.9-.6 2.8-.9 2.9-1 2.8-1.2 2.9-1.5 2.8-1.6 2.9-1.8 4.3-3 4.2-3.5 4.9-4.6 1.8-2.2 1.1-1.7 .8-1.8 .5-1.7 .2-1.8 0-1.8-.4-1.8-.6-1.8-.9-1.8-1.2-1.7-2-2.2-2.4-2.1-1.4-1z" fill="#345ffd"/><path d="M184.4 156.2l-3.1-1.8-4.3-2-4.9-1.7-5.2-1.4-5.6-1-6.9-.8-7.1-.2-7.1 .4-6.8 .9-5.5 1.1-5 1.5-4.7 1.8-4.1 2.1-2.8 1.8-2.5 2-2 2.1-1.3 1.7-.9 1.7-.7 1.7-.4 1.7-.1 1.8 .1 1.8 .5 1.7 .7 1.7 .9 1.7 1.7 2.2 1.3 1.3 4.2 3.8 4.3 3.4 4.3 3 2.9 1.8 2.8 1.5 2.9 1.4 2.9 1.2 2.8 .9 2.9 .8 2.8 .6 2.9 .4 2.9 .2 2.8 0 2.9-.1 2.9-.4 2.8-.6 2.9-.7 2.8-1 2.9-1.1 2.9-1.4 2.8-1.5 2.9-1.7 4.3-3 4.3-3.4 4.6-4.1 1.9-2.1 1.1-1.7 .9-1.7 .6-1.7 .3-1.8 0-1.7-.2-1.8-.6-1.7-.8-1.7-1-1.7-1.8-2.2-2.3-2.1-2-1.4z" fill="#385cfc"/><path d="M183.5 157.7l-3.8-2.1-4.4-1.9-4.8-1.6-5.2-1.3-6.5-1.1-6.9-.5-6.9-.1-6.8 .6-6.6 1-5.2 1.2-4.7 1.6-4.4 1.9-3.8 2.1-2.6 1.9-2.1 2-1.8 2.1-1 1.7-.8 1.6-.5 1.7-.2 1.7 .1 1.7 .3 1.8 .6 1.6 .9 1.7 1.5 2.2 2 2 4.2 3.6 4.2 3.3 4.2 2.8 2.9 1.7 2.8 1.4 2.8 1.3 2.8 1.1 2.8 .9 2.8 .7 2.9 .6 2.8 .3 2.8 .1 2.8 0 2.8-.2 2.8-.4 2.9-.6 2.8-.8 2.8-1 2.8-1.1 2.8-1.4 2.9-1.5 4.2-2.7 4.2-3 4.2-3.5 2.5-2.3 1.8-2.1 1-1.7 .8-1.6 .5-1.7 .2-1.8-.1-1.7-.3-1.7-.6-1.7-.9-1.6-1.5-2.2-2-2.1-2.4-1.9-.7-.5z" fill="#3d59fb"/><path d="M182.6 159.3l-3.8-2.1-4.2-1.8-4.7-1.6-6-1.5-6.5-.9-6.7-.5-6.7 .1-6.6 .6-6.4 1.1-4.9 1.2-4.6 1.6-4.1 1.9-3.6 2.1-2.4 1.9-2 2-1.6 2-.9 1.6-.7 1.7-.4 1.6-.1 1.7 .1 1.7 .4 1.6 .7 1.7 1.3 2.1 1.7 2.1 1.3 1.2 4.2 3.5 4.3 3.2 4.2 2.7 2.8 1.5 2.8 1.4 2.9 1.2 2.8 1 2.8 .8 2.8 .6 2.9 .4 2.8 .3 2.8 .1 2.8-.2 2.9-.3 2.8-.5 2.8-.7 2.8-.9 2.8-1 2.9-1.3 2.8-1.4 2.8-1.7 4.2-2.8 4.3-3.2 3.7-3.2 1.8-2 1.4-2.1 .7-1.7 .5-1.6 .2-1.7-.1-1.6-.3-1.7-.6-1.7-.8-1.6-1.5-2.1-2-2-2.3-1.9-.7-.4z" fill="#4155fa"/><path d="M181.6 160.9l-3.6-2.1-4.1-1.8-4.6-1.5-5.9-1.4-6.3-.9-6.4-.5-6.6 .1-6.4 .6-6.2 1-5.7 1.5-4.4 1.7-3.9 1.8-3.3 2.1-2.3 1.9-1.9 1.9-1.4 2.1-1 2.1-.5 1.6-.2 1.6 .1 1.6 .3 1.6 .5 1.6 1.2 2.1 1.6 2 2 2 4.2 3.4 4.3 3 2.8 1.7 2.8 1.6 2.8 1.4 2.9 1.2 2.8 1 2.8 .8 2.8 .6 2.9 .4 2.8 .3 2.8 .1 2.8-.2 2.9-.3 2.8-.5 2.8-.7 2.8-.9 2.9-1 2.8-1.3 2.8-1.4 2.8-1.7 4.3-2.8 4.2-3.2 2.6-2.3 1.8-1.9 1.3-2.1 .7-1.6 .5-1.6 .2-1.6-.1-1.6-.3-1.6-.5-1.6-1.2-2.1-1.6-2-2-2-2.3-1.8z" fill="#4652f9"/><path d="M180.6 162.4l-3.5-1.9-4-1.8-5.3-1.7-5.8-1.3-6.1-.8-6.4-.4-6.3 .2-6.2 .6-5.9 1.1-5.5 1.6-4.2 1.6-3.6 1.8-3.2 2.1-2.1 1.8-1.7 2-1.3 1.9-.9 2.1-.3 1.6-.2 1.5 .2 1.6 .4 1.6 .9 2 1.3 2 1.7 1.9 1.4 1.3 4.3 3.3 4.2 2.8 2.8 1.7 2.8 1.4 2.9 1.3 2.8 1.1 2.8 .9 2.8 .7 2.9 .6 2.8 .3 2.8 .1 2.8 0 2.8-.2 2.9-.4 2.8-.6 2.8-.8 2.8-1 2.8-1.1 2.9-1.4 2.8-1.5 4.2-2.7 4.3-3.1 2.9-2.4 1.7-1.9 1.3-2 .9-2.1 .3-1.5 .2-1.6-.2-1.6-.4-1.6-.9-2-1.3-2-1.7-1.9-2.1-1.9-1.2-.8z" fill="#4a4ef8"/><path d="M179.6 164l-3.4-1.9-3.9-1.7-5.1-1.6-5.6-1.3-6-.8-6.1-.3-6.1 .1-6 .6-5.8 1.1-5.3 1.5-4.7 1.9-3.5 1.9-3 2-1.9 1.8-1.6 1.9-1.1 1.9-.7 2-.4 2 .1 1.6 .4 2 .9 2 1.3 1.9 1.7 1.9 1.8 1.5 4.2 3.1 4.2 2.7 2.8 1.6 2.8 1.3 2.8 1.2 2.8 1 2.9 .8 2.8 .6 2.8 .4 2.8 .3 2.8 .1 2.8-.2 2.8-.3 2.8-.5 2.9-.7 2.8-.8 2.8-1.1 2.8-1.3 2.8-1.4 2.8-1.6 4.2-2.8 3.8-2.8 1.8-1.8 1.5-1.9 1-2 .7-2 .2-1.5-.1-1.5-.4-2.1-.9-1.9-1.3-2-1.7-1.8-2.6-2.2-.6-.5z" fill="#4d4cf6"/><path d="M178.5 165.6l-3.2-1.8-4.6-1.9-5-1.6-5.5-1.1-6.8-.8-6.9-.2-6.8 .5-5.7 .9-5.3 1.3-4.8 1.7-3.5 1.7-3 1.9-2.6 2.1-1.6 1.8-1.2 1.9-.8 1.9-.4 2 0 1.9 .4 2 .9 1.9 1.2 1.9 1.6 1.8 2.2 1.8 4.2 3 4.2 2.5 2.8 1.4 2.8 1.3 2.8 1 2.8 .9 2.8 .7 2.8 .6 2.8 .3 2.8 .1 2.8 0 2.8-.2 2.8-.4 2.8-.6 2.8-.8 2.8-.9 2.8-1.2 2.8-1.3 2.8-1.5 4.2-2.6 3.6-2.6 1.9-1.8 1.5-1.8 1.1-1.8 .7-2 .3-1.9-.1-2-.5-1.9-1-1.9-1.3-1.9-1.7-1.8-2.7-2.1z" fill="#4e4af5"/><path d="M177.5 167.3l-3.2-1.8-4.4-1.9-4.8-1.5-6.2-1.2-6.6-.7-6.7-.1-6.5 .6-6.3 1.1-4.9 1.4-4.5 1.8-3.2 1.7-2.7 1.9-2.3 2.1-1.3 1.8-1 1.8-.6 1.9-.2 1.9 .2 1.8 .7 1.9 1 1.8 1.3 1.8 2.3 2.1 2.6 1.9 2.9 1.8 2.8 1.7 2.8 1.4 2.9 1.3 2.8 1 2.8 .9 2.9 .7 2.8 .5 2.9 .2 2.8 .2 2.8-.1 2.9-.3 2.8-.5 2.9-.6 2.8-.9 2.8-1 2.9-1.2 2.8-1.4 2.8-1.6 5.1-3.4 2.4-2 1.4-1.8 1.1-1.8 .7-1.9 .3-1.8-.2-1.9-.5-1.9-.9-1.9-1.3-1.7-2.1-2.2-2.1-1.6z" fill="#4f48f3"/><path d="M176.3 168.9l-3.7-2-4.2-1.8-5.6-1.5-6.1-1.1-6.4-.5-6.4 .2-6.2 .6-5.9 1.3-4.6 1.4-4.1 1.8-2.9 1.8-2.4 1.9-1.9 2.1-1.2 1.7-.7 1.8-.4 1.8 0 1.8 .4 1.8 .8 1.8 1.1 1.7 2 2.1 2.7 2.1 4.2 2.6 2.8 1.5 2.8 1.3 2.8 1.1 2.8 .9 2.8 .8 2.8 .5 2.8 .4 2.8 .2 2.8 0 2.8-.1 2.8-.4 2.8-.5 2.8-.8 2.8-.9 2.8-1.1 2.8-1.3 2.8-1.4 5.1-3.2 2.4-1.9 1.8-2.1 1-1.8 .6-1.7 .3-1.9-.1-1.8-.5-1.8-.8-1.7-1.3-1.8-2-2-2-1.5z" fill="#5046f1"/><path d="M175.1 170.5l-3.5-1.9-4.1-1.7-5.3-1.5-5.9-1-6-.4-6.2 .1-6 .6-5.6 1.2-5.1 1.7-3.8 1.8-3.2 2-2.1 1.9-1.6 2-.9 1.7-.6 1.7-.1 1.8 .2 1.7 .5 1.7 .9 1.7 1.7 2 2.1 2 2 1.3 2.8 1.6 2.8 1.5 2.8 1.3 2.9 1.1 2.8 .9 2.8 .7 2.8 .6 2.9 .3 2.8 .1 2.8 0 2.8-.2 2.9-.4 2.8-.6 2.8-.8 2.9-1 2.8-1.1 2.8-1.4 2.8-1.5 3.5-2.3 2.1-1.9 1.6-2 .9-1.7 .6-1.7 .1-1.7-.2-1.8-.5-1.7-.9-1.7-1.7-2-2.1-1.9-1-.7z" fill="#5144ef"/><path d="M173.9 172.2l-3.4-1.8-4.6-1.8-5.2-1.4-6.4-1-6.6-.3-6.7 .5-6.3 1-5 1.5-4.4 1.9-3.1 1.9-2.1 1.8-1.7 1.9-1.1 2-.5 1.6-.2 1.7 .2 1.6 .5 1.7 1.2 2 1.7 1.9 2.1 1.8 2.2 1.4 2.8 1.5 2.9 1.4 2.8 1.1 2.8 1 2.9 .8 2.8 .5 2.8 .4 2.9 .2 2.8 0 2.9-.1 2.8-.4 2.8-.6 2.9-.7 2.8-.9 2.8-1.2 2.9-1.3 4.1-2.3 2.7-2.1 1.8-1.8 1.2-2 .6-1.6 .3-1.7-.1-1.7-.5-1.6-.8-1.6-1.4-2-2-1.8-1.4-1z" fill="#5342ed"/><path d="M172.6 173.9l-3.8-2-4.4-1.7-5.8-1.3-6.1-.8-6.4-.1-6.2 .6-5.9 1.1-4.6 1.6-3.9 1.9-2.8 1.9-1.9 1.7-1.3 1.8-.9 2-.3 1.5 0 1.6 .3 1.6 .9 1.9 1.4 1.8 2.3 2.1 2.9 1.9 3.4 1.7 2.9 1.2 2.8 1 2.8 .8 2.8 .6 2.9 .4 2.8 .3 2.8 .1 2.8-.2 2.9-.3 2.8-.5 2.8-.7 2.8-.9 2.8-1 2.9-1.3 3.6-2 2.6-1.9 1.7-1.8 1.1-1.9 .7-1.9 .1-1.6-.1-1.6-.7-1.9-1.2-1.9-1.7-1.8-2.1-1.7z" fill="#5441ec"/><path d="M171.2 175.6l-3.5-1.9-4.9-1.7-5.4-1.3-6.6-.6-6.8 .1-6.4 .9-5.3 1.4-4 1.6-3.3 2-2.3 1.9-1.3 1.7-.9 1.8-.5 1.9 .1 1.8 .5 1.9 1.1 1.8 1.8 2 2.5 1.9 3.2 1.7 2.8 1.2 2.7 1 2.8 .9 2.8 .6 2.8 .5 2.7 .3 2.8 .1 2.8-.1 2.7-.3 2.8-.4 2.8-.6 2.8-.8 2.7-1 4.7-2.1 2.7-1.8 2.2-2 1.2-1.7 .9-1.8 .3-1.8-.2-1.9-.6-1.8-1.1-1.8-2-2-1.6-1.3z" fill="#543fe9"/><path d="M169.8 177.4l-3.4-1.8-4.5-1.6-5.8-1.3-6.2-.5-6.3 .2-6 .9-4.8 1.3-4.1 1.9-3 1.9-1.8 1.9-1.2 1.6-.6 1.7-.3 1.7 .3 1.8 .7 1.7 1.4 1.9 2 1.9 3 1.9 2.8 1.2 2.8 1 2.8 .9 2.7 .6 2.8 .5 2.7 .3 2.8 .1 2.8-.1 2.7-.3 2.8-.4 2.7-.6 2.8-.8 4.7-1.8 3.2-1.8 2.2-1.8 1.6-1.9 .8-1.7 .4-1.7 0-1.8-.5-1.7-1-1.6-1.7-1.9-1.9-1.5z" fill="#543de5"/><path d="M168.2 179.2l-3.6-1.9-4.8-1.6-6.1-1.1-6.5-.2-6.3 .5-5.3 1.2-4.6 1.8-2.9 1.7-2.2 2-1.2 1.8-.7 1.5-.2 1.6 .3 1.6 .8 1.9 1.4 1.8 2.3 2 3.5 1.9 3.4 1.3 2.7 .7 2.8 .6 2.8 .5 2.7 .2 2.8 .1 2.8-.2 2.7-.3 2.8-.5 2.7-.6 4.9-1.7 3.5-1.9 2.3-1.9 1.4-1.8 .8-1.9 .2-1.6-.3-1.6-.8-1.9-1.4-1.8-2.3-1.9z" fill="#543ce1"/><path d="M166.5 181.1l-3.7-1.9-5.1-1.6-6.2-.9-6.5 0-6.2 1-4.9 1.6-3.6 1.9-2.1 1.7-1.5 2-.6 1.7-.1 1.7 .5 1.8 1 1.7 1.9 1.8 2.8 1.9 4.1 1.7 4 1 2.7 .5 2.8 .3 2.8 .1 2.8-.1 2.8-.3 5.8-1.1 4.2-1.6 3.1-1.8 2-1.8 1.2-1.6 .6-1.7 .1-1.8-.5-1.7-1-1.7-1.9-1.9-.9-.7z" fill="#543add"/><path d="M164.6 183l-3.7-1.9-5.1-1.4-6.2-.7-6.3 .3-5.3 1.1-4.1 1.7-2.8 1.9-1.8 1.9-.8 1.8-.1 1.5 .3 1.6 1 1.8 2 1.8 3 1.9 4.8 1.6 6 1 6.3 0 6-.9 4.8-1.7 3-1.8 1.9-1.8 1-1.8 .3-1.5-.2-1.6-.8-1.8-1.7-1.9-1.2-.9z" fill="#5439d9"/><path d="M162.5 185l-3.6-1.8-5.4-1.3-6.3-.3-6.2 .8-4.5 1.5-2.9 1.8-1.7 1.8-.7 1.8-.1 1.6 .7 1.7 1.7 1.9 2.8 1.8 4.4 1.6 6.1 1 6.4-.3 5.4-1.2 3.6-1.7 2.4-1.9 1.1-1.7 .4-1.6-.2-1.6-1-1.7-1.9-1.8-.3-.2z" fill="#5437d6"/><path d="M159.9 187.2l-3.9-1.8-5.6-1-6.3 .3-4.8 1.3-3.1 1.9-1.4 1.7-.5 1.6 .3 1.7 1.3 1.7 2.6 1.8 4.7 1.6 6.2 .5 6.1-.8 4-1.6 2.3-1.9 .9-1.6 .2-1.7-.7-1.6-1.8-1.8-.3-.2z" fill="#5435d2"/><path d="M156.6 189.6l-4.4-1.6-6.2-.2-4.8 1.4-2.1 1.7-.6 1.7 .6 1.7 2.2 1.8 5 1.4 6.2-.2 4.1-1.6 1.8-1.7 .3-1.6-.8-1.6-1.1-1.1z" fill="#5434ce"/><path d="M74.5 133.9l3.4 5.7 2.6 3.8 2.6 3.3 2.6 2.9 2.6 2.5 2.6 2.1 2.6 1.6 1.7 .9 1.7 .7 1.7 .4 1.7 .3 1.8 .2 1.7-.1 1.7-.3 1.7-.4 1.8-.7 1.7-.8 2.6-1.6 2.6-2 2.6-2.4 2.5-2.9 2.6-3.3 3.5-5 3.4-5.8 3.5-6.5 1.7-3.6 3.4 5.7 3.4 5.3 3.4 4.9 3.3 4.4 3.4 4 3.4 3.5 3.4 3.2 3.4 2.7 3.4 2.2 2.2 1.3 2.3 1.1 2.2 .9 2.3 .7 2.3 .5 2.2 .3 2.3 .1 2.2-.1 2.3-.2 2.2-.5 2.3-.6 2.3-.9 2.2-1 2.3-1.2 2.2-1.4 3.4-2.5 3.4-2.9 3.4-3.4 3.4-3.8 3.4-4.2 3.3-4.6 3.4-5.1 3.4-5.5 3.4-5.9 3.4-6.4 3.4-6.8-3.2 6.5-2.8 5.6-2.9 5.5-4.3 7.8-4.2 7.4-4.3 6.9-4.3 6.6-4.3 6.1-4.2 5.6-4.3 5.2-4.3 4.8-4.3 4.4-4.2 3.9-4.3 3.5-4.3 3.1-2.8 1.8-2.9 1.6-2.8 1.5-2.9 1.2-2.8 1-2.9 .9-2.8 .6-2.9 .5-2.9 .3-2.8 .1-2.9-.2-2.8-.3-2.9-.4-2.8-.7-2.9-.9-2.8-1.1-2.9-1.2-2.8-1.5-2.9-1.6-4.2-2.8-4.3-3.3-4.3-3.7-4.3-4.1-4.2-4.5-4.3-5-4.3-5.4-4.3-5.9-4.2-6.2-4.3-6.8-4.3-7.1z" fill="#fdf119"/><path d="M74.5 133.9l3.5 5.7 2.6 3.8 2.6 3.4 2.6 2.9 2.6 2.5 2.6 2.1 1.7 1.1 1.8 .9 1.7 .8 1.7 .6 1.8 .3 1.7 .2 1.7 0 1.8-.2 1.7-.3 1.7-.6 1.8-.8 1.7-.9 2.6-1.8 2.6-2.2 2.6-2.7 2.6-3.1 2.6-3.5 3.5-5.3 3.5-6.1 3.5-6.9 1 .1 3.3 5.6 3.4 5.2 3.4 4.8 3.3 4.3 3.4 3.9 3.4 3.5 3.3 3 3.4 2.7 3.4 2.2 2.2 1.2 2.3 1 2.2 .9 2.3 .7 2.2 .4 2.2 .3 2.3 .1 2.2-.1 2.3-.3 2.2-.5 2.3-.6 2.2-.9 2.3-1 2.2-1.3 3.4-2.2 3.3-2.6 3.4-3.1 3.4-3.5 3.3-3.9 3.4-4.3 3.4-4.8 3.3-5.2 3.4-5.6 3.4-6 3.3-6.5 3.4-6.9-2.9 5.9-2.8 5.7-2.9 5.6-2.8 5.3-4.3 7.7-4.3 7.3-4.2 6.8-4.3 6.3-4.3 6-4.3 5.5-4.2 5.1-4.3 4.6-4.3 4.3-4.3 3.7-4.2 3.4-4.3 2.9-2.9 1.7-2.8 1.6-2.9 1.3-2.8 1.1-2.9 1-2.8 .7-2.9 .6-2.8 .4-2.9 .1-2.8 0-2.9-.2-2.8-.4-2.9-.6-2.8-.7-2.9-1-2.8-1.2-2.9-1.3-2.8-1.6-2.9-1.7-4.3-3-4.2-3.4-4.3-3.8-4.3-4.3-4.3-4.7-4.2-5.1-4.3-5.5-4.3-6-4.3-6.4-4.2-6.9-2.9-4.8z" fill="#fdee19"/><path d="M74.5 133.9l3.4 5.7 2.6 3.8 2.6 3.3 2.6 2.9 2.6 2.5 2.6 2.1 2.5 1.6 1.8 .9 1.7 .7 1.7 .4 1.7 .3 1.8 .2 1.7-.1 1.7-.3 1.7-.4 1.8-.7 1.7-.8 2.6-1.6 2.6-2 2.5-2.4 2.6-2.9 2.6-3.3 3.5-5 3.4-5.8 3.4-6.5 .9-1.7 2.1 .1 3.3 5.6 3.4 5.1 3.4 4.7 3.4 4.3 3.4 3.8 3.4 3.4 3.3 3 3.4 2.6 2.3 1.4 2.2 1.3 2.3 1.1 2.3 .9 2.2 .7 2.3 .5 2.2 .3 2.3 .1 2.2-.1 2.3-.2 2.3-.5 2.2-.6 2.3-.9 2.2-1 2.3-1.2 2.2-1.4 3.4-2.5 3.4-2.9 3.4-3.4 3.4-3.8 3.4-4.2 3.3-4.6 3.4-5.1 3.4-5.5 3.4-5.9 3.4-6.4 3.4-6.8-3.2 6.5-2.8 5.6-2.9 5.5-4.3 7.8-4.2 7.4-4.3 6.9-4.3 6.6-4.3 6.1-4.2 5.6-4.3 5.2-4.3 4.8-4.3 4.4-4.2 3.9-4.3 3.5-4.3 3.1-2.8 1.8-2.9 1.6-2.8 1.5-2.9 1.2-2.8 1-2.9 .9-2.8 .6-2.9 .5-2.9 .3-2.8 .1-2.9-.2-2.8-.3-2.9-.4-2.8-.7-2.9-.9-2.8-1.1-2.9-1.2-2.8-1.5-2.9-1.6-4.2-2.8-4.3-3.3-4.3-3.7-4.3-4.1-4.2-4.5-4.3-5-4.3-5.4-4.3-5.9-4.2-6.2-4.3-6.8-4.3-7.1z" fill="#fdea18"/><path d="M74.5 133.9l3.5 5.7 2.6 3.8 2.6 3.4 2.6 2.9 2.6 2.5 2.6 2.1 1.7 1.1 1.7 .9 1.8 .8 1.7 .6 1.7 .3 1.8 .2 1.7 0 1.8-.2 1.7-.3 1.7-.6 1.8-.8 1.7-.9 2.6-1.8 2.6-2.2 2.6-2.7 2.6-3 2.6-3.5 3.5-5.4 3.5-6.1 2.6-5 3 .2 3.4 5.4 3.4 5.1 3.3 4.6 3.4 4.2 3.4 3.7 3.3 3.4 3.4 2.9 3.4 2.5 2.2 1.4 2.2 1.2 2.3 1.1 2.2 .8 2.3 .7 2.2 .4 2.3 .3 2.2 .1 2.2-.1 2.3-.3 2.2-.5 2.3-.6 2.2-.9 2.3-1 2.2-1.3 3.4-2.2 3.3-2.6 3.4-3.1 3.4-3.5 3.3-3.9 3.4-4.3 3.4-4.8 3.3-5.2 3.4-5.6 3.4-6 3.3-6.5 3.4-6.9-2.9 5.9-2.8 5.7-2.9 5.6-2.8 5.3-4.3 7.7-4.3 7.3-4.2 6.8-4.3 6.3-4.3 6-4.3 5.5-4.2 5.1-4.3 4.6-4.3 4.3-4.3 3.7-4.2 3.4-4.3 2.9-2.9 1.7-2.8 1.6-2.9 1.3-2.8 1.1-2.9 1-2.8 .7-2.9 .6-2.8 .4-2.9 .1-2.8 0-2.9-.2-2.8-.4-2.9-.6-2.8-.7-2.9-1-2.8-1.2-2.9-1.3-2.8-1.6-2.9-1.7-4.3-3-4.2-3.4-4.3-3.8-4.3-4.3-4.3-4.7-4.2-5.1-4.3-5.5-4.3-6-4.3-6.4-4.2-6.9-2.9-4.8z" fill="#fde718"/><path d="M74.5 133.9l3.5 5.8 2.6 3.8 2.6 3.3 2.6 3 2.7 2.5 2.6 2 1.7 1.2 1.8 .9 1.7 .8 1.8 .5 1.7 .4 1.8 .1 1.7 0 1.8-.2 1.7-.4 1.8-.6 1.7-.8 1.8-1 2.6-1.8 2.6-2.3 2.6-2.7 2.6-3.2 2.7-3.6 3.5-5.4 3.5-6.2 1.7-3.4 4.1 .3 3.4 5.4 3.4 5 3.4 4.5 3.4 4.2 3.3 3.6 3.4 3.3 3.4 2.8 3.4 2.4 2.2 1.4 2.3 1.2 2.3 1 2.2 .7 2.3 .6 2.2 .4 2.3 .3 2.2 0 2.3-.2 2.2-.3 2.3-.6 2.3-.7 2.2-1 2.3-1.1 2.2-1.3 3.4-2.4 3.4-2.7 3.4-3.2 3.4-3.7 3.3-4 3.4-4.5 3.4-4.9 3.4-5.4 3.4-5.8 3.4-6.2 3.3-6.6 2.3-4.7-2.9 5.9-2.8 5.7-2.9 5.6-2.8 5.3-4.3 7.7-4.3 7.3-4.2 6.8-4.3 6.3-4.3 6-4.3 5.5-4.2 5.1-4.3 4.6-4.3 4.3-4.3 3.7-4.2 3.4-4.3 2.9-2.9 1.7-2.8 1.6-2.9 1.3-2.8 1.1-2.9 1-2.8 .7-2.9 .6-2.8 .4-2.9 .1-2.8 0-2.9-.2-2.8-.4-2.9-.6-2.8-.7-2.9-1-2.8-1.2-2.9-1.3-2.8-1.6-2.9-1.7-4.3-3-4.2-3.4-4.3-3.8-4.3-4.3-4.3-4.7-4.2-5.1-4.3-5.5-4.3-6-4.3-6.4-4.2-6.9-2.9-4.8z" fill="#fee417"/><path d="M74.5 133.9l3.5 5.7 2.6 3.8 2.6 3.4 2.6 2.9 2.6 2.5 2.6 2 1.7 1.2 1.7 .9 1.8 .8 1.7 .6 1.7 .3 1.8 .2 1.7 0 1.7-.2 1.8-.3 1.7-.6 1.7-.8 1.8-.9 2.6-1.8 2.6-2.2 2.6-2.6 2.6-3.1 2.6-3.5 3.5-5.3 3.4-6.1 1.8-3.3 5.1 .3 3.4 5.3 3.3 4.9 3.4 4.5 3.4 4 3.3 3.6 3.4 3.2 3.4 2.8 3.3 2.3 2.3 1.3 2.2 1.2 2.2 .9 2.3 .8 2.2 .5 2.3 .4 2.2 .2 2.3 0 2.2-.2 2.2-.4 2.3-.6 2.2-.7 2.3-1 2.2-1.1 2.3-1.4 3.3-2.3 3.4-2.8 3.3-3.2 3.4-3.6 3.4-4.1 3.3-4.5 4.5-6.6 3.4-5.5 3.3-5.9 3.4-6.3 3.4-6.8-3.2 6.5-2.8 5.6-2.9 5.5-4.3 7.8-4.2 7.4-4.3 6.9-4.3 6.6-4.3 6.1-4.2 5.6-4.3 5.2-4.3 4.8-4.3 4.4-4.2 3.9-4.3 3.5-4.3 3.1-2.8 1.8-2.9 1.6-2.8 1.5-2.9 1.2-2.8 1-2.9 .9-2.8 .6-2.9 .5-2.9 .3-2.8 .1-2.9-.2-2.8-.3-2.9-.4-2.8-.7-2.9-.9-2.8-1.1-2.9-1.2-2.8-1.5-2.9-1.6-4.2-2.8-4.3-3.3-4.3-3.7-4.3-4.1-4.2-4.5-4.3-5-4.3-5.4-4.3-5.9-4.2-6.2-4.3-6.8-4.3-7.1z" fill="#fee116"/><path d="M74.5 133.9l3.5 5.8 2.6 3.8 2.6 3.3 2.6 3 2.7 2.5 2.6 2 1.7 1.2 1.8 .9 1.7 .8 1.8 .5 1.7 .4 1.8 .1 1.7 0 1.7-.2 1.8-.4 1.7-.6 1.8-.8 1.7-1 2.7-1.8 2.6-2.3 2.6-2.7 2.6-3.1 2.6-3.6 3.5-5.4 3.5-6.2 .9-1.7 6.2 .4 3.4 5.3 3.4 4.8 3.4 4.4 3.3 4 3.4 3.5 3.4 3.1 3.4 2.7 3.4 2.3 2.2 1.2 2.3 1.1 2.2 .9 2.3 .7 2.2 .5 2.3 .3 2.2 .1 2.3-.1 2.2-.2 2.3-.5 2.3-.7 2.2-.8 2.3-1 2.2-1.3 2.3-1.4 3.4-2.5 3.3-2.9 3.4-3.3 3.4-3.8 3.4-4.2 3.4-4.6 3.3-5.1 3.4-5.5 3.4-5.9 3.4-6.4 3.4-6.8-3.2 6.5-2.8 5.6-2.9 5.5-4.3 7.8-4.2 7.4-4.3 6.9-4.3 6.6-4.3 6.1-4.2 5.6-4.3 5.2-4.3 4.8-4.3 4.4-4.2 3.9-4.3 3.5-4.3 3.1-2.8 1.8-2.9 1.6-2.8 1.5-2.9 1.2-2.8 1-2.9 .9-2.8 .6-2.9 .5-2.9 .3-2.8 .1-2.9-.2-2.8-.3-2.9-.4-2.8-.7-2.9-.9-2.8-1.1-2.9-1.2-2.8-1.5-2.9-1.6-4.2-2.8-4.3-3.3-4.3-3.7-4.3-4.1-4.2-4.5-4.3-5-4.3-5.4-4.3-5.9-4.2-6.2-4.3-6.8-4.3-7.1z" fill="#fede16"/><path d="M74.5 133.9l3.4 5.7 2.6 3.8 2.6 3.4 2.6 2.9 2.6 2.5 2.6 2 1.8 1.2 1.7 .9 1.7 .8 1.8 .6 1.7 .3 1.7 .2 1.8 0 1.7-.1 1.7-.4 1.8-.6 1.7-.7 1.7-1 2.6-1.8 2.6-2.2 2.6-2.6 2.6-3 2.6-3.5 3.5-5.3 3.5-6.1 .8-1.6 6.2 .4 1.1 .1 3.4 5.2 3.3 4.7 3.4 4.3 3.4 3.9 3.3 3.4 3.4 3.1 3.3 2.6 3.4 2.1 2.2 1.3 2.3 1 2.2 .8 2.3 .7 2.2 .4 2.2 .3 2.3 .1 2.2-.1 2.3-.3 2.2-.5 2.2-.7 2.3-.8 2.2-1.1 2.3-1.2 3.3-2.2 3.4-2.7 3.3-3 3.4-3.5 3.4-3.9 3.3-4.4 3.4-4.7 3.4-5.2 3.3-5.6 3.4-6.1 3.3-6.4 3.4-6.9-2.9 5.9-2.8 5.7-2.9 5.6-2.8 5.3-4.3 7.7-4.3 7.3-4.2 6.8-4.3 6.3-4.3 6-4.3 5.5-4.2 5.1-4.3 4.6-4.3 4.3-4.3 3.7-4.2 3.4-4.3 2.9-2.9 1.7-2.8 1.6-2.9 1.3-2.8 1.1-2.9 1-2.8 .7-2.9 .6-2.8 .4-2.9 .1-2.8 0-2.9-.2-2.8-.4-2.9-.6-2.8-.7-2.9-1-2.8-1.2-2.9-1.3-2.8-1.6-2.9-1.7-4.3-3-4.2-3.4-4.3-3.8-4.3-4.3-4.3-4.7-4.2-5.1-4.3-5.5-4.3-6-4.3-6.4-4.2-6.9-2.9-4.8z" fill="#ffdb15"/><path d="M74.5 133.9l3.5 5.8 2.6 3.8 2.6 3.3 2.6 3 2.6 2.4 2.7 2.1 1.7 1.1 1.7 1 1.8 .7 1.7 .6 1.8 .4 1.7 .1 1.8 0 1.7-.2 1.8-.4 1.7-.6 1.7-.8 1.8-.9 2.6-1.9 2.6-2.2 2.6-2.7 2.7-3.1 2.6-3.6 3.5-5.4 3.4-6.2 6.7 .5 1.7 .1 3.4 5.1 3.4 4.7 3.4 4.2 3.3 3.8 3.4 3.4 3.4 3 3.4 2.5 2.2 1.4 2.3 1.3 2.2 1 2.3 .9 2.2 .7 2.3 .5 2.2 .3 2.3 .1 2.2-.1 2.3-.3 2.3-.4 2.2-.7 2.3-.8 2.2-1.1 2.3-1.2 3.3-2.2 3.4-2.6 3.4-3.1 3.4-3.5 3.3-3.9 3.4-4.3 3.4-4.8 3.4-5.2 3.4-5.6 3.3-6.1 3.4-6.5 3.4-6.9-2.9 5.9-2.8 5.7-2.9 5.6-2.8 5.3-4.3 7.7-4.3 7.3-4.2 6.8-4.3 6.3-4.3 6-4.3 5.5-4.2 5.1-4.3 4.6-4.3 4.3-4.3 3.7-4.2 3.4-4.3 2.9-2.9 1.7-2.8 1.6-2.9 1.3-2.8 1.1-2.9 1-2.8 .7-2.9 .6-2.8 .4-2.9 .1-2.8 0-2.9-.2-2.8-.4-2.9-.6-2.8-.7-2.9-1-2.8-1.2-2.9-1.3-2.8-1.6-2.9-1.7-4.3-3-4.2-3.4-4.3-3.8-4.3-4.3-4.3-4.7-4.2-5.1-4.3-5.5-4.3-6-4.3-6.4-4.2-6.9-2.9-4.8z" fill="#ffd815"/><path d="M74.5 133.9l3.4 5.7 2.6 3.8 2.6 3.3 2.6 3 2.6 2.4 2.6 2.1 2.6 1.7 1.7 .8 1.8 .7 1.7 .5 1.7 .3 1.8 .1 1.7-.1 1.7-.3 1.8-.5 1.7-.6 1.7-.9 1.7-1 2.6-1.9 2.6-2.3 2.6-2.8 2.6-3.1 2.6-3.7 3.5-5.4 2.6-4.6 7.2 .5 2.3 .1 3.3 5.1 3.4 4.6 3.4 4.2 3.4 3.7 3.4 3.3 3.4 2.9 3.4 2.5 2.3 1.4 2.2 1.2 2.3 1 2.3 .8 2.2 .6 2.3 .4 2.3 .3 2.2 0 2.3-.2 2.3-.3 2.2-.6 2.3-.7 2.2-.9 2.3-1.1 2.3-1.3 3.4-2.4 3.4-2.7 3.4-3.2 3.4-3.7 3.4-4 3.4-4.5 3.3-5 3.4-5.3 3.4-5.8 3.4-6.3 3.4-6.6 2.3-4.7-2.9 5.9-2.8 5.7-2.9 5.6-2.8 5.3-4.3 7.7-4.3 7.3-4.2 6.8-4.3 6.3-4.3 6-4.3 5.5-4.2 5.1-4.3 4.6-4.3 4.3-4.3 3.7-4.2 3.4-4.3 2.9-2.9 1.7-2.8 1.6-2.9 1.3-2.8 1.1-2.9 1-2.8 .7-2.9 .6-2.8 .4-2.9 .1-2.8 0-2.9-.2-2.8-.4-2.9-.6-2.8-.7-2.9-1-2.8-1.2-2.9-1.3-2.8-1.6-2.9-1.7-4.3-3-4.2-3.4-4.3-3.8-4.3-4.3-4.3-4.7-4.2-5.1-4.3-5.5-4.3-6-4.3-6.4-4.2-6.9-2.9-4.8z" fill="#ffd314"/><path d="M74.5 133.9l3.5 5.8 2.6 3.7 2.6 3.4 2.6 2.9 2.6 2.5 2.6 2.1 1.8 1.1 1.7 1 1.8 .7 1.7 .6 1.7 .4 1.8 .1 1.7 0 1.8-.2 1.7-.4 1.7-.6 1.8-.7 1.7-1 2.6-1.8 2.7-2.3 2.6-2.6 2.6-3.1 2.6-3.6 3.5-5.4 2.6-4.5 6.5 .5 4.1 .2 3.4 4.9 3.3 4.6 3.4 4 3.4 3.7 3.3 3.2 3.4 2.8 3.4 2.4 2.2 1.3 2.3 1.2 2.2 .9 2.3 .8 2.2 .6 2.3 .4 2.2 .2 2.3 0 2.2-.2 2.3-.4 2.2-.5 2.3-.8 2.2-.9 2.3-1.2 2.2-1.3 3.4-2.3 3.4-2.8 3.4-3.2 3.3-3.6 3.4-4.1 3.4-4.5 3.3-4.9 3.4-5.4 3.4-5.7 3.4-6.2 3.3-6.7 2.3-4.6-2.9 5.9-2.8 5.7-2.9 5.6-2.8 5.3-4.3 7.7-4.3 7.3-4.2 6.8-4.3 6.3-4.3 6-4.3 5.5-4.2 5.1-4.3 4.6-4.3 4.3-4.3 3.7-4.2 3.4-4.3 2.9-2.9 1.7-2.8 1.6-2.9 1.3-2.8 1.1-2.9 1-2.8 .7-2.9 .6-2.8 .4-2.9 .1-2.8 0-2.9-.2-2.8-.4-2.9-.6-2.8-.7-2.9-1-2.8-1.2-2.9-1.3-2.8-1.6-2.9-1.7-4.3-3-4.2-3.4-4.3-3.8-4.3-4.3-4.3-4.7-4.2-5.1-4.3-5.5-4.3-6-4.3-6.4-4.2-6.9-2.9-4.8z" fill="#ffcd13"/><path d="M74.5 133.9l3.4 5.7 2.6 3.8 2.6 3.3 2.6 2.9 2.6 2.5 2.6 2.1 2.6 1.6 1.7 .9 1.7 .7 1.8 .5 1.7 .2 1.7 .2 1.7-.1 1.8-.3 1.7-.4 1.7-.7 1.7-.8 1.8-1 2.6-1.9 2.5-2.3 2.6-2.8 2.6-3.1 2.6-3.6 3.5-5.4 1.7-3 7.1 .6 4.6 .2 3.4 4.9 3.4 4.4 3.4 4 3.4 3.6 3.4 3.2 3.4 2.7 3.4 2.3 2.2 1.2 2.3 1.1 2.2 .9 2.3 .7 2.3 .5 2.2 .4 2.3 .1 2.2-.1 2.3-.2 2.3-.5 2.2-.6 2.3-.8 2.2-1.1 2.3-1.2 2.3-1.4 3.4-2.5 3.3-2.9 3.4-3.3 3.4-3.8 3.4-4.2 3.4-4.7 3.4-5 3.4-5.5 3.4-6 3.4-6.3 3.4-6.9-3.2 6.5-2.8 5.6-2.9 5.5-4.3 7.8-4.2 7.4-4.3 6.9-4.3 6.6-4.3 6.1-4.2 5.6-4.3 5.2-4.3 4.8-4.3 4.4-4.2 3.9-4.3 3.5-4.3 3.1-2.8 1.8-2.9 1.6-2.8 1.5-2.9 1.2-2.8 1-2.9 .9-2.8 .6-2.9 .5-2.9 .3-2.8 .1-2.9-.2-2.8-.3-2.9-.4-2.8-.7-2.9-.9-2.8-1.1-2.9-1.2-2.8-1.5-2.9-1.6-4.2-2.8-4.3-3.3-4.3-3.7-4.3-4.1-4.2-4.5-4.3-5-4.3-5.4-4.3-5.9-4.2-6.2-4.3-6.8-4.3-7.1z" fill="#ffc712"/><path d="M74.5 133.9l3.5 5.7 2.6 3.8 2.6 3.4 2.6 2.9 2.6 2.5 2.6 2.1 1.7 1.1 1.8 1 1.7 .7 1.7 .6 1.8 .4 1.7 .1 1.8 0 1.7-.2 1.7-.4 1.8-.5 1.7-.8 1.7-1 2.7-1.8 2.6-2.2 2.6-2.6 2.6-3.1 2.6-3.5 3.5-5.4 1.7-2.9 6.4 .5 6.5 .3 3.3 4.8 3.4 4.4 3.4 3.9 3.3 3.5 3.4 3 3.4 2.6 3.3 2.3 2.3 1.2 2.2 1 2.3 .9 2.2 .6 2.3 .5 2.2 .3 2.3 .1 2.2-.1 2.3-.3 2.2-.5 2.2-.6 2.3-.9 2.2-1 2.3-1.3 3.3-2.2 3.4-2.6 3.4-3.1 3.3-3.4 3.4-4 3.4-4.3 3.4-4.8 3.3-5.2 3.4-5.6 3.4-6 3.3-6.5 3.4-6.9-2.9 5.9-2.8 5.7-2.9 5.6-2.8 5.3-4.3 7.7-4.3 7.3-4.2 6.8-4.3 6.3-4.3 6-4.3 5.5-4.2 5.1-4.3 4.6-4.3 4.3-4.3 3.7-4.2 3.4-4.3 2.9-2.9 1.7-2.8 1.6-2.9 1.3-2.8 1.1-2.9 1-2.8 .7-2.9 .6-2.8 .4-2.9 .1-2.8 0-2.9-.2-2.8-.4-2.9-.6-2.8-.7-2.9-1-2.8-1.2-2.9-1.3-2.8-1.6-2.9-1.7-4.3-3-4.2-3.4-4.3-3.8-4.3-4.3-4.3-4.7-4.2-5.1-4.3-5.5-4.3-6-4.3-6.4-4.2-6.9-2.9-4.8z" fill="#ffc111"/><path d="M74.5 133.9l3.4 5.7 2.6 3.8 2.6 3.3 2.6 2.9 2.6 2.5 2.5 2.1 2.6 1.6 1.7 .9 1.8 .6 1.7 .5 1.7 .3 1.7 .2 1.8-.1 1.7-.3 1.7-.4 1.7-.7 1.7-.8 2.6-1.6 2.6-2 2.6-2.4 2.6-2.8 2.6-3.3 3.4-5 2.6-4.3 7 .6 7 .4 3.4 4.7 3.4 4.3 3.4 3.8 3.4 3.4 3.3 3 3.4 2.6 2.3 1.4 2.2 1.3 2.3 1.1 2.3 .9 2.2 .7 2.3 .5 2.2 .3 2.3 .1 2.2-.1 2.3-.2 2.2-.5 2.3-.6 2.3-.9 2.2-1 2.3-1.2 2.2-1.4 3.4-2.5 3.4-2.9 3.4-3.4 3.4-3.8 3.4-4.2 3.3-4.6 3.4-5.1 3.4-5.5 3.4-5.9 3.4-6.4 3.4-6.8-3.2 6.5-2.8 5.6-2.9 5.5-4.3 7.8-4.2 7.4-4.3 6.9-4.3 6.6-4.3 6.1-4.2 5.6-4.3 5.2-4.3 4.8-4.3 4.4-4.2 3.9-4.3 3.5-4.3 3.1-2.8 1.8-2.9 1.6-2.8 1.5-2.9 1.2-2.8 1-2.9 .9-2.8 .6-2.9 .5-2.9 .3-2.8 .1-2.9-.2-2.8-.3-2.9-.4-2.8-.7-2.9-.9-2.8-1.1-2.9-1.2-2.8-1.5-2.9-1.6-4.2-2.8-4.3-3.3-4.3-3.7-4.3-4.1-4.2-4.5-4.3-5-4.3-5.4-4.3-5.9-4.2-6.2-4.3-6.8-4.3-7.1z" fill="#ffbb11"/><path d="M74.5 133.9l3.4 5.7 2.6 3.8 2.6 3.4 2.6 2.9 2.6 2.5 2.6 2 1.8 1.2 1.7 .9 1.7 .8 1.8 .6 1.7 .3 1.7 .2 1.8 0 1.7-.2 1.7-.3 1.8-.6 1.7-.8 1.7-.9 2.6-1.8 2.6-2.2 2.6-2.6 2.6-3.1 2.6-3.4 3.5-5.3 .9-1.5 6.3 .6 6.1 .3 2.8 .1 3.3 4.6 3.4 4.2 3.4 3.8 3.3 3.3 3.4 2.9 3.3 2.4 2.3 1.4 2.2 1.3 2.3 1 2.2 .8 2.2 .7 2.3 .4 2.2 .3 2.3 .1 2.2-.1 2.3-.3 2.2-.5 2.2-.7 2.3-.8 2.2-1.1 2.3-1.2 3.3-2.2 3.4-2.7 3.3-3 3.4-3.5 3.4-3.9 3.3-4.4 3.4-4.7 3.3-5.2 3.4-5.6 3.4-6.1 3.3-6.4 3.4-6.9-2.9 5.9-2.8 5.7-2.9 5.6-2.8 5.3-4.3 7.7-4.3 7.3-4.2 6.8-4.3 6.3-4.3 6-4.3 5.5-4.2 5.1-4.3 4.6-4.3 4.3-4.3 3.7-4.2 3.4-4.3 2.9-2.9 1.7-2.8 1.6-2.9 1.3-2.8 1.1-2.9 1-2.8 .7-2.9 .6-2.8 .4-2.9 .1-2.8 0-2.9-.2-2.8-.4-2.9-.6-2.8-.7-2.9-1-2.8-1.2-2.9-1.3-2.8-1.6-2.9-1.7-4.3-3-4.2-3.4-4.3-3.8-4.3-4.3-4.3-4.7-4.2-5.1-4.3-5.5-4.3-6-4.3-6.4-4.2-6.9-2.9-4.8z" fill="#ffb510"/><path d="M74.5 133.9l3.5 5.8 2.6 3.8 2.6 3.3 2.6 3 2.6 2.4 2.7 2.1 1.7 1.1 1.7 1 1.8 .7 1.7 .6 1.8 .4 1.7 .1 1.8 0 1.7-.2 1.8-.4 1.7-.6 1.7-.8 1.8-.9 2.6-1.9 2.6-2.2 2.6-2.7 2.6-3.1 2.7-3.6 3.5-5.4 6.9 .6 6.1 .4 3.4 .1 3.3 4.5 3.4 4.1 3.4 3.7 3.4 3.2 3.3 2.9 3.4 2.3 2.3 1.4 2.2 1.1 2.3 1 2.2 .8 2.3 .6 2.2 .4 2.3 .2 2.2 0 2.3-.2 2.2-.4 2.3-.5 2.2-.8 2.3-.9 2.2-1.1 2.3-1.4 3.4-2.3 3.3-2.8 3.4-3.2 3.4-3.6 3.4-4.1 3.4-4.5 3.3-4.9 3.4-5.3 3.4-5.8 3.4-6.2 3.3-6.7 2.3-4.6-2.9 5.9-2.8 5.7-2.9 5.6-2.8 5.3-4.3 7.7-4.3 7.3-4.2 6.8-4.3 6.3-4.3 6-4.3 5.5-4.2 5.1-4.3 4.6-4.3 4.3-4.3 3.7-4.2 3.4-4.3 2.9-2.9 1.7-2.8 1.6-2.9 1.3-2.8 1.1-2.9 1-2.8 .7-2.9 .6-2.8 .4-2.9 .1-2.8 0-2.9-.2-2.8-.4-2.9-.6-2.8-.7-2.9-1-2.8-1.2-2.9-1.3-2.8-1.6-2.9-1.7-4.3-3-4.2-3.4-4.3-3.8-4.3-4.3-4.3-4.7-4.2-5.1-4.3-5.5-4.3-6-4.3-6.4-4.2-6.9-2.9-4.8z" fill="#fdb40f"/><path d="M74.5 133.9l3.4 5.7 2.6 3.8 2.6 3.3 2.6 2.9 2.6 2.5 2.6 2.1 2.6 1.6 1.7 .9 1.7 .7 1.8 .5 1.7 .3 1.7 .1 1.7-.1 1.8-.3 1.7-.5 1.7-.6 1.8-.8 1.7-1.1 2.6-1.8 2.6-2.4 2.6-2.7 2.5-3.2 2.6-3.5 2.6-4 6.4 .6 6 .4 5.2 .2 3.4 4.4 3.4 4 3.4 3.6 3.4 3.2 3.4 2.7 3.4 2.3 2.3 1.3 2.2 1.1 2.3 .9 2.2 .7 2.3 .5 2.3 .4 2.2 .1 2.3-.1 2.3-.2 2.2-.5 2.3-.6 2.2-.8 2.3-1.1 2.3-1.2 2.2-1.4 3.4-2.5 3.4-2.9 3.4-3.3 3.4-3.8 3.4-4.2 3.4-4.6 3.4-5.1 3.4-5.5 3.4-6 3.4-6.3 3.4-6.9-3.2 6.5-2.8 5.6-2.9 5.5-4.3 7.8-4.2 7.4-4.3 6.9-4.3 6.6-4.3 6.1-4.2 5.6-4.3 5.2-4.3 4.8-4.3 4.4-4.2 3.9-4.3 3.5-4.3 3.1-2.8 1.8-2.9 1.6-2.8 1.5-2.9 1.2-2.8 1-2.9 .9-2.8 .6-2.9 .5-2.9 .3-2.8 .1-2.9-.2-2.8-.3-2.9-.4-2.8-.7-2.9-.9-2.8-1.1-2.9-1.2-2.8-1.5-2.9-1.6-4.2-2.8-4.3-3.3-4.3-3.7-4.3-4.1-4.2-4.5-4.3-5-4.3-5.4-4.3-5.9-4.2-6.2-4.3-6.8-4.3-7.1z" fill="#fab60f"/><path d="M74.5 133.9l3.5 5.7 2.6 3.8 2.6 3.4 2.6 2.9 2.6 2.5 2.6 2.1 1.7 1.1 1.8 1 1.7 .7 1.7 .6 1.8 .4 1.7 .1 1.8 0 1.7-.2 1.7-.4 1.8-.5 1.7-.8 1.8-1 2.6-1.8 2.6-2.2 2.6-2.6 2.6-3.1 2.6-3.5 2.6-4 7 .7 7.1 .4 4.7 .2 3.4 4.3 3.3 3.9 3.4 3.5 3.4 3.1 3.3 2.6 3.4 2.2 2.2 1.3 2.3 1 2.2 .9 2.3 .6 2.2 .5 2.3 .3 2.2 .1 2.2-.1 2.3-.3 2.2-.4 2.3-.7 2.2-.8 2.3-1.1 2.2-1.2 3.4-2.2 3.3-2.6 3.4-3.1 3.4-3.4 3.3-3.9 3.4-4.4 3.4-4.7 3.3-5.2 3.4-5.6 3.4-6 3.3-6.5 3.4-6.9-2.8 5.9-2.9 5.7-2.8 5.6-2.9 5.3-4.3 7.7-4.2 7.2-4.3 6.8-4.3 6.4-4.3 5.9-4.2 5.5-4.3 5.1-4.3 4.6-4.3 4.2-4.2 3.8-4.3 3.3-4.3 3-2.8 1.7-2.9 1.5-2.8 1.3-2.9 1.1-2.8 1-2.9 .7-2.8 .6-2.9 .4-2.8 .1-2.9 0-2.8-.2-2.9-.4-2.8-.6-2.9-.8-2.8-.9-2.9-1.2-2.8-1.3-2.9-1.6-2.8-1.7-4.3-3-4.3-3.4-4.2-3.8-4.3-4.3-4.3-4.7-4.2-5.1-4.3-5.5-4.3-6-4.3-6.4-4.2-6.9-2.9-4.8z" fill="#f7b90f"/><path d="M74.5 133.9l3.4 5.7 2.6 3.7 2.6 3.4 2.6 2.9 2.5 2.5 2.6 2 2.6 1.7 1.7 .9 1.7 .6 1.8 .5 1.7 .3 1.7 .2 1.7-.1 1.8-.3 1.7-.4 1.7-.6 1.7-.9 2.6-1.5 2.6-2 2.6-2.4 2.5-2.9 2.6-3.2 3.5-5 6.4 .7 7.1 .4 6.5 .2 3.4 4.3 3.4 3.9 3.4 3.4 3.4 3 3.4 2.5 2.3 1.5 2.2 1.3 2.3 1 2.3 .9 2.2 .7 2.3 .5 2.2 .3 2.3 .1 2.3-.1 2.2-.3 2.3-.4 2.3-.7 2.2-.9 2.3-1 2.3-1.2 2.2-1.5 3.4-2.5 3.4-2.9 3.4-3.4 3.4-3.8 3.4-4.3 3.4-4.7 3.4-5.1 3.4-5.5 3.4-6 3.4-6.4 3.4-6.9-2.7 5.5-2.8 5.7-2.9 5.5-2.8 5.3-4.3 7.6-4.2 7.1-4.3 6.7-4.3 6.3-4.2 5.9-4.3 5.4-4.2 5-4.3 4.6-4.3 4.2-4.2 3.7-4.3 3.3-4.2 2.9-2.9 1.7-2.8 1.5-2.8 1.3-2.9 1.1-2.8 .9-2.9 .7-2.8 .5-2.8 .4-2.9 .1-2.8 0-2.9-.2-2.8-.4-2.8-.6-2.9-.8-2.8-1-2.9-1.2-2.8-1.3-2.8-1.6-2.9-1.7-4.2-3-4.3-3.4-4.2-3.8-4.3-4.3-4.3-4.7-4.2-5.1-4.3-5.5-4.2-6-4.3-6.4-4.3-6.8-2.8-4.8z" fill="#f4bb0f"/><path d="M74.5 133.9l3.4 5.7 2.6 3.8 2.6 3.3 2.6 3 2.6 2.5 2.6 2 2.6 1.7 1.8 .8 1.7 .7 1.7 .5 1.7 .3 1.8 .1 1.7-.1 1.7-.3 1.8-.5 1.7-.6 1.7-.9 1.8-1 2.6-1.9 2.5-2.3 2.6-2.8 2.6-3.2 2.6-3.6 .9-1.3 7.1 .8 7 .5 7.2 .2 3.4 4.2 3.4 3.7 3.4 3.3 3.4 2.9 3.4 2.5 2.2 1.4 2.3 1.2 2.2 1 2.3 .8 2.2 .6 2.3 .5 2.3 .2 2.2 .1 2.3-.1 2.2-.4 2.3-.5 2.2-.7 2.3-.9 2.2-1.1 2.3-1.3 3.4-2.3 3.4-2.7 3.4-3.1 3.3-3.6 3.4-4 3.4-4.4 3.4-4.9 3.4-5.3 3.4-5.8 3.3-6.1 3.4-6.6 1.5-2.9-2.9 5.8-2.9 5.7-2.8 5.5-4.3 7.8-4.3 7.4-4.2 7-4.3 6.5-4.3 6.1-4.3 5.7-4.3 5.3-4.3 4.8-4.2 4.4-4.3 3.9-4.3 3.5-4.3 3.1-2.8 1.8-2.9 1.7-2.8 1.4-2.9 1.2-2.8 1.1-2.9 .8-2.9 .7-2.8 .5-2.9 .3-2.8 .1-2.9-.1-2.8-.3-2.9-.5-2.8-.7-2.9-.9-2.8-1-2.9-1.3-2.8-1.4-2.9-1.7-2.9-1.8-4.2-3.1-4.3-3.6-4.3-3.9-4.3-4.4-4.3-4.9-4.2-5.3-4.3-5.7-4.3-6.1-4.3-6.6-4.3-7-1.4-2.4z" fill="#e8c010"/><path d="M74.5 133.9l3.5 5.8 2.6 3.7 2.6 3.4 2.6 2.9 2.6 2.5 2.6 2.1 1.8 1.1 1.7 1 1.7 .7 1.8 .6 1.7 .4 1.8 .1 1.7 0 1.8-.2 1.7-.4 1.7-.6 1.8-.7 1.7-1 2.6-1.8 2.6-2.3 2.7-2.6 2.6-3.1 2.6-3.6 .8-1.2 6.6 .7 7 .5 7.1 .3 2 0 3.3 4.1 3.4 3.6 3.4 3.2 3.4 2.8 3.3 2.4 2.3 1.3 2.2 1.2 2.3 .9 2.2 .8 2.3 .6 2.2 .4 2.3 .2 2.2 0 2.3-.2 2.2-.4 2.3-.5 2.2-.8 2.2-.9 2.3-1.2 2.2-1.3 3.4-2.4 3.4-2.7 3.4-3.2 3.3-3.7 3.4-4 3.4-4.5 4.5-6.6 3.3-5.5 3.4-5.9 3.4-6.4 2.7-5.3-2.9 5.8-2.8 5.6-2.9 5.4-4.2 7.8-4.3 7.3-4.3 6.9-4.2 6.5-4.3 6-4.3 5.6-4.2 5.2-4.3 4.7-4.2 4.4-4.3 3.9-4.3 3.4-4.2 3.1-2.9 1.8-2.8 1.6-2.9 1.4-2.8 1.2-2.9 1-2.8 .8-2.8 .7-2.9 .4-2.8 .3-2.9 .1-2.8-.2-2.9-.3-2.8-.5-2.9-.7-2.8-.9-2.8-1-2.9-1.3-2.8-1.4-2.9-1.7-4.2-2.8-4.3-3.3-4.3-3.7-4.2-4.1-4.3-4.5-4.3-5-4.2-5.4-4.3-5.8-4.3-6.3-4.2-6.7-4.3-7.1z" fill="#d4c612"/><path d="M74.5 133.9l3.4 5.7 2.6 3.8 2.6 3.3 2.6 2.9 2.6 2.5 2.5 2.1 2.6 1.6 1.7 .9 1.8 .6 1.7 .5 1.7 .3 1.7 .2 1.8-.1 1.7-.3 1.7-.4 1.7-.7 1.7-.8 2.6-1.6 2.6-2 2.6-2.4 2.6-2.8 2.6-3.3 1.7-2.4 6 .7 7 .6 7 .3 3.9 0 3.4 4 3.3 3.5 3.4 3.2 3.3 2.7 3.4 2.2 2.2 1.3 2.3 1.1 2.2 .9 2.2 .7 2.3 .5 2.2 .3 2.3 .2 2.2-.1 2.2-.2 2.3-.4 2.2-.6 2.3-.8 2.2-1 2.2-1.2 3.4-2.1 3.4-2.5 3.3-3 3.4-3.4 3.3-3.8 3.4-4.3 3.3-4.6 3.4-5.1 3.4-5.5 3.3-6 3.4-6.3 1.7-3.4-2.9 5.8-2.8 5.6-2.9 5.4-4.3 7.7-4.3 7.3-4.3 6.9-4.2 6.4-4.3 6-4.3 5.6-4.3 5.1-4.3 4.7-4.3 4.3-4.3 3.8-4.3 3.4-4.2 3-2.9 1.7-2.9 1.5-2.8 1.4-2.9 1.1-2.8 1-2.9 .8-2.8 .6-2.9 .3-2.9 .2-2.8 0-2.9-.2-2.8-.3-2.9-.6-2.9-.8-2.8-1-2.9-1.1-2.8-1.4-2.9-1.5-2.9-1.7-4.2-3-4.3-3.4-4.3-3.8-4.3-4.3-4.3-4.7-4.3-5.1-4.3-5.6-4.3-6-4.2-6.4-4.3-6.9-2.9-4.8z" fill="#bfcc14"/><path d="M74.5 133.9l3.4 5.7 2.6 3.8 2.6 3.3 2.6 3 2.6 2.5 2.6 2 1.8 1.2 1.7 .9 1.7 .8 1.8 .6 1.7 .3 1.7 .2 1.8 0 1.7-.1 1.7-.4 1.7-.6 1.8-.7 1.7-1 2.6-1.7 2.6-2.2 2.6-2.7 2.6-3 2.6-3.5 6.7 .9 7 .5 7 .3 4.6 .1 3.3 3.9 3.4 3.4 3.4 3.1 3.4 2.6 2.3 1.5 2.2 1.3 2.3 1.1 2.2 .9 2.3 .8 2.3 .5 2.2 .3 2.3 .2 2.2 0 2.3-.3 2.2-.4 2.3-.6 2.3-.8 2.2-1 2.3-1.2 2.2-1.4 3.4-2.4 3.4-2.9 3.4-3.3 3.4-3.7 3.4-4.2 3.4-4.6 3.4-5 3.3-5.4 3.4-5.9 3.4-6.4 1.9-3.6-2.8 5.7-2.9 5.6-2.8 5.3-4.3 7.6-4.3 7.3-4.3 6.8-4.2 6.3-4.3 5.9-4.3 5.5-4.2 5.1-4.3 4.6-4.3 4.3-4.3 3.7-4.2 3.4-4.3 2.9-2.9 1.7-2.8 1.5-2.9 1.3-2.8 1.2-2.8 .9-2.9 .7-2.8 .6-2.9 .4-2.8 .1-2.9 0-2.8-.2-2.9-.4-2.8-.6-2.9-.8-2.8-.9-2.9-1.2-2.8-1.4-2.9-1.5-2.8-1.7-4.3-3-4.3-3.4-4.2-3.8-4.3-4.3-4.3-4.7-4.3-5.1-4.2-5.6-4.3-5.9-4.3-6.4-4.2-6.9-2.9-4.8z" fill="#abcc1a"/><path d="M74.5 133.9l3.5 5.8 2.6 3.7 2.6 3.4 2.6 2.9 2.6 2.5 2.6 2.1 1.8 1.1 1.7 1 1.7 .7 1.8 .6 1.7 .4 1.8 .1 1.7 0 1.8-.2 1.7-.4 1.7-.6 1.8-.7 1.7-1 2.6-1.8 2.6-2.3 2.7-2.6 2.6-3.1 1.7-2.3 6.3 .7 6.9 .7 6.9 .3 6.5 .1 3.4 3.8 3.4 3.3 3.3 3 3.4 2.5 2.2 1.4 2.3 1.2 2.2 1.1 2.3 .9 2.2 .6 2.3 .5 2.2 .3 2.3 .1 2.2-.1 2.3-.3 2.2-.4 2.3-.7 2.2-.8 2.3-1.1 2.2-1.2 3.4-2.2 3.4-2.7 3.3-3 3.4-3.5 3.4-3.9 3.4-4.4 3.3-4.7 3.4-5.2 3.4-5.6 3.3-6.1 3-5.6-4 8-2.9 5.4-4.2 7.7-4.3 7.3-4.3 6.9-4.2 6.4-4.3 6-4.2 5.6-4.3 5.1-4.2 4.7-4.3 4.3-4.2 3.9-4.3 3.4-4.3 3-2.8 1.8-2.8 1.6-2.9 1.4-2.8 1.1-2.9 1.1-2.8 .8-2.8 .6-2.9 .4-2.8 .3-2.8 .1-2.9-.2-2.8-.3-2.9-.5-2.8-.7-2.8-.9-2.9-1.1-2.8-1.2-2.8-1.5-2.9-1.7-4.2-2.8-4.3-3.2-4.2-3.7-4.3-4.1-4.3-4.6-4.2-5-4.3-5.3-4.2-5.9-4.3-6.2-4.2-6.7-4.3-7.1z" fill="#98cc20"/><path d="M74.5 133.9l3.4 5.7 2.6 3.7 2.6 3.4 2.6 2.9 2.5 2.5 2.6 2 2.6 1.7 1.7 .9 1.7 .6 1.8 .5 1.7 .3 1.7 .2 1.7-.1 1.7-.3 1.8-.4 1.7-.6 1.7-.9 2.6-1.5 2.6-2 2.5-2.4 2.6-2.9 2.6-3.2 7 .9 6.9 .6 6.8 .3 7 .1 .3 0 3.3 3.7 3.4 3.2 3.4 2.8 3.3 2.4 2.2 1.4 2.3 1.2 2.2 1 2.3 .8 2.2 .6 2.2 .4 2.3 .2 2.2 .1 2.2-.1 2.3-.4 2.2-.5 2.2-.7 2.3-.9 2.2-1.1 2.2-1.2 3.4-2.3 3.4-2.7 3.3-3.1 3.4-3.5 3.3-4 3.4-4.3 3.3-4.8 3.4-5.2 3.3-5.7 3.4-6.1 2.2-4.1-2.8 5.7-2.9 5.4-4.3 7.8-4.2 7.4-4.3 7-4.3 6.5-4.3 6.1-4.3 5.7-4.2 5.3-4.3 4.8-4.3 4.3-4.3 4-4.3 3.5-4.2 3.1-2.9 1.8-2.8 1.6-2.9 1.4-2.8 1.3-2.9 1-2.8 .9-2.9 .6-2.9 .5-2.8 .3-2.9 .1-2.8-.1-2.9-.3-2.8-.5-2.9-.7-2.8-.9-2.9-1.1-2.8-1.2-2.9-1.5-2.8-1.6-2.9-1.8-4.3-3.1-4.2-3.6-4.3-4-4.3-4.4-4.3-4.8-4.3-5.3-4.2-5.7-4.3-6.1-4.3-6.6-4.3-7-1.4-2.4z" fill="#84cc25"/><path d="M74.5 133.9l3.4 5.7 2.6 3.8 2.6 3.3 2.6 2.9 2.6 2.5 2.6 2.1 2.6 1.6 1.7 .9 1.8 .7 1.7 .5 1.7 .3 1.7 .1 1.8-.1 1.7-.3 1.7-.5 1.8-.6 1.7-.9 1.7-1 2.6-1.9 2.6-2.3 2.6-2.7 2.6-3.2 6.6 .9 6.8 .6 6.8 .4 6.9 .1 2.3 0 3.4 3.6 3.4 3.2 3.3 2.7 3.4 2.3 2.3 1.3 2.2 1.1 2.3 .9 2.2 .8 2.3 .5 2.2 .3 2.3 .2 2.2 0 2.3-.3 2.3-.4 2.2-.6 2.3-.8 2.2-1 2.3-1.2 2.2-1.4 3.4-2.4 3.4-2.9 3.4-3.3 3.4-3.7 3.3-4.1 3.4-4.6 3.4-5 3.4-5.4 3.4-5.9 3.2-5.8-3.9 7.6-2.9 5.3-4.3 7.6-4.2 7.2-4.3 6.7-4.2 6.4-4.3 5.8-4.3 5.5-4.2 5-4.3 4.6-4.3 4.2-4.2 3.7-4.3 3.3-4.2 2.9-2.9 1.7-2.8 1.5-2.9 1.3-2.8 1.1-2.8 1-2.9 .7-2.8 .5-2.9 .4-2.8 .1-2.9 0-2.8-.2-2.8-.4-2.9-.6-2.8-.8-2.9-1-2.8-1.2-2.8-1.3-2.9-1.6-2.8-1.7-4.3-3-4.3-3.4-4.2-3.8-4.3-4.3-4.2-4.7-4.3-5.1-4.3-5.5-4.2-6-4.3-6.4-4.3-6.8-2.8-4.8z" fill="#70cc2b"/><path d="M74.5 133.9l3.5 5.7 2.6 3.8 2.6 3.4 2.6 2.9 2.6 2.5 2.6 2.1 1.7 1.1 1.8 1 1.7 .7 1.7 .6 1.8 .4 1.7 .1 1.8 0 1.7-.2 1.7-.4 1.8-.5 1.7-.8 1.7-1 2.7-1.8 2.6-2.2 2.6-2.6 2.6-3.1 6.2 .9 6.7 .6 6.8 .5 6.9 .1 4.2 0 3.4 3.5 3.3 3 3.4 2.6 3.3 2.2 2.3 1.3 2.2 1 2.3 .9 2.2 .6 2.2 .5 2.3 .3 2.2 .1 2.3-.1 2.2-.3 2.2-.4 2.3-.7 2.2-.8 2.3-1.1 2.2-1.2 3.4-2.2 3.3-2.6 3.4-3.1 3.3-3.4 3.4-3.9 3.4-4.3 3.3-4.8 3.4-5.1 3.3-5.6 3.4-6.1 1.5-2.6-2.8 5.6-2.9 5.4-4.3 7.7-4.3 7.3-4.3 6.8-4.2 6.4-4.3 6-4.3 5.6-4.3 5.1-4.3 4.7-4.3 4.2-4.2 3.9-4.3 3.3-4.3 3-2.9 1.7-2.8 1.6-2.9 1.3-2.8 1.2-2.9 .9-2.9 .8-2.8 .6-2.9 .3-2.8 .2-2.9 0-2.8-.2-2.9-.4-2.8-.5-2.9-.8-2.9-1-2.8-1.1-2.9-1.4-2.8-1.5-2.9-1.8-4.3-2.9-4.3-3.4-4.2-3.8-4.3-4.3-4.3-4.7-4.3-5.1-4.3-5.6-4.3-6-4.2-6.4-4.3-6.9-2.9-4.8z" fill="#61cc31"/><path d="M74.5 133.9l3.5 5.8 2.6 3.8 2.6 3.3 2.6 3 2.7 2.5 2.6 2 1.7 1.2 1.8 .9 1.7 .8 1.8 .5 1.7 .4 1.8 .1 1.7 0 1.7-.2 1.8-.4 1.7-.6 1.8-.8 1.7-1 2.6-1.8 2.7-2.3 2.6-2.7 1.7-2 6 .9 6.6 .7 6.8 .4 6.7 .2 6.2 0 3.4 3.4 3.4 2.9 3.4 2.6 2.2 1.4 2.3 1.3 2.3 1.1 2.2 .8 2.3 .7 2.2 .5 2.3 .3 2.2 .1 2.3-.1 2.3-.3 2.2-.4 2.3-.7 2.2-.9 2.3-1 2.2-1.2 2.3-1.5 3.4-2.5 3.4-2.9 3.4-3.4 3.3-3.8 3.4-4.2 3.4-4.7 3.4-5.1 3.4-5.5 3.4-5.9 1.7-3-2.8 5.5-2.9 5.4-4.3 7.6-4.2 7.2-4.3 6.8-4.3 6.3-4.2 5.9-4.3 5.5-4.3 5-4.2 4.7-4.3 4.2-4.3 3.7-4.2 3.3-4.3 3-2.9 1.6-2.8 1.6-2.8 1.3-2.9 1.1-2.8 .9-2.9 .8-2.8 .5-2.9 .4-2.8 .1-2.9 0-2.8-.2-2.9-.4-2.8-.6-2.8-.8-2.9-1-2.8-1.1-2.9-1.4-2.8-1.5-2.9-1.8-4.2-2.9-4.3-3.4-4.3-3.9-4.2-4.2-4.3-4.7-4.3-5.1-4.2-5.6-4.3-6-4.3-6.4-4.2-6.8-2.9-4.8z" fill="#57cb37"/><path d="M74.5 133.9l3.4 5.7 2.6 3.8 2.6 3.3 2.6 2.9 2.6 2.5 2.5 2.1 2.6 1.6 1.7 .9 1.8 .6 1.7 .5 1.7 .3 1.7 .2 1.8-.1 1.7-.3 1.7-.4 1.7-.7 1.7-.8 2.6-1.6 2.6-2 2.6-2.4 2.6-2.8 6.7 1 6.6 .7 6.7 .5 6.7 .1 7.1 0 3.3 3.2 3.4 2.9 3.3 2.4 2.3 1.4 2.2 1.2 2.3 .9 2.2 .9 2.3 .6 2.2 .4 2.2 .2 2.3 .1 2.2-.1 2.3-.4 2.2-.5 2.2-.7 2.3-.9 2.2-1.1 2.3-1.2 3.3-2.3 3.4-2.7 3.3-3.1 3.4-3.5 3.4-4 3.3-4.4 3.4-4.8 3.4-5.3 3.3-5.6 1.1-2 2-3.3-2.9 5.5-2.8 5.3-4.3 7.6-4.3 7.2-4.3 6.7-4.3 6.3-4.3 5.9-4.3 5.4-4.3 5-4.3 4.6-4.2 4.1-4.3 3.7-4.3 3.3-2.9 1.9-2.8 1.8-2.9 1.5-2.9 1.4-2.8 1.1-2.9 1-2.8 .8-2.9 .5-2.9 .4-2.8 .2-2.9 0-2.8-.2-2.9-.3-2.9-.6-2.8-.8-2.9-.9-2.8-1.2-2.9-1.3-2.9-1.6-2.8-1.7-4.3-3-4.3-3.4-4.3-3.8-4.3-4.3-4.3-4.7-4.3-5.1-4.3-5.6-4.2-6-4.3-6.4-4.3-6.9-2.9-4.8z" fill="#4ecb3d"/><path d="M74.5 133.9l3.4 5.7 2.6 3.8 2.6 3.3 2.6 3 2.6 2.4 2.6 2.1 2.6 1.7 1.7 .8 1.8 .7 1.7 .5 1.7 .3 1.8 .1 1.7-.1 1.7-.3 1.7-.5 1.8-.6 1.7-.9 1.7-1 2.6-1.9 2.6-2.3 2.6-2.8 6.5 1 6.5 .8 6.6 .5 6.7 .2 6.7 0 2.3-.1 3.4 3.2 3.4 2.8 3.4 2.3 2.2 1.3 2.3 1.1 2.2 .9 2.3 .8 2.3 .5 2.2 .3 2.3 .2 2.2 0 2.3-.3 2.2-.4 2.3-.6 2.3-.8 2.2-1 2.3-1.2 2.2-1.4 3.4-2.4 3.4-2.9 3.4-3.3 3.4-3.7 3.4-4.2 3.4-4.5 3.3-5.1 3.4-5.4 2.3-3.9 2.2-3.6-2.9 5.5-4.3 7.8-4.2 7.3-4.3 7-4.3 6.5-4.2 6.1-4.3 5.6-4.3 5.2-4.3 4.8-4.2 4.4-4.3 3.9-4.3 3.5-4.3 3-2.8 1.8-2.9 1.7-2.8 1.4-2.9 1.2-2.8 1-2.9 .9-2.8 .6-2.8 .5-2.9 .3-2.8 .1-2.9-.2-2.8-.3-2.9-.5-2.8-.6-2.9-.9-2.8-1.1-2.9-1.2-2.8-1.5-2.9-1.6-4.3-2.9-4.2-3.2-4.3-3.7-4.3-4.1-4.3-4.6-4.2-4.9-4.3-5.5-4.3-5.8-4.2-6.3-4.3-6.7-4.3-7.1z" fill="#44cb43"/><path d="M74.5 133.9l3.5 5.7 2.6 3.8 2.6 3.4 2.6 2.9 2.6 2.5 2.6 2.1 1.7 1.1 1.8 .9 1.7 .8 1.7 .6 1.8 .3 1.7 .2 1.7 0 1.8-.2 1.7-.3 1.7-.6 1.8-.8 1.7-.9 2.6-1.8 2.6-2.2 2.6-2.7 6.3 1 6.4 .8 6.6 .6 6.6 .2 6.7 .1 4.3-.2 3.4 3.1 3.3 2.6 3.4 2.2 2.2 1.2 2.3 1 2.2 .9 2.2 .6 2.3 .5 2.2 .3 2.2 .1 2.3-.1 2.2-.3 2.2-.4 2.3-.7 2.2-.8 2.3-1.1 2.2-1.2 3.3-2.2 3.4-2.6 3.4-3 3.3-3.5 3.4-3.9 3.3-4.3 3.4-4.7 3.3-5.2 3.4-5.5 2.5-4-2.9 5.4-4.2 7.7-4.3 7.3-4.3 6.9-4.2 6.4-4.3 6-4.2 5.6-4.3 5.1-4.2 4.7-4.3 4.3-4.3 3.9-4.2 3.4-4.3 3-2.8 1.8-2.8 1.6-2.9 1.4-2.8 1.1-2.9 1.1-2.8 .8-2.8 .6-2.9 .4-2.8 .3-2.8 .1-2.9-.2-2.8-.3-2.9-.5-2.8-.7-2.8-.9-2.9-1.1-2.8-1.2-2.8-1.5-2.9-1.7-4.2-2.8-4.3-3.2-4.2-3.7-4.3-4.1-4.3-4.6-4.2-5-4.3-5.3-4.2-5.9-4.3-6.2-4.2-6.7-4.3-7.1z" fill="#3aca49"/><path d="M74.5 133.9l3.5 5.8 2.6 3.8 2.6 3.3 2.6 2.9 2.6 2.5 2.6 2.1 1.8 1.1 1.7 1 1.8 .7 1.7 .6 1.8 .4 1.7 .1 1.7 0 1.8-.2 1.7-.4 1.8-.6 1.7-.8 1.8-.9 2.6-1.9 2.6-2.2 1.7-1.7 6.1 1 6.4 .8 6.5 .6 6.6 .3 6.5 .1 6.4-.2 3.4 2.9 3.4 2.5 2.2 1.5 2.3 1.2 2.2 1.1 2.3 .8 2.2 .7 2.3 .5 2.2 .3 2.3 .1 2.2-.1 2.3-.3 2.2-.4 2.3-.7 2.2-.8 2.3-1.1 2.2-1.2 3.4-2.2 3.4-2.7 3.4-3 3.3-3.5 3.4-3.9 3.4-4.4 3.4-4.8 3.3-5.2 2.3-3.7 2.3-3.5-3.9 7.2-4.2 7.5-4.3 7.1-4.3 6.7-4.3 6.3-4.2 5.8-4.3 5.4-4.3 4.9-4.3 4.5-4.3 4.1-4.2 3.7-4.3 3.2-2.9 1.9-2.8 1.7-2.9 1.5-2.8 1.4-2.9 1.1-2.8 1-2.9 .7-2.8 .6-2.9 .4-2.8 .1-2.9 0-2.8-.2-2.9-.4-2.8-.6-2.9-.7-2.8-1-2.9-1.2-2.9-1.3-2.8-1.6-2.9-1.7-4.2-3-4.3-3.4-4.3-3.8-4.3-4.3-4.2-4.6-4.3-5.2-4.3-5.5-4.3-6-4.3-6.4-4.2-6.9-2.9-4.8z" fill="#30ca4f"/><path d="M74.5 133.9l3.4 5.7 3.4 4.9 2.6 3.2 2.6 2.7 2.6 2.4 2.5 1.9 1.7 1.1 1.8 .8 1.7 .7 1.7 .5 1.7 .3 1.7 .2 1.7-.1 1.8-.2 1.7-.5 1.7-.6 1.7-.8 2.6-1.5 2.5-2 2.6-2.4 7 1.2 6.3 .8 6.5 .6 6.5 .3 6.5 .1 6.6-.2 .8-.1 3.3 2.9 3.4 2.4 2.3 1.3 2.3 1.2 2.2 1 2.3 .8 2.3 .6 2.2 .4 2.3 .2 2.2 0 2.3-.2 2.3-.4 2.2-.5 2.3-.8 2.3-1 2.2-1.1 2.3-1.3 3.4-2.4 3.4-2.8 3.4-3.2 3.4-3.7 3.4-4.1 3.4-4.6 3.4-4.9 3.3-5.4 2.4-3.5 .7-1.2-2.8 5.3-4.3 7.6-4.3 7.2-4.2 6.7-4.3 6.3-4.2 5.9-4.3 5.5-4.3 5-4.2 4.6-4.3 4.1-4.3 3.8-4.2 3.3-4.3 2.9-2.8 1.6-2.9 1.5-2.8 1.3-2.8 1.1-2.9 1-2.8 .7-2.9 .5-2.8 .4-2.8 .1-2.9 0-2.8-.2-2.9-.4-2.8-.6-2.8-.8-2.9-1-2.8-1.2-2.9-1.3-2.8-1.6-2.8-1.7-4.3-3-4.3-3.4-4.2-3.8-4.3-4.3-4.3-4.7-4.2-5.1-4.3-5.5-4.2-6-4.3-6.4-4.3-6.8-2.8-4.8z" fill="#29c954"/><path d="M74.5 133.9l3.4 5.7 2.6 3.7 2.6 3.4 2.6 2.9 2.5 2.5 2.6 2 2.6 1.7 1.7 .9 1.7 .6 1.8 .5 1.7 .3 1.7 .2 1.7-.1 1.7-.3 1.8-.4 1.7-.6 1.7-.8 2.6-1.6 2.6-2 1.7-1.6 6.8 1.3 6.3 .8 6.4 .6 6.4 .4 6.5 .1 6.5-.2 2.9-.1 3.4 2.7 3.3 2.2 2.3 1.3 2.2 1.1 2.2 .9 2.3 .7 2.2 .5 2.2 .3 2.3 .2 2.2-.1 2.2-.2 2.3-.4 2.2-.6 2.3-.8 2.2-1 2.2-1.2 3.4-2.1 3.3-2.5 3.4-3 3.4-3.4 3.3-3.8 3.4-4.2 3.3-4.7 3.4-5.1 1.1-1.8 2.4-3.3 1-1.7-2.9 5.3-4.3 7.6-4.3 7.1-4.2 6.7-4.3 6.3-4.3 5.8-4.3 5.4-4.3 5-4.3 4.5-4.2 4.1-4.3 3.7-4.3 3.2-2.9 1.9-2.8 1.8-2.9 1.5-2.8 1.3-2.9 1.2-2.8 .9-2.9 .8-2.8 .6-2.9 .3-2.9 .2-2.8 0-2.9-.2-2.8-.4-2.9-.5-2.8-.8-2.9-1-2.8-1.1-2.9-1.4-2.9-1.5-2.8-1.8-4.3-2.9-4.3-3.4-4.3-3.9-4.2-4.2-4.3-4.7-4.3-5.1-4.3-5.6-4.3-6-4.3-6.4-4.2-6.9-2.9-4.8z" fill="#26c859"/><path d="M74.5 133.9l3.4 5.7 2.6 3.8 2.6 3.3 2.6 2.9 2.6 2.5 2.6 2.1 2.5 1.6 1.8 .9 1.7 .7 1.7 .4 1.7 .3 1.8 .2 1.7-.1 1.7-.3 1.7-.4 1.8-.7 1.7-.8 2.6-1.6 2.6-2 .8-.8 6.7 1.3 6.3 .9 6.3 .6 6.4 .4 6.4 .2 6.5-.1 5-.3 3.4 2.6 2.2 1.5 2.3 1.3 2.2 1.1 2.2 .9 2.3 .7 2.2 .5 2.3 .3 2.2 .2 2.3-.1 2.2-.2 2.3-.4 2.2-.6 2.3-.8 2.2-1 2.3-1.2 2.2-1.4 3.4-2.4 3.3-2.8 3.4-3.3 3.4-3.7 3.3-4.1 3.4-4.6 3.4-4.9 1.1-1.8 2.8-3.8 .9-1.6-4.2 7.8-4.3 7.3-4.3 6.9-4.2 6.5-4.3 6-4.3 5.6-4.2 5.2-4.3 4.8-4.3 4.3-4.2 3.9-4.3 3.4-4.3 3.1-2.8 1.8-2.8 1.6-2.9 1.4-2.8 1.2-2.9 1-2.8 .8-2.9 .7-2.8 .4-2.8 .3-2.9 .1-2.8-.2-2.9-.3-2.8-.5-2.9-.7-2.8-.9-2.9-1-2.8-1.3-2.8-1.5-2.9-1.6-4.2-2.8-4.3-3.3-4.3-3.7-4.2-4.1-4.3-4.5-4.3-5-4.2-5.4-4.3-5.8-4.3-6.3-4.2-6.7-4.3-7.1z" fill="#22c85e"/><path d="M74.5 133.9l3.4 5.7 2.6 3.8 2.6 3.3 2.6 2.9 2.6 2.5 2.6 2.1 2.6 1.6 1.7 .9 1.7 .7 1.8 .5 1.7 .3 1.7 .1 1.7-.1 1.8-.3 1.7-.4 1.7-.7 1.8-.8 1.7-1.1 2.6-1.8 .8-.8 6.7 1.4 6.2 .9 6.2 .7 6.4 .4 6.4 .2 6.4-.1 6.2-.3 .9-.1 3.4 2.5 2.2 1.4 2.3 1.2 2.2 1 2.3 .8 2.3 .7 2.2 .4 2.3 .2 2.2 .1 2.3-.1 2.2-.4 2.3-.5 2.2-.7 2.3-.9 2.2-1.1 2.3-1.3 3.4-2.2 3.4-2.8 3.3-3.1 3.4-3.6 3.4-4 3.4-4.4 3.4-4.9 1.1-1.7 2.6-3.3 1.5-2.5-4.3 7.8-4.3 7.3-4.3 6.8-4.3 6.4-4.3 6-4.2 5.6-4.3 5.1-4.3 4.7-4.3 4.3-4.3 3.8-4.3 3.4-4.3 3-2.8 1.7-2.9 1.5-2.8 1.4-2.9 1.1-2.9 1-2.8 .8-2.9 .6-2.8 .3-2.9 .2-2.8 0-2.9-.2-2.9-.3-2.8-.6-2.9-.8-2.8-1-2.9-1.1-2.8-1.4-2.9-1.5-2.9-1.7-4.2-3-4.3-3.4-4.3-3.8-4.3-4.3-4.3-4.7-4.3-5.1-4.3-5.6-4.3-6-4.2-6.4-4.3-6.9-2.9-4.8z" fill="#1ec763"/><path d="M74.5 133.9l3.4 5.7 2.6 3.8 2.6 3.3 2.6 2.9 2.6 2.5 2.6 2.1 2.6 1.7 1.7 .8 1.8 .7 1.7 .5 1.7 .3 1.7 .1 1.8-.1 1.7-.3 1.7-.5 1.8-.6 1.7-.9 1.7-1 2.6-1.9 6.7 1.4 6.1 .9 6.2 .7 6.3 .5 6.3 .2 6.4 0 6.3-.2 3-.3 3.4 2.4 2.2 1.3 2.3 1.1 2.2 .9 2.3 .7 2.2 .6 2.3 .3 2.3 .2 2.2 0 2.3-.3 2.2-.4 2.3-.6 2.3-.8 2.2-1 2.3-1.2 2.2-1.4 3.4-2.4 3.4-2.9 3.4-3.3 3.4-3.7 3.4-4.2 3.4-4.6 2.2-3.3 3.1-3.8 1.4-2.4-4.2 7.7-4.3 7.2-4.3 6.7-4.3 6.4-4.2 5.9-4.3 5.5-4.3 5-4.2 4.7-4.3 4.1-4.3 3.8-4.2 3.3-4.3 2.9-2.8 1.7-2.9 1.5-2.8 1.4-2.9 1.1-2.8 .9-2.9 .8-2.8 .5-2.9 .4-2.8 .1-2.9 0-2.8-.2-2.8-.4-2.9-.6-2.8-.8-2.9-1-2.8-1.1-2.9-1.4-2.8-1.5-2.9-1.8-4.2-2.9-4.3-3.4-4.3-3.9-4.2-4.2-4.3-4.7-4.3-5.1-4.2-5.6-4.3-6-4.3-6.4-4.2-6.8-2.9-4.8z" fill="#1ac769"/><path d="M74.5 133.9l3.4 5.7 2.6 3.8 2.6 3.3 2.6 3 2.6 2.4 2.6 2.1 2.6 1.7 1.7 .8 1.8 .7 1.7 .5 1.7 .3 1.8 .1 1.7-.1 1.7-.3 1.8-.5 1.7-.6 1.7-.9 1.8-1 1.7-1.2 6.7 1.4 6 1 6.2 .8 6.2 .5 6.3 .2 6.3 0 6.3-.2 5.1-.4 2.3 1.5 2.3 1.4 2.2 1.1 2.3 .9 2.3 .7 2.2 .6 2.3 .3 2.2 .2 2.3 0 2.3-.3 2.2-.4 2.3-.6 2.3-.8 2.2-1 2.3-1.2 2.3-1.4 3.4-2.4 3.3-2.9 3.4-3.3 3.4-3.8 3.4-4.1 3.4-4.7 1.2-1.6 2.8-3.3 2.1-3.3-4.3 7.6-4.3 7.2-4.3 6.7-4.3 6.3-4.3 5.9-4.3 5.4-4.3 5-4.3 4.6-4.2 4.1-4.3 3.7-4.3 3.3-2.9 1.9-2.8 1.8-2.9 1.5-2.9 1.4-2.8 1.1-2.9 1-2.8 .8-2.9 .5-2.9 .4-2.8 .2-2.9 0-2.8-.2-2.9-.3-2.9-.6-2.8-.8-2.9-.9-2.8-1.2-2.9-1.3-2.9-1.6-2.8-1.7-4.3-3-4.3-3.4-4.3-3.8-4.3-4.3-4.3-4.7-4.3-5.1-4.3-5.6-4.2-6-4.3-6.4-4.3-6.9-2.9-4.8z" fill="#16c66e"/><path d="M74.5 133.9l3.4 5.7 2.6 3.8 2.6 3.3 2.6 3 2.6 2.4 2.6 2.1 2.6 1.7 1.7 .8 1.8 .7 1.7 .5 1.7 .3 1.8 .1 1.7-.1 1.7-.3 1.7-.5 1.8-.6 1.7-.9 1.7-1 .9-.6 5.9 1.4 6.9 1.1 6.1 .8 6.1 .6 6.3 .3 6.2 0 6.3-.1 6.1-.5 1.3-.1 2.2 1.4 2.3 1.2 2.3 1.1 2.2 .8 2.3 .6 2.3 .5 2.2 .2 2.3 .1 2.2-.1 2.3-.4 2.3-.5 2.2-.7 2.3-.9 2.3-1.1 2.2-1.3 3.4-2.3 3.4-2.7 3.4-3.2 3.4-3.6 3.4-4 3.4-4.5 1.1-1.5 3.4-3.9 1.6-2.5-3.9 6.9-4.2 7-4.3 6.7-4.3 6.2-4.3 5.8-4.2 5.3-4.3 4.9-4.3 4.5-4.2 4.1-4.3 3.6-4.3 3.2-2.8 1.9-2.9 1.7-2.8 1.5-2.9 1.3-2.8 1.2-2.9 .9-2.8 .8-2.9 .5-2.8 .4-2.9 .1-2.8 0-2.9-.2-2.8-.4-2.8-.6-2.9-.8-2.8-.9-2.9-1.2-2.8-1.4-2.9-1.5-2.8-1.7-4.3-3-4.3-3.4-4.2-3.8-4.3-4.3-4.3-4.7-4.3-5.1-4.2-5.6-4.3-5.9-4.3-6.5-4.2-6.8-2.9-4.8z" fill="#12c573"/><path d="M74.5 133.9l3.4 5.7 2.6 3.8 2.6 3.3 2.6 2.9 2.6 2.5 2.6 2.1 2.6 1.6 1.7 .9 1.7 .7 1.8 .5 1.7 .3 1.7 .1 1.8-.1 1.7-.3 1.7-.5 1.7-.6 1.8-.8 1.7-1.1 6.1 1.5 6.8 1.2 6 .8 6.1 .6 6.2 .3 6.2 .1 6.2-.1 6.1-.4 3.6-.3 2.2 1.3 2.3 1.1 2.2 .9 2.3 .8 2.3 .5 2.2 .3 2.3 .2 2.2 0 2.3-.3 2.2-.4 2.3-.6 2.3-.8 2.2-1 2.3-1.2 2.2-1.4 3.4-2.4 3.4-2.9 3.4-3.3 3.4-3.7 3.4-4.2 2.2-3 3.2-3.5 2.4-3.4-3.9 6.9-4.3 6.9-4.2 6.6-4.3 6.1-4.2 5.7-4.3 5.3-4.2 4.8-4.3 4.4-4.2 4-4.3 3.6-4.2 3.1-4.3 2.7-2.8 1.6-2.9 1.4-2.8 1.2-2.8 1-2.9 .8-2.8 .6-2.8 .5-2.9 .2-2.8 .1-2.8-.2-2.9-.3-2.8-.5-2.9-.7-2.8-.9-2.8-1.1-2.9-1.3-2.8-1.4-2.8-1.7-4.3-2.8-4.2-3.3-4.3-3.7-4.2-4.1-4.3-4.5-4.2-5-4.3-5.4-4.2-5.8-4.3-6.2-4.2-6.7-4.3-7.1z" fill="#0fc578"/><path d="M74.5 133.9l3.4 5.7 2.6 3.8 2.6 3.3 2.6 2.9 2.6 2.5 2.6 2.1 2.5 1.6 1.8 .9 1.7 .7 1.7 .4 1.7 .3 1.8 .2 1.7-.1 1.7-.3 1.7-.4 1.8-.7 1.7-.8 .8-.5 6.4 1.6 6.7 1.2 6.9 1 6.1 .6 6.1 .3 6.2 .1 6.1-.1 6.1-.4 4.9-.5 2.2 1.2 2.3 1 2.2 .8 2.3 .7 2.2 .4 2.3 .2 2.2 .1 2.3-.1 2.2-.4 2.3-.5 2.2-.7 2.3-.9 2.2-1.1 2.3-1.3 3.4-2.2 3.3-2.7 3.4-3.2 3.4-3.5 3.4-4 2.2-2.9 3.1-3.2 2.8-3.8-3.7 6.4-4.3 7-4.3 6.5-4.2 6.1-4.3 5.6-4.3 5.2-4.3 4.8-4.2 4.4-4.3 3.9-4.3 3.5-4.3 3-2.8 1.8-2.9 1.7-2.8 1.4-2.8 1.2-2.9 1-2.8 .9-2.9 .6-2.8 .5-2.9 .3-2.8 .1-2.9-.2-2.8-.3-2.9-.5-2.8-.6-2.9-.9-2.8-1.1-2.9-1.2-2.8-1.5-2.9-1.6-4.3-2.9-4.2-3.2-4.3-3.7-4.3-4.1-4.3-4.6-4.2-4.9-4.3-5.5-4.3-5.8-4.2-6.3-4.3-6.7-4.3-7.1z" fill="#0cc37d"/><path d="M74.5 133.9l3.4 5.7 2.6 3.7 2.6 3.4 2.5 2.9 2.6 2.5 2.6 2 2.6 1.7 1.7 .8 1.7 .7 1.7 .5 1.7 .3 1.7 .2 1.8-.1 1.7-.3 1.7-.4 1.7-.6 1.7-.8 6.7 1.7 6.7 1.3 6.8 1 6 .6 6 .4 6.1 .1 6.1-.1 6.1-.3 6-.6 1.3-.2 2.2 1.1 2.3 .9 2.2 .7 2.2 .5 2.3 .4 2.2 .1 2.2-.1 2.3-.2 2.2-.4 2.2-.6 2.3-.8 2.2-1 2.2-1.2 3.4-2.1 3.3-2.5 3.4-3 3.3-3.4 3.4-3.8 2.2-2.7 3.8-3.8 2.7-3.7-3.7 6.3-4.2 6.9-4.3 6.4-4.2 6-4.3 5.5-4.3 5.2-4.2 4.7-4.3 4.3-4.2 3.8-4.3 3.5-4.2 3-2.9 1.7-2.8 1.6-2.8 1.4-2.9 1.2-2.8 1-2.8 .8-2.9 .6-2.8 .5-2.8 .2-2.9 .1-2.8-.2-2.9-.3-2.8-.5-2.8-.7-2.9-.9-2.8-1.1-2.8-1.3-2.9-1.4-2.8-1.7-4.3-2.8-4.2-3.3-4.3-3.7-4.2-4.1-4.3-4.5-4.2-5-4.3-5.4-4.2-5.8-4.3-6.2-4.2-6.7-4.3-7.1z" fill="#0ac284"/><path d="M74.5 134l3.5 5.7 2.6 3.8 2.7 3.4 2.6 2.9 2.6 2.5 2.6 2.1 1.8 1.1 1.7 .9 1.8 .8 1.7 .5 1.8 .4 1.7 .1 1.8 0 1.7-.2 1.7-.4 1.8-.6 .9-.4 6.2 1.7 6.5 1.3 6.7 1.1 6.9 .8 6 .4 6 .2 6.1-.1 6-.3 6.9-.6 2.9-.4 2.2 1 2.3 .8 2.3 .6 2.2 .4 2.3 .2 2.2 0 2.3-.2 2.3-.4 2.2-.5 2.3-.8 2.3-1 2.2-1.1 2.3-1.3 3.4-2.4 3.4-2.8 3.4-3.2 3.4-3.7 2.2-2.7 3.7-3.5 3-3.7 1.1-1.7-4.3 7.2-4.3 6.8-4.2 6.4-4.3 5.9-4.3 5.5-4.3 5.1-4.2 4.7-4.3 4.2-4.3 3.8-4.3 3.3-4.2 2.9-2.9 1.7-2.8 1.6-2.9 1.3-2.8 1.1-2.9 1-2.8 .7-2.9 .6-2.8 .4-2.9 .1-2.8 0-2.9-.2-2.8-.4-2.9-.6-2.8-.7-2.9-1-2.8-1.2-2.9-1.3-2.8-1.6-2.9-1.7-4.2-3-4.3-3.4-4.3-3.8-4.3-4.2-4.2-4.7-4.3-5.2-4.3-5.5-4.3-6-4.2-6.4-4.3-6.8-2.9-4.8z" fill="#08c08a"/><path d="M75.2 135.2l3 4.9 2.6 3.7 2.6 3.3 2.6 2.8 2.6 2.5 2.5 2 2.6 1.6 1.7 .8 1.8 .6 1.7 .5 1.7 .3 1.7 .1 1.7-.1 1.8-.3 1.7-.5 .8-.3 5.8 1.6 6.4 1.5 6.6 1.1 6.8 .9 6.9 .5 7 .2 7-.1 7-.4 6.8-.7 2.5-.3 2.3 .8 2.2 .7 2.2 .4 2.2 .3 2.3 .1 2.2-.1 2.2-.3 2.3-.4 2.2-.7 2.2-.8 2.2-1.1 2.3-1.2 3.3-2.2 3.4-2.6 3.3-3 3.3-3.4 2.3-2.5 3.7-3.3 3.1-3.7 1.7-2.5-4.3 7.1-4.3 6.8-4.2 6.3-4.3 5.8-4.3 5.5-4.3 5-4.2 4.6-4.3 4.1-4.3 3.7-4.3 3.3-4.2 2.9-2.9 1.6-2.8 1.5-2.9 1.3-2.8 1.1-2.9 .9-2.8 .7-2.9 .5-2.8 .3-2.9 .2-2.8-.1-2.9-.3-2.8-.4-2.9-.6-2.8-.9-2.9-1-2.8-1.2-2.9-1.4-2.8-1.6-2.9-1.8-4.3-3-4.2-3.5-4.3-3.9-4.3-4.3-4.3-4.8-4.2-5.2-4.3-5.6-4.3-6-4.3-6.5-4.2-6.9-1.5-2.5z" fill="#06be90"/><path d="M75.9 136.4l3.6 5.5 2.6 3.5 2.6 3.1 2.5 2.7 2.6 2.2 2.6 1.8 1.8 1 1.7 .8 1.7 .6 1.7 .4 1.8 .2 1.7 0 1.7-.1 1.8-.4 .8-.2 6.5 1.9 6.2 1.5 6.6 1.2 6.7 .9 6.8 .5 6.9 .3 7 0 6.9-.4 6.7-.7 5.3-.7 2.2 .7 2.3 .5 2.2 .3 2.3 .2 2.2-.1 2.2-.2 2.3-.4 2.2-.6 2.3-.8 2.2-1 2.2-1.2 3.4-2.1 3.4-2.5 3.3-3 3.4-3.4 1.1-1.2 3.8-3.2 3.3-3.6 2.3-3.3-4.3 7.1-4.3 6.6-4.2 6.3-4.3 5.8-4.3 5.3-4.3 5-4.2 4.5-4.3 4.1-4.3 3.6-4.3 3.2-2.8 1.9-2.9 1.7-2.8 1.6-2.9 1.3-2.8 1.1-2.9 1-2.8 .7-2.9 .6-2.8 .4-2.9 .1-2.8 0-2.9-.2-2.8-.4-2.9-.6-2.8-.7-2.9-1-2.8-1.2-2.9-1.3-2.8-1.6-2.9-1.7-4.3-3-4.2-3.4-4.3-3.8-4.3-4.3-4.3-4.7-4.2-5.1-4.3-5.5-4.3-6-4.3-6.4-4.2-6.9-1.5-2.4z" fill="#05bc96"/><path d="M76.6 137.6l3.3 4.9 2.6 3.5 2.6 3 2.6 2.6 2.6 2.1 2.6 1.8 1.7 .9 1.7 .8 1.7 .5 1.8 .4 1.7 .1 1.7 0 1.7-.2 .9-.1 6.4 1.9 6.1 1.6 6.4 1.3 6.6 .9 6.8 .7 6.8 .3 6.9 .1 6.8-.3 6.8-.6 6.6-.9 2.4-.4 2.3 .6 2.2 .4 2.2 .2 2.3 0 2.2-.2 2.2-.4 2.3-.5 2.2-.8 2.2-.9 2.3-1.2 2.2-1.3 3.4-2.3 3.3-2.8 3.4-3.1 1.1-1.2 4.9-4 3.2-3.5 2.3-3.2-4.3 7-4.3 6.6-4.2 6.1-4.3 5.8-4.3 5.3-4.3 4.9-4.2 4.4-4.3 4-4.3 3.6-4.3 3.1-2.8 1.9-2.9 1.6-2.8 1.5-2.9 1.3-2.8 1.1-2.9 .9-2.8 .7-2.9 .5-2.8 .3-2.9 .2-2.8-.1-2.9-.3-2.8-.4-2.9-.6-2.8-.9-2.9-1-2.8-1.2-2.9-1.4-2.8-1.6-2.9-1.8-4.3-3-4.2-3.5-4.3-3.9-4.3-4.3-4.3-4.8-4.3-5.2-4.2-5.6-4.3-6.1-4.3-6.5-4.3-6.9z" fill="#03ba9c"/><path d="M77.3 138.8l4.1 5.7 2.5 3.2 2.6 2.7 2.5 2.3 2.6 2 2.5 1.5 1.7 .8 1.7 .6 1.7 .4 1.7 .2 1.7 .1 1.7-.2 6.5 2.2 6 1.6 6.3 1.3 6.5 1 6.6 .8 6.8 .4 6.8 .2 6.8-.2 6.7-.5 6.6-.8 6.4-1.1 2.2 .4 2.2 .3 2.2 0 2.2-.2 2.2-.3 2.2-.5 2.2-.7 2.3-.9 2.2-1 3.3-2 3.3-2.3 3.3-2.8 2.2-2.1 4.3-3.1 3.6-3.4 2.8-3.6 .9-1.3-4.3 6.9-4.3 6.5-4.3 6.1-4.2 5.7-4.3 5.2-4.3 4.8-4.3 4.4-4.2 3.9-4.3 3.5-4.3 3.1-2.8 1.8-2.9 1.6-2.8 1.5-2.9 1.2-2.8 1-2.9 .9-2.8 .6-2.9 .5-2.8 .3-2.9 .1-2.9-.2-2.8-.3-2.9-.4-2.8-.7-2.9-.9-2.8-1.1-2.9-1.2-2.8-1.5-2.9-1.6-4.2-2.8-4.3-3.3-4.3-3.7-4.3-4.1-4.2-4.6-4.3-4.9-4.3-5.4-4.3-5.9-4.2-6.3-4.3-6.7-1.5-2.3z" fill="#01b9a3"/><path d="M78 140l3 4.1 2.9 3.5 2.5 2.8 2.6 2.3 2.6 2 2.5 1.5 1.8 .8 1.7 .6 1.7 .4 1.7 .2 1.7 .1 6 2.1 5.8 1.7 6.1 1.5 6.4 1.1 6.5 .9 6.7 .5 6.7 .3 6.7 0 6.7-.4 6.6-.6 6.5-1 5-1 2.3 .3 2.2 0 2.2-.2 2.2-.3 2.2-.5 2.2-.7 2.3-.9 2.2-1 3.3-2 3.3-2.4 3.4-2.7 4.8-3.4 3.7-3.3 3-3.5 1.5-2.1-4.3 6.9-4.3 6.4-4.3 6-4.2 5.6-4.3 5.2-4.3 4.7-4.3 4.3-4.3 3.8-4.2 3.5-4.3 3-2.9 1.7-2.8 1.6-2.9 1.4-2.8 1.2-2.9 1-2.8 .8-2.9 .6-2.8 .4-2.9 .2-2.8 0-2.9-.1-2.8-.4-2.9-.5-2.8-.7-2.9-1-2.8-1.1-2.9-1.3-2.8-1.5-2.9-1.7-4.2-2.9-4.3-3.3-4.3-3.7-4.3-4.2-4.3-4.7-4.2-5-4.3-5.5-4.3-5.9-4.3-6.3-4.2-6.8z" fill="#00b7a9"/><path d="M78.8 141.2l2.5 3.6 4.6 5 2.6 2.5 2.6 2.1 1.8 1.1 1.7 .9 1.8 .8 1.7 .5 1.7 .4 .9 .1 6 2.3 6.5 2.1 5.9 1.5 6.3 1.2 6.4 .9 6.6 .7 6.6 .3 6.7 .1 6.6-.3 6.6-.6 6.4-.8 6.3-1.2 3.4-.7 2.3 0 2.2-.2 2.3-.4 2.2-.5 2.3-.8 2.3-1 2.2-1.1 2.3-1.3 3.4-2.4 1.1-.9 5.2-3.3 4.4-3.6 3.2-3.5 2-2.8-4.3 6.8-4.2 6.4-4.3 5.9-4.3 5.5-4.3 5.1-4.2 4.6-4.3 4.3-4.3 3.8-4.3 3.3-4.2 2.9-2.9 1.7-2.8 1.6-2.9 1.3-2.8 1.1-2.9 1-2.8 .7-2.9 .6-2.8 .4-2.9 .1-2.8 0-2.9-.2-2.8-.4-2.9-.6-2.8-.7-2.9-1-2.8-1.2-2.9-1.3-2.8-1.6-2.9-1.7-4.3-3-4.2-3.4-4.3-3.8-4.3-4.3-4.3-4.7-4.2-5.1-4.3-5.5-4.3-6-4.3-6.4-2.8-4.5z" fill="#00b4af"/><path d="M79.5 142.4l2.8 3.9 2.9 2.9 3.1 2.9 2.5 2 2.4 1.6 2.5 1.2 1.6 .6 .9 .2 5.9 2.6 6.1 2.2 6.7 1.9 6 1.3 6.3 1 6.5 .8 6.5 .5 6.6 .1 6.6-.1 6.6-.4 6.4-.7 6.3-1.1 6-1.2 3.6-1 2.2-.2 2.1-.5 2.1-.5 3.2-1.3 3.2-1.5 3.2-2 5.7-3.3 4.8-3.5 3.5-3.3 2.7-3.4-3.6 5.7-4.3 6.3-4.2 5.9-4.3 5.4-4.3 5-4.3 4.6-4.2 4.1-4.3 3.8-4.3 3.2-4.2 2.9-2.9 1.6-2.8 1.5-2.9 1.3-2.8 1.1-2.9 .9-2.8 .7-2.9 .5-2.8 .3-2.9 .2-2.8-.1-2.9-.3-2.8-.4-2.9-.6-2.8-.9-2.9-1-2.8-1.2-2.9-1.4-2.8-1.6-2.9-1.8-4.3-3-4.2-3.5-4.3-3.9-4.3-4.3-4.2-4.8-4.3-5.1-4.3-5.7-4.3-6-4.2-6.5-1.5-2.2z" fill="#00b2b5"/><path d="M80.3 143.7l2.7 3.6 3.3 3.4 5.1 3.9 5.5 3.2 5.4 2.6 6 2.2 6.4 2 5.9 1.4 6.1 1.2 6.3 .9 6.5 .6 6.5 .3 6.6 0 6.5-.3 6.4-.6 6.3-.9 6.1-1.2 5.8-1.4 6.3-2 5.9-2.3 6-2.9 5.2-3.2 4.9-3.9 3.1-3.4 1.8-2.6-4.2 6.6-4.3 6.3-4.3 5.7-4.2 5.4-4.3 4.9-4.3 4.5-4.3 4.1-4.2 3.6-4.3 3.3-2.8 1.8-2.9 1.8-2.8 1.5-2.9 1.3-2.8 1.1-2.9 1-2.8 .7-2.9 .6-2.8 .4-2.9 .1-2.8 0-2.9-.2-2.8-.4-2.9-.6-2.8-.7-2.9-1-2.8-1.2-2.9-1.3-2.8-1.6-2.9-1.7-4.2-3-4.3-3.3-4.3-3.9-4.2-4.2-4.3-4.7-4.3-5.1-4.3-5.6-4.2-5.9-4.3-6.4-1.4-2.3z" fill="#00b0bb"/><path d="M81 144.9l2.6 3.5 3.3 3.3 5.1 3.9 5.4 3.1 6.1 2.9 6 2.2 6.3 1.9 5.9 1.4 6.1 1.1 6.3 .8 6.4 .6 6.5 .2 6.4 0 6.5-.4 6.3-.6 6.2-.9 6-1.2 6.6-1.7 6.1-2 5.7-2.3 5.8-3 5-3.3 4.6-3.9 2.9-3.4 1.1-1.6-4.3 6.6-4.2 6.1-4.3 5.7-4.3 5.3-4.3 4.8-4.2 4.5-4.3 4-4.3 3.5-4.2 3.2-2.9 1.8-2.8 1.7-2.9 1.4-2.8 1.3-2.9 1.1-2.8 .9-2.9 .7-2.8 .5-2.8 .3-2.9 .2-2.8-.1-2.9-.3-2.8-.4-2.9-.6-2.8-.9-2.9-1-2.8-1.2-2.9-1.4-2.8-1.6-2.8-1.7-4.3-3.1-4.3-3.4-4.3-3.9-4.2-4.3-4.3-4.8-4.3-5.2-4.2-5.6-4.3-6-4.3-6.5z" fill="#00aec2"/><path d="M81.8 146.1l2.5 3.4 4.2 4 5.2 3.8 5.5 3.1 6.2 2.7 6 2.1 6.4 1.8 5.9 1.3 6.1 1 6.2 .8 6.4 .4 6.4 .2 6.4-.1 6.4-.5 6.2-.7 6.1-.9 5.9-1.3 6.4-1.7 5.9-2.1 6.2-2.7 5.4-3.1 5.2-3.7 3.8-3.6 2.7-3.6-4.2 6.5-4.3 6-4.3 5.7-4.2 5.2-4.3 4.7-4.3 4.4-4.2 3.9-4.3 3.5-4.3 3-2.8 1.8-2.8 1.7-2.9 1.4-2.8 1.2-2.9 1-2.8 .9-2.9 .6-2.8 .5-2.9 .3-2.8 .1-2.8-.2-2.9-.3-2.8-.4-2.9-.7-2.8-.9-2.9-1.1-2.8-1.2-2.9-1.5-2.8-1.6-4.3-2.8-4.2-3.2-4.3-3.7-4.3-4.1-4.2-4.5-4.3-5-4.3-5.4-4.2-5.8-4.3-6.2-1.4-2.2z" fill="#00acc8"/><path d="M82.5 147.3l2.8 3.6 3.8 3.7 5.2 3.7 5.4 3 6.1 2.7 6 2.1 6.3 1.8 6.7 1.4 6.1 1 6.2 .7 6.3 .4 6.3 .1 6.4-.1 6.2-.5 6.2-.7 6-1 6.6-1.5 6.2-1.8 5.8-2.2 5.9-2.7 5.3-3.1 4.9-3.7 3.5-3.7 2-2.6-4.3 6.4-4.3 6-4.2 5.5-4.3 5.1-4.2 4.7-4.3 4.3-4.3 3.8-4.2 3.5-4.3 2.9-2.8 1.8-2.9 1.5-2.8 1.4-2.9 1.2-2.8 1-2.8 .8-2.9 .6-2.8 .4-2.9 .2-2.8 0-2.9-.1-2.8-.4-2.8-.5-2.9-.7-2.8-.9-2.9-1.1-2.8-1.3-2.8-1.5-2.9-1.7-4.2-2.9-4.3-3.3-4.3-3.7-4.2-4.2-4.3-4.6-4.3-5-4.2-5.4-4.3-5.9-4.2-6.3z" fill="#00a9ce"/><path d="M83.3 148.5l2.7 3.5 3.8 3.6 5.1 3.7 5.3 3 6.1 2.6 5.9 2.1 6.3 1.8 6.6 1.4 5.9 1 6.2 .6 6.2 .4 6.3 .2 6.3-.2 6.2-.4 6.1-.8 5.9-1 6.5-1.4 6.2-1.8 5.7-2.1 5.9-2.8 5.2-3 4.8-3.7 3.5-3.6 1.9-2.5-4.3 6.3-4.2 5.9-4.3 5.5-4.2 5-4.3 4.6-4.3 4.2-4.2 3.8-4.3 3.3-4.2 2.9-2.9 1.7-2.8 1.5-2.8 1.3-2.9 1.2-2.8 .9-2.9 .7-2.8 .6-2.8 .4-2.9 .1-2.8 0-2.9-.2-2.8-.4-2.8-.6-2.9-.7-2.8-1-2.8-1.1-2.9-1.4-2.8-1.5-2.9-1.7-4.2-3-4.3-3.3-4.2-3.8-4.3-4.3-4.3-4.6-4.2-5.1-4.3-5.5-4.2-5.9-2.9-4.2z" fill="#00a7d3"/><path d="M84.1 149.7l3 3.8 4.2 3.9 5.3 3.5 5.5 2.9 6.1 2.6 5.9 2 6.3 1.6 6.6 1.4 6 .8 6.1 .6 6.2 .3 6.2 .1 6.2-.3 6.1-.5 6-.8 6.6-1.2 6.3-1.6 5.9-1.9 6.2-2.5 5.5-2.8 5.3-3.5 3.9-3.5 3.4-3.9-4.1 5.8-4.2 5.8-4.3 5.4-4.2 5-4.3 4.5-4.2 4.1-4.3 3.7-4.2 3.2-4.3 2.9-2.8 1.6-2.8 1.5-2.9 1.2-2.8 1.1-2.9 .9-2.8 .7-2.8 .5-2.9 .3-2.8 .2-2.8-.1-2.9-.3-2.8-.4-2.8-.6-2.9-.8-2.8-1.1-2.8-1.1-2.9-1.4-2.8-1.6-4.3-2.7-4.2-3.2-4.3-3.6-4.2-4-4.3-4.4-4.2-4.8-4.3-5.3-4.2-5.7-4.3-6.2z" fill="#01a4d7"/><path d="M84.9 150.9l2.9 3.6 4.2 3.9 5.2 3.5 5.4 2.9 6 2.5 5.9 2 6.2 1.6 6.5 1.3 6.8 1 6 .5 6.2 .3 6.1 0 6.1-.3 6.1-.5 6.7-1 6.5-1.3 6.1-1.7 5.8-1.9 5.9-2.5 5.4-2.9 5-3.6 3.7-3.4 2.3-2.8-3.8 5.5-4.3 5.8-4.2 5.3-4.3 4.8-4.2 4.5-4.3 4-4.2 3.6-4.3 3.2-4.2 2.7-2.9 1.6-2.8 1.4-2.8 1.2-2.8 1.1-2.9 .8-2.8 .6-2.8 .5-2.9 .3-2.8 .1-2.8-.2-2.9-.2-2.8-.5-2.8-.7-2.9-.9-2.8-1-2.8-1.3-2.9-1.4-2.8-1.6-4.2-2.8-4.3-3.2-4.2-3.6-4.3-4.1-4.2-4.5-4.3-4.9-4.2-5.3-4.3-5.8-2.8-4.1z" fill="#02a2db"/><path d="M85.7 152.1l2.8 3.5 4.1 3.8 5.1 3.5 5.4 2.8 6 2.5 5.8 1.9 6.1 1.7 6.5 1.3 6.7 .9 5.9 .5 6.1 .3 6.1 0 6-.2 6.8-.7 6.6-1 6.4-1.3 6-1.7 6.4-2.2 5.7-2.6 5.6-3.3 4.7-3.6 3.8-3.8 1.2-1.7-4.3 6.1-4.3 5.7-4.3 5.3-4.3 4.8-4.3 4.4-4.2 3.9-4.3 3.6-4.3 3.1-2.9 1.8-2.8 1.6-2.9 1.4-2.8 1.3-2.9 1-2.9 .9-2.8 .6-2.9 .5-2.8 .3-2.9 .1-2.9-.2-2.8-.3-2.9-.4-2.8-.7-2.9-.9-2.9-1.1-2.8-1.3-2.9-1.4-2.8-1.7-2.9-1.8-4.3-3.1-4.3-3.6-4.3-4-4.2-4.4-4.3-4.9-4.3-5.3-4.3-5.7-2.9-4.1z" fill="#029fe0"/><path d="M86.5 153.3l3 3.7 3.8 3.4 5 3.4 6 3.1 5.9 2.5 5.8 1.8 6.1 1.6 6.4 1.2 6.7 .9 6.7 .6 6.9 .2 6.8-.2 6.8-.5 6.6-.8 6.4-1.2 6.1-1.6 5.8-1.8 5.9-2.4 5.4-2.8 5.1-3.3 3.8-3.3 3.2-3.9-4.3 6-4.3 5.6-4.3 5.2-4.3 4.7-4.2 4.3-4.3 3.9-4.3 3.4-4.3 3.1-2.8 1.7-2.9 1.6-2.8 1.4-2.9 1.2-2.8 1-2.9 .8-2.9 .6-2.8 .4-2.9 .2-2.8 0-2.9-.1-2.8-.4-2.9-.5-2.8-.7-2.9-1-2.8-1.1-2.9-1.3-2.8-1.5-2.9-1.7-4.3-2.9-4.3-3.3-4.2-3.8-4.3-4.2-4.3-4.6-4.3-5.1-4.3-5.5-4.2-5.9z" fill="#039de4"/><path d="M87.4 154.5l2.8 3.5 4.7 4.1 5.1 3.3 5.4 2.7 6 2.4 5.7 1.8 6.1 1.5 6.4 1.2 6.6 .8 6.7 .5 6.7 .2 6.8-.2 6.7-.5 6.5-.9 6.3-1.3 6-1.5 6.3-2.1 5.7-2.5 5.7-3.1 4.7-3.4 3.9-3.7 1.6-2.2-4.2 5.9-4.3 5.5-4.3 5.1-4.2 4.7-4.3 4.2-4.3 3.8-4.3 3.3-4.2 2.9-2.9 1.8-2.8 1.5-2.9 1.3-2.8 1.1-2.9 1-2.8 .7-2.9 .6-2.8 .4-2.9 .1-2.8 0-2.9-.2-2.8-.4-2.9-.6-2.8-.7-2.9-1-2.8-1.2-2.9-1.3-2.8-1.6-2.9-1.7-4.2-3-4.3-3.4-4.3-3.8-4.3-4.2-4.2-4.7-4.3-5.1-4.3-5.6-2.8-3.9z" fill="#049ae8"/><path d="M88.2 155.8l3.1 3.7 4.2 3.6 5.1 3.3 6 2.9 5.9 2.3 6.5 2 6.1 1.4 6.3 1.1 6.6 .7 6.6 .4 6.7 .1 6.7-.3 6.5-.6 6.4-1 6.2-1.3 5.8-1.6 6.1-2.1 5.5-2.5 5.5-3.2 4.5-3.4 3.6-3.8 .9-1.2-4.3 5.8-4.2 5.5-4.3 4.9-4.2 4.6-4.3 4.1-4.3 3.7-4.2 3.3-4.3 2.8-2.8 1.7-2.9 1.4-2.8 1.3-2.9 1.1-2.8 .9-2.9 .7-2.8 .5-2.8 .3-2.9 .2-2.8-.1-2.9-.3-2.8-.4-2.9-.6-2.8-.9-2.8-1-2.9-1.2-2.8-1.4-2.9-1.6-2.8-1.7-4.3-3-4.2-3.5-4.3-3.9-4.3-4.3-4.2-4.7-4.3-5.2-4.3-5.6-1.4-1.9z" fill="#0498ec"/><path d="M89 157l3 3.5 4.2 3.6 5 3.2 5.9 2.9 5.9 2.3 6.4 1.9 6 1.4 6.2 1.1 6.5 .7 6.6 .4 6.6 .1 6.5-.3 6.5-.6 6.3-.9 6.1-1.3 6.5-1.8 5.9-2.2 6-2.8 5.2-3.2 4.3-3.4 3.3-3.7-4 5.3-4.3 5.4-4.2 4.8-4.3 4.5-4.2 4-4.3 3.7-4.2 3.1-4.3 2.8-2.8 1.6-2.8 1.4-2.9 1.2-2.8 1.1-2.9 .8-2.8 .6-2.8 .5-2.9 .3-2.8 .1-2.8-.2-2.9-.2-2.8-.5-2.8-.7-2.9-.9-2.8-1-2.9-1.3-2.8-1.4-2.8-1.6-4.3-2.8-4.2-3.3-4.3-3.6-4.2-4.1-4.3-4.5-4.2-4.9-4.3-5.4-2.8-3.8z" fill="#0595f0"/><path d="M89.9 158.2l3.2 3.7 4.7 3.8 5.2 3.2 5.9 2.8 5.9 2.1 6.4 1.9 6 1.2 6.2 1 6.4 .7 6.5 .3 6.6 0 6.4-.4 6.4-.7 6.2-1 5.9-1.3 6.3-1.9 5.7-2.2 5.8-2.9 5.4-3.5 4.3-3.9 2-2.4-4.3 5.6-4.2 5.3-4.2 4.8-4.3 4.3-4.2 4-4.3 3.5-4.2 3.1-4.3 2.6-2.8 1.6-2.8 1.3-2.8 1.2-2.9 1-2.8 .8-2.8 .6-2.9 .4-2.8 .2-2.8 0-2.8-.1-2.9-.3-2.8-.6-2.8-.7-2.9-.9-2.8-1.1-2.8-1.3-2.8-1.5-2.9-1.6-4.2-2.9-4.2-3.3-4.3-3.7-4.2-4.1-4.3-4.5-4.2-5-4.3-5.4-1.4-1.9z" fill="#0593f3"/><path d="M90.8 159.4l3.1 3.5 4.6 3.8 5.6 3.4 5.9 2.7 5.9 2.1 6.4 1.8 5.9 1.2 6.2 .9 6.4 .6 6.4 .3 6.4-.1 6.4-.4 6.2-.7 6.1-1 6.5-1.6 6.1-1.9 5.6-2.3 5.5-2.8 5.1-3.6 4.1-3.9 1.2-1.5-4.3 5.6-4.3 5.2-4.2 4.7-4.3 4.3-4.3 3.9-4.3 3.4-4.3 3-2.8 1.8-2.9 1.6-2.8 1.4-2.9 1.2-2.8 1-2.9 .8-2.9 .6-2.8 .4-2.9 .2-2.8 0-2.9-.1-2.8-.4-2.9-.5-2.8-.7-2.9-1-2.8-1.1-2.9-1.3-2.9-1.5-2.8-1.7-4.3-2.9-4.3-3.3-4.3-3.8-4.2-4.2-4.3-4.6-4.3-5.1-4.3-5.5z" fill="#0690f5"/><path d="M91.7 160.6l3.3 3.7 5.1 4 5.7 3.3 6 2.6 5.9 2 6.4 1.6 5.9 1.2 6.2 .8 6.2 .5 6.4 .2 6.3-.1 6.3-.5 6.1-.8 5.9-1.1 6.4-1.6 5.9-2 5.9-2.6 5.7-3.2 5.1-4 3.1-3.5-4.3 5.5-4.2 5.1-4.3 4.6-4.3 4.2-4.2 3.8-4.3 3.3-4.3 3-2.8 1.7-2.9 1.5-2.8 1.3-2.8 1.1-2.9 1-2.8 .7-2.9 .6-2.8 .4-2.9 .1-2.8 0-2.9-.2-2.8-.4-2.9-.6-2.8-.7-2.9-1-2.8-1.2-2.8-1.3-2.9-1.6-2.8-1.7-4.3-2.9-4.3-3.4-4.2-3.8-4.3-4.3-4.3-4.7-4.2-5.1-2.9-3.6z" fill="#078ef6"/><path d="M92.6 161.8l3.1 3.5 5.1 3.9 5.6 3.3 5.9 2.6 5.9 1.9 6.2 1.7 6.6 1.2 6.1 .8 6.2 .5 6.3 .1 6.2-.2 6.2-.5 6-.8 6.5-1.3 6.2-1.7 5.7-2 5.7-2.6 5.5-3.3 4.4-3.6 2.6-3-4.2 5.4-4.3 5-4.2 4.5-4.3 4.1-4.3 3.7-4.2 3.2-4.3 2.9-2.8 1.6-2.8 1.5-2.9 1.2-2.8 1.1-2.8 .9-2.9 .7-2.8 .5-2.9 .3-2.8 .2-2.8-.1-2.9-.3-2.8-.4-2.8-.6-2.9-.8-2.8-1.1-2.8-1.2-2.9-1.3-2.8-1.6-4.3-2.7-4.2-3.2-4.3-3.6-4.2-4-4.3-4.4-4.2-4.9-4.3-5.2z" fill="#078bf8"/><path d="M93.5 163l3.4 3.6 4.6 3.6 5.5 3.2 5.8 2.5 5.8 2 6.2 1.6 6.5 1.2 6 .8 6.1 .4 6.1 .2 6.2-.2 6.1-.5 6.6-.9 6.4-1.4 6.1-1.6 6.1-2.3 5.5-2.7 5.2-3.3 4.2-3.6 1.8-2.1-4.2 5.3-4.3 4.8-4.2 4.5-4.3 4-4.2 3.6-4.2 3.1-4.3 2.7-2.8 1.6-2.8 1.4-2.8 1.2-2.9 1.1-2.8 .8-2.8 .6-2.8 .5-2.9 .3-2.8 .1-2.8-.1-2.8-.3-2.9-.5-2.8-.7-2.8-.9-2.9-1-2.8-1.2-2.8-1.5-2.8-1.6-4.3-2.8-4.2-3.2-4.2-3.6-4.3-4-4.2-4.5-4.3-4.9-2.8-3.5z" fill="#0888f9"/><path d="M94.4 164.2l3.6 3.8 5.1 3.7 5.6 3.1 5.9 2.4 5.8 1.9 6.1 1.5 6.5 1.1 6.7 .8 6 .3 6.1 0 6.1-.3 6.6-.7 6.5-1.1 6.1-1.4 5.8-1.9 5.8-2.3 5.6-3.1 5.1-3.7 2.9-3.1-3.8 4.7-4.3 4.8-4.3 4.4-4.2 3.9-4.3 3.5-4.3 3.1-2.8 1.8-2.9 1.6-2.8 1.5-2.9 1.2-2.8 1-2.9 .9-2.9 .6-2.8 .5-2.9 .3-2.8 .1-2.9-.2-2.8-.3-2.9-.4-2.8-.7-2.9-.9-2.8-1.1-2.9-1.2-2.8-1.5-2.9-1.6-4.2-2.8-4.3-3.3-4.3-3.7-4.3-4.1-4.2-4.5-4.3-5-1.4-1.8z" fill="#0986fb"/><path d="M95.4 165.4l3.4 3.6 5 3.7 5.5 3 5.8 2.4 6.4 2 6.1 1.4 6.4 1.1 6.6 .7 6.7 .3 6.7-.1 6.7-.5 6.4-.8 6.3-1.3 5.9-1.6 6-2.1 5.9-2.8 5.5-3.6 3.9-3.5 1.2-1.4-4.3 5.1-4.2 4.7-4.3 4.3-4.2 3.8-4.3 3.4-4.2 3-2.9 1.7-2.8 1.6-2.8 1.3-2.9 1.2-2.8 1-2.9 .8-2.8 .6-2.8 .4-2.9 .2-2.8 0-2.8-.1-2.9-.4-2.8-.5-2.9-.7-2.8-.9-2.8-1.1-2.9-1.3-2.8-1.5-2.8-1.7-4.3-2.9-4.3-3.2-4.2-3.8-4.3-4.1-4.2-4.6-4.3-5z" fill="#0983fd"/><path d="M96.4 166.6l3.5 3.7 5 3.6 5.6 2.9 5.7 2.4 6.3 1.9 6.1 1.4 6.3 1 6.5 .6 6.6 .3 6.7-.2 6.5-.5 6.4-.9 6.1-1.2 6.3-1.8 5.8-2.2 5.7-2.9 5.2-3.5 3.7-3.6-3.8 4.5-4.2 4.6-4.3 4.1-4.2 3.7-4.2 3.3-4.3 2.9-2.8 1.7-2.8 1.5-2.8 1.3-2.9 1.1-2.8 .9-2.8 .8-2.8 .5-2.9 .4-2.8 .1-2.8 0-2.8-.2-2.9-.4-2.8-.5-2.8-.8-2.8-1-2.9-1.1-2.8-1.3-2.8-1.5-4.2-2.7-4.3-3-4.2-3.5-4.2-3.9-4.3-4.3-4.2-4.8-1.4-1.6z" fill="#0a81fe"/><path d="M97.4 167.9l3.7 3.7 5 3.5 5.6 2.9 5.7 2.2 6.2 1.9 6 1.3 6.2 .9 6.5 .6 6.5 .2 6.5-.1 6.4-.6 6.2-.9 6-1.3 6.2-1.8 5.7-2.2 5.5-2.8 5-3.5 3.5-3.6-4.2 4.9-4.3 4.5-4.3 4.1-4.2 3.6-4.3 3.3-2.9 1.9-2.8 1.7-2.8 1.5-2.9 1.3-2.8 1.1-2.9 1-2.8 .7-2.9 .6-2.8 .4-2.9 .1-2.8 0-2.9-.2-2.8-.4-2.9-.6-2.8-.7-2.9-1-2.8-1.2-2.9-1.3-2.8-1.6-2.8-1.7-4.3-3-4.3-3.3-4.3-3.9-4.2-4.2-4.3-4.7-1.4-1.6z" fill="#0c7eff"/><path d="M98.4 169.1l1.8 1.9 2.1 1.8 3.2 2.4 3.7 2.1 4.2 2 4.5 1.7 4.9 1.5 6.4 1.5 6.8 1.1 7.1 .6 7.1 .2 7.1-.3 6.9-.8 6.7-1.2 5.1-1.3 4.7-1.5 4.5-1.8 4-1.9 3.6-2.2 2.3-1.8 2.1-1.8 1.6-1.8-4.2 4.8-4.3 4.4-4.2 3.9-4.2 3.6-4.3 3.1-4.2 2.6-2.9 1.6-2.8 1.3-2.8 1.2-2.9 1-2.8 .8-2.8 .6-2.8 .4-2.9 .2-2.8 0-2.8-.1-2.9-.4-2.8-.5-2.8-.7-2.9-.9-2.8-1.1-2.8-1.3-2.9-1.5-2.8-1.6-4.2-2.9-4.3-3.3-4.2-3.7-4.3-4.1-4.2-4.6-1.4-1.6z" fill="#117aff"/><path d="M99.4 170.3l2.3 2.3 2.1 1.8 3.3 2.2 3.8 2.1 4.1 1.9 4.6 1.6 4.8 1.4 6.5 1.4 6.7 1 7 .5 7 .1 6.9-.4 6.8-.8 6.5-1.3 4.9-1.3 4.6-1.6 4.3-1.8 3.8-2 3.4-2.2 2.2-1.7 2-1.9 .8-.9-4.3 4.8-4.3 4.3-4.2 3.8-4.3 3.5-4.3 3-2.8 1.7-2.9 1.6-2.8 1.4-2.9 1.2-2.9 1-2.8 .8-2.9 .6-2.8 .4-2.9 .2-2.8 0-2.9-.1-2.8-.4-2.9-.5-2.8-.7-2.9-1-2.8-1.1-2.9-1.3-2.8-1.5-2.9-1.7-4.3-2.9-4.2-3.3-4.3-3.8-4.3-4.2-4.3-4.6z" fill="#1577ff"/><path d="M100.4 171.5l2.1 2.1 2.9 2.3 3.3 2.2 3.8 2 4.2 1.8 4.6 1.5 6.1 1.6 6.4 1.2 6.7 .8 6.9 .3 6.8-.1 6.8-.6 6.6-.9 6.2-1.4 4.7-1.5 4.3-1.6 4-1.9 3.6-2 3.1-2.3 2-1.7 1.3-1.4-4.3 4.6-4.2 4.2-4.3 3.7-4.2 3.3-4.3 2.9-2.8 1.7-2.9 1.5-2.8 1.3-2.8 1.2-2.9 .9-2.8 .7-2.8 .6-2.8 .4-2.9 .1-2.8 0-2.8-.2-2.9-.4-2.8-.5-2.8-.8-2.9-1-2.8-1.1-2.8-1.4-2.9-1.5-2.8-1.7-4.3-2.9-4.2-3.4-4.3-3.8-4.2-4.2-2.8-3z" fill="#1974ff"/><path d="M101.5 172.7l1.9 1.8 2.8 2.3 3.3 2.2 3.7 1.9 4.1 1.8 5.7 1.8 6 1.5 6.4 1.1 6.6 .7 6.8 .2 6.7-.1 6.6-.7 6.4-1 6-1.5 4.5-1.4 4.2-1.7 3.8-1.9 3.4-2.1 2.9-2.2 2.4-2.3-4.3 4.5-4.3 4.1-4.3 3.7-4.2 3.2-2.9 1.9-2.8 1.7-2.9 1.6-2.9 1.3-2.8 1.1-2.9 1-2.8 .7-2.9 .6-2.8 .4-2.9 .1-2.8 0-2.9-.2-2.8-.4-2.9-.6-2.8-.7-2.9-1-2.8-1.2-2.9-1.3-2.9-1.6-2.8-1.7-4.3-3-4.3-3.4-4.3-3.8-4.2-4.3-1.5-1.5z" fill="#1e70ff"/><path d="M102.6 173.9l2.3 2.2 2.9 2.2 3.3 2.1 3.8 1.8 4.1 1.7 5.6 1.7 6 1.4 6.3 1 6.6 .6 6.6 .2 6.6-.3 6.4-.7 6.2-1.1 5.8-1.6 5.4-1.8 4-1.8 3.5-1.9 3.1-2.1 2.6-2.3 .9-.9-4.3 4.4-4.2 3.9-4.2 3.6-4.3 3.1-4.2 2.6-2.9 1.6-2.8 1.3-2.8 1.2-2.9 1-2.8 .8-2.8 .6-2.8 .4-2.9 .2-2.8 0-2.8-.1-2.9-.4-2.8-.5-2.8-.7-2.9-.9-2.8-1.1-2.8-1.3-2.8-1.5-2.9-1.6-4.2-2.9-4.3-3.3-4.2-3.7-4.3-4.1-1.4-1.5z" fill="#226dff"/><path d="M103.7 175.1l2.1 2 2.8 2.1 3.3 2 3.7 1.9 5.1 2 5.5 1.6 6 1.3 6.2 .9 6.5 .5 6.4 0 6.5-.3 6.2-.8 6.1-1.2 5.6-1.5 5.2-1.9 3.7-1.8 3.4-1.9 2.9-2.1 2.6-2.4-4.3 4.3-4.3 3.9-4.3 3.4-4.2 3-2.9 1.7-2.8 1.6-2.9 1.4-2.8 1.2-2.9 1-2.8 .8-2.9 .6-2.8 .4-2.9 .2-2.8 0-2.9-.1-2.8-.4-2.9-.5-2.8-.7-2.9-.9-2.8-1.2-2.8-1.3-2.9-1.5-2.8-1.6-4.3-2.9-4.3-3.4-4.3-3.7-4.2-4.2z" fill="#276aff"/><path d="M104.9 176.3l2.4 2.2 2.9 2.1 3.3 1.9 3.7 1.8 5.1 1.9 5.6 1.5 5.9 1.2 6.1 .8 6.3 .4 6.3 0 6.3-.4 6.1-.9 5.8-1.2 5.5-1.6 5-1.9 3.5-1.8 3.2-1.9 2.8-2.1 1.6-1.6-4.2 4.2-4.3 3.7-4.2 3.3-4.2 2.8-2.8 1.7-2.9 1.5-2.8 1.3-2.8 1.1-2.8 .9-2.8 .8-2.9 .5-2.8 .4-2.8 .1-2.8 0-2.8-.2-2.9-.4-2.8-.5-2.8-.8-2.8-1-2.8-1.1-2.9-1.3-2.8-1.5-4.2-2.7-4.2-3-4.3-3.5-4.2-3.8-1.4-1.4z" fill="#2b66ff"/><path d="M106.1 177.5l2.1 2 2.9 2 3.2 1.9 4.6 2.1 5 1.8 5.5 1.4 5.9 1.1 6 .7 6.2 .3 6.2-.1 6.1-.5 5.9-.9 5.7-1.3 5.2-1.6 4.8-1.9 3.4-1.8 3-1.9 2.6-2.1-3.5 3.3-4.3 3.6-4.2 3.1-4.3 2.8-2.8 1.6-2.9 1.4-2.8 1.2-2.8 1.1-2.9 .8-2.8 .6-2.8 .5-2.9 .3-2.8 .1-2.8-.2-2.9-.2-2.8-.5-2.8-.7-2.9-.9-2.8-1-2.8-1.3-2.9-1.4-2.8-1.6-4.3-2.8-4.2-3.2-4.3-3.7-2.8-2.7z" fill="#2f63fe"/><path d="M107.3 178.8l2.5 2.1 2.9 2 3.2 1.8 4.6 2 5 1.6 5.5 1.4 5.7 1 7.2 .7 6.1 .1 6-.3 5.9-.6 5.7-1 5.3-1.4 5-1.7 4.4-2.1 3.1-1.8 2.8-2 1.7-1.5-4.3 4-4.2 3.5-4.3 3-2.9 1.8-2.8 1.6-2.9 1.5-2.8 1.2-2.9 1-2.8 .9-2.9 .6-2.8 .5-2.9 .3-2.8 .1-2.8-.2-2.9-.3-2.8-.4-2.9-.7-2.8-.9-2.9-1.1-2.8-1.2-2.9-1.5-2.8-1.6-4.3-2.8-4.3-3.3-4.3-3.7-1.4-1.3z" fill="#345ffd"/><path d="M108.6 180l2.1 1.8 2.8 1.9 4.1 2.2 4.5 1.9 5 1.6 5.4 1.2 6.8 1 7.1 .5 7.1-.1 6.9-.6 5.6-.9 5.3-1.3 4.9-1.6 4.5-1.9 3.1-1.8 2.8-1.8 2-1.8-4.2 3.8-4.3 3.4-4.3 3-2.9 1.7-2.8 1.5-2.9 1.4-2.9 1.1-2.8 1-2.9 .7-2.8 .6-2.9 .4-2.9 .1-2.8 0-2.9-.2-2.9-.4-2.8-.6-2.9-.8-2.8-.9-2.9-1.2-2.9-1.4-2.8-1.5-2.9-1.8-4.3-3-4.3-3.4-2.8-2.5z" fill="#385cfc"/><path d="M109.9 181.2l2.4 2 2.9 1.8 4 2.1 4.5 1.8 5 1.4 6.4 1.4 6.7 .8 6.9 .3 6.9-.3 6.7-.7 6.4-1.3 5-1.5 4.5-1.7 4-2.1 2.8-1.8 2.3-1.9-4.2 3.7-4.2 3.2-4.2 2.8-2.9 1.6-2.8 1.4-2.8 1.3-2.8 1-2.8 .9-2.8 .7-2.9 .5-2.8 .3-2.8 .2-2.8-.1-2.8-.3-2.8-.4-2.9-.6-2.8-.8-2.8-1-2.8-1.2-2.8-1.4-2.9-1.5-4.2-2.7-4.2-3.1-4.2-3.6z" fill="#3d59fb"/><path d="M111.2 182.4l2.8 2.1 3.6 2.2 4.1 1.9 4.6 1.6 6 1.5 6.4 1.1 6.7 .5 6.7 .1 6.6-.6 6.4-1 6-1.5 4.6-1.5 4.1-1.9 3.6-2.2 2.6-2-4.2 3.5-4.3 3.1-4.2 2.7-2.8 1.5-2.8 1.4-2.9 1.1-2.8 1-2.8 .8-2.8 .6-2.9 .4-2.8 .2-2.8 0-2.8-.1-2.9-.3-2.8-.6-2.8-.7-2.8-.9-2.8-1.1-2.9-1.3-2.8-1.4-2.8-1.7-4.2-2.8-4.3-3.3-1.4-1.2z" fill="#4155fa"/><path d="M112.6 183.6l2.3 1.8 3.5 2.1 4.1 1.8 4.4 1.6 5.9 1.5 6.2 1 6.5 .5 6.5 .1 6.5-.5 6.2-1 5.8-1.5 4.4-1.5 4-1.8 3.5-2.1 2.2-1.7-4.2 3.4-4.3 2.9-2.8 1.8-2.8 1.5-2.8 1.4-2.9 1.1-2.8 1-2.8 .8-2.8 .6-2.9 .4-2.8 .2-2.8 0-2.8-.1-2.9-.3-2.8-.6-2.8-.7-2.8-.9-2.9-1.1-2.8-1.3-2.8-1.5-2.8-1.6-4.3-2.9-4.2-3.2z" fill="#4652f9"/><path d="M114 184.8l2.6 1.9 3.5 1.9 4 1.8 5.3 1.7 5.8 1.3 6.1 .8 6.4 .4 6.3-.2 6.2-.6 5.9-1.1 5.5-1.6 4.2-1.6 3.6-1.8 3.2-2.1-3.7 2.7-4.2 2.8-2.8 1.7-2.8 1.4-2.9 1.3-2.8 1-2.8 .9-2.8 .7-2.9 .5-2.8 .3-2.8 .2-2.8-.1-2.8-.3-2.9-.4-2.8-.6-2.8-.8-2.8-1-2.8-1.2-2.9-1.4-2.8-1.5-4.2-2.7-4.3-3.2z" fill="#4a4ef8"/><path d="M115.6 186l2.6 1.9 3.5 1.9 4.8 1.9 5.3 1.5 5.8 1.1 6 .7 6.1 .2 6.2-.3 5.9-.8 5.6-1.2 5.1-1.7 3.9-1.6 3.3-1.9 1.9-1.4-4.2 3.1-4.2 2.6-2.8 1.6-2.8 1.3-2.8 1.1-2.8 1-2.9 .8-2.8 .6-2.8 .4-2.8 .2-2.8 0-2.8-.1-2.8-.3-2.8-.6-2.9-.7-2.8-.9-2.8-1.1-2.8-1.2-2.8-1.5-4.2-2.5-4.2-3z" fill="#4d4cf6"/><path d="M117.1 187.2l2.8 1.9 3.5 1.7 4.7 1.8 5.2 1.5 5.6 .9 6.8 .7 7-.1 6.8-.6 5.5-1.1 5.1-1.4 4.6-1.9 3.4-1.7 2-1.4-4.2 2.9-4.2 2.5-2.8 1.4-2.8 1.2-2.8 1.1-2.8 .8-2.8 .7-2.8 .5-2.8 .3-2.8 .2-2.8-.1-2.8-.2-2.8-.5-2.8-.6-2.8-.8-2.8-1-2.8-1.1-2.8-1.4-2.8-1.5-4.2-2.7-1.4-.9z" fill="#4e4af5"/><path d="M118.8 188.5l3.4 2 4.3 1.9 4.8 1.6 6.1 1.3 6.5 .8 6.7 .1 6.6-.4 6.3-1.1 5-1.3 4.6-1.7 3.9-2.1 1.4-.9-4.3 2.8-2.8 1.6-2.8 1.4-2.9 1.2-2.8 1-2.8 .9-2.9 .6-2.8 .5-2.9 .3-2.8 .1-2.8-.2-2.9-.2-2.8-.5-2.9-.7-2.8-.9-2.8-1-2.9-1.3-2.8-1.4-2.8-1.7-2.9-1.8z" fill="#4f48f3"/><path d="M120.6 189.7l3.3 1.9 4.2 1.8 5.5 1.6 6 1.1 6.4 .6 6.4 0 6.2-.6 6-1.2 4.7-1.4 4.1-1.8 3.2-1.8-4.2 2.6-2.8 1.4-2.8 1.3-2.8 1.1-2.8 .9-2.8 .8-2.8 .5-2.8 .4-2.8 .1-2.8 0-2.8-.2-2.8-.4-2.8-.5-2.8-.8-2.8-.9-2.8-1.1-2.8-1.3-2.8-1.5-2.8-1.7z" fill="#5046f1"/><path d="M122.5 190.9l3.7 2 5 1.8 5.5 1.4 5.9 .8 6.1 .3 6.1-.3 5.9-.8 5.5-1.3 4.3-1.5 3.7-1.8-3.7 2-2.8 1.4-2.8 1.1-2.9 1-2.8 .8-2.8 .6-2.9 .4-2.8 .2-2.8 0-2.8-.1-2.9-.3-2.8-.6-2.8-.7-2.8-.9-2.9-1.1-2.8-1.3-2.8-1.5-1.4-.8z" fill="#5144ef"/><path d="M124.5 192.1l4 1.9 4.9 1.7 5.4 1.1 6.6 .7 6.6 .1 6.6-.7 5.3-1.1 4.9-1.6 3.9-1.9-2.8 1.5-2.9 1.3-2.8 1.2-2.8 .9-2.9 .7-2.8 .6-2.8 .4-2.9 .1-2.8 0-2.9-.2-2.8-.4-2.8-.5-2.9-.8-2.8-1-2.8-1.1-2.9-1.4-1.4-.7z" fill="#5342ed"/><path d="M126.7 193.3l4.1 1.8 5.5 1.6 6.1 1 6.3 .3 6.3-.3 6-.9 4.9-1.4 4.6-1.9-2.8 1.4-2.9 1.1-2.8 1-2.8 .8-2.8 .6-2.9 .4-2.8 .2-2.8 0-2.8-.1-2.9-.3-2.8-.6-2.8-.7-2.8-.9-2.8-1.1-2.9-1.3z" fill="#5441ec"/><path d="M129.2 194.5l4.5 1.7 5.4 1.3 6.6 .8 6.7 0 6.5-.8 5.3-1.4 3.8-1.4-2.8 1.2-2.7 1-2.8 .8-2.8 .6-2.8 .4-2.7 .3-2.8 .1-2.8-.1-2.7-.3-2.8-.5-2.8-.6-2.8-.9-2.7-1-1.4-.6z" fill="#543fe9"/><path d="M132 195.7l5.2 1.6 5.9 1.1 6.3 .3 6.2-.5 5.8-1.1 3.8-1.2-2.8 1-2.8 .8-2.7 .6-2.8 .4-2.7 .3-2.8 .1-2.8-.1-2.7-.3-2.8-.5-2.7-.6-2.8-.9-1.4-.4z" fill="#543de5"/><path d="M135.5 197l5.5 1.3 6.4 .6 6.4-.3 6.1-1 1.8-.5-2.7 .7-2.8 .6-2.8 .4-2.7 .2-2.8 0-2.8-.1-2.7-.3-2.8-.5-2.7-.7z" fill="#543ce1"/><path d="M140.3 198.2l6 .8 6.5-.1 4.1-.6-2.7 .4-2.8 .3-2.8 .1-2.8-.1-2.8-.3-1.4-.2z" fill="#543add"/></g>
<g><path d="M135.7 243.5 L248.9 200.7" stroke="#262626" stroke-width="0.8" fill="none"/><path d="M135.7 243.5 L48.3 187" stroke="#262626" stroke-width="0.8" fill="none"/><path d="M48.3 187 L48.3 66.4" stroke="#262626" stroke-width="0.65" fill="none"/><path d="M135.7 243.5 L137.8 244.9" stroke="#262626" stroke-width="0.8" fill="none"/><path d="M135.7 243.5 L133.4 244.4" stroke="#262626" stroke-width="0.8" fill="none"/><path d="M192.3 222.1 L194.4 223.5" stroke="#262626" stroke-width="0.8" fill="none"/><path d="M92 215.2 L89.7 216.1" stroke="#262626" stroke-width="0.8" fill="none"/><path d="M248.9 200.7 L251 202.1" stroke="#262626" stroke-width="0.8" fill="none"/><path d="M48.3 187 L46 187.9" stroke="#262626" stroke-width="0.8" fill="none"/><path d="M48.3 187 L45.8 185.4" stroke="#262626" stroke-width="0.8" fill="none"/><path d="M48.3 126.7 L45.8 125.1" stroke="#262626" stroke-width="0.8" fill="none"/><path d="M48.3 66.4 L45.8 64.8" stroke="#262626" stroke-width="0.8" fill="none"/></g>
<g stroke="#262626" stroke-width="0.22"><text x="148.8" y="20.7" font-size="15.9" text-anchor="middle" fill="#000" stroke="#000" stroke-width="0.2">Parameter space</text><text x="10.5" y="52.8" font-size="19.5">×</text><text x="22.6" y="50.6" font-size="16">10</text><text x="38" y="44.8" font-size="12.2">4</text><text x="41.2" y="66.7" font-size="16" text-anchor="end">2</text><text x="41.2" y="127.8" font-size="16" text-anchor="end">1</text><text x="41.2" y="187.9" font-size="16" text-anchor="end">0</text><text x="41.2" y="205" font-size="16" text-anchor="end">100</text><text x="80" y="232.8" font-size="16" text-anchor="middle">0</text><text x="91.9" y="261.7" font-size="18.6">−</text><text x="103" y="260.8" font-size="16">100</text><text x="144.1" y="262.2" font-size="18.6">−</text><text x="155.2" y="261.3" font-size="16">100</text><text x="203.7" y="240.6" font-size="16" text-anchor="middle">0</text><text x="256.8" y="219.3" font-size="16" text-anchor="start">100</text><text x="41.2" y="266.6" font-size="15.9">x<tspan font-size="12.6" dy="7.6">2</tspan></text><text x="222.4" y="269.3" font-size="15.9">x<tspan font-size="12.6" dy="7.6">1</tspan></text><text transform="translate(17.2 127.4) rotate(-90)" font-size="15.9" text-anchor="middle">F1( x<tspan font-size="12.6" dy="7.6">1</tspan><tspan dy="-7.6"> , x</tspan><tspan font-size="12.6" dy="7.6">2</tspan><tspan dy="-7.6"> )</tspan></text></g>
<g><path d="M384.2 24.6 V243.2" stroke="#dedede" stroke-width="0.8"/><path d="M435.4 24.6 V243.2" stroke="#dedede" stroke-width="0.8"/><path d="M486.7 24.6 V243.2" stroke="#dedede" stroke-width="0.8"/><path d="M338 214.3 H537.6" stroke="#dedede" stroke-width="0.8"/><path d="M338 185.3 H537.6" stroke="#dedede" stroke-width="0.8"/><path d="M338 156.4 H537.6" stroke="#dedede" stroke-width="0.8"/><path d="M338 127.5 H537.6" stroke="#dedede" stroke-width="0.8"/><path d="M338 98.5 H537.6" stroke="#dedede" stroke-width="0.8"/><path d="M338 69.6 H537.6" stroke="#dedede" stroke-width="0.8"/><path d="M338 40.7 H537.6" stroke="#dedede" stroke-width="0.8"/></g>
<g><rect x="338" y="24.6" width="199.6" height="218.6" fill="none" stroke="#262626" stroke-width="0.75"/><path d="M384.2 243.2 v-2.2 M384.2 24.6 v2.2" stroke="#262626" stroke-width="0.8"/><path d="M435.4 243.2 v-2.2 M435.4 24.6 v2.2" stroke="#262626" stroke-width="0.8"/><path d="M486.7 243.2 v-2.2 M486.7 24.6 v2.2" stroke="#262626" stroke-width="0.8"/><path d="M338 214.3 h2.2 M537.6 214.3 h-2.2" stroke="#262626" stroke-width="0.8"/><path d="M338 185.3 h2.2 M537.6 185.3 h-2.2" stroke="#262626" stroke-width="0.8"/><path d="M338 156.4 h2.2 M537.6 156.4 h-2.2" stroke="#262626" stroke-width="0.8"/><path d="M338 127.5 h2.2 M537.6 127.5 h-2.2" stroke="#262626" stroke-width="0.8"/><path d="M338 98.5 h2.2 M537.6 98.5 h-2.2" stroke="#262626" stroke-width="0.8"/><path d="M338 69.6 h2.2 M537.6 69.6 h-2.2" stroke="#262626" stroke-width="0.8"/><path d="M338 40.7 h2.2 M537.6 40.7 h-2.2" stroke="#262626" stroke-width="0.8"/></g>
<g><path d="M338 24.6 L343.1 27 L348.3 110 L353.4 136.8 L358.5 146 L363.6 211 L368.8 240.5 L373.9 242.3 L379 243.2 L384.2 243.2 L389.3 243.2 L394.4 243.2 L399.5 243.2 L404.7 243.2 L409.8 243.2 L414.9 243.2 L420.1 243.2 L425.2 243.2 L430.3 243.2 L435.4 243.2 L440.6 243.2 L445.7 243.2 L450.8 243.2 L455.9 243.2 L461.1 243.2 L466.2 243.2 L471.3 243.2 L476.5 243.2 L481.6 243.2 L486.7 243.2 L491.8 243.2 L497 243.2 L502.1 243.2 L507.2 243.2 L512.4 243.2 L517.5 243.2 L522.6 243.2 L527.7 243.2 L532.9 243.2 L538 243.2" stroke="#ff0000" stroke-width="2" fill="none" stroke-linejoin="round"/><path d="M338 37.8 L343.1 65 L348.3 115.7 L353.4 130 L358.5 143.6 L363.6 160 L368.8 195 L373.9 221 L379 227.3 L384.2 228.5 L389.3 229.7 L394.4 234.5 L399.5 237.6 L404.7 239.4 L409.8 240.9 L414.9 242.4 L420.1 242.9 L425.2 243.2 L430.3 243.2 L435.4 243.2 L440.6 243.2 L445.7 243.2 L450.8 243.2 L455.9 243.2 L461.1 243.2 L466.2 243.2 L471.3 243.2 L476.5 243.2 L481.6 243.2 L486.7 243.2 L491.8 243.2 L497 243.2 L502.1 243.2 L507.2 243.2 L512.4 243.2 L517.5 243.2 L522.6 243.2 L527.7 243.2 L532.9 243.2 L538 243.2" stroke="#0000ff" stroke-width="2" fill="none" stroke-linejoin="round"/></g>
<g><rect x="443" y="31.5" width="89" height="37.5" fill="#fff" stroke="#262626" stroke-width="0.8"/><path d="M447.4 42.6 H486.6" stroke="#ff0000" stroke-width="2"/><path d="M447.4 61 H486.6" stroke="#0000ff" stroke-width="2"/><text x="490.2" y="48.2" font-size="16" text-anchor="start" fill="#000" stroke="#000" stroke-width="0.2">SHO</text><text x="490.2" y="66.7" font-size="16" text-anchor="start" fill="#000" stroke="#000" stroke-width="0.2">WOA</text></g>
<g stroke="#262626" stroke-width="0.22"><text x="437.8" y="20.8" font-size="15.9" text-anchor="middle" fill="#000" stroke="#000" stroke-width="0.2">Objective space</text><text x="338.2" y="23.6" font-size="19.5">×</text><text x="350.3" y="21.4" font-size="16">10</text><text x="365.7" y="13.4" font-size="12.2">4</text><text x="331.8" y="219.3" font-size="16" text-anchor="end">1</text><text x="331.8" y="190.3" font-size="16" text-anchor="end">2</text><text x="331.8" y="161.4" font-size="16" text-anchor="end">3</text><text x="331.8" y="132.5" font-size="16" text-anchor="end">4</text><text x="331.8" y="103.5" font-size="16" text-anchor="end">5</text><text x="331.8" y="74.6" font-size="16" text-anchor="end">6</text><text x="331.8" y="45.7" font-size="16" text-anchor="end">7</text><text x="384.2" y="264" font-size="16" text-anchor="middle">10</text><text x="435.4" y="264" font-size="16" text-anchor="middle">20</text><text x="486.7" y="264" font-size="16" text-anchor="middle">30</text><text x="538" y="264" font-size="16" text-anchor="middle">40</text><text x="438" y="283" font-size="15.9" text-anchor="middle" fill="#000" stroke="#000" stroke-width="0.2">Iteration</text><text transform="translate(317 131.2) rotate(-90)" font-size="15.9" text-anchor="middle" textLength="166.6" lengthAdjust="spacing" fill="#000" stroke="#000" stroke-width="0.2">Best score obtained so far</text></g>
</svg>
</body></html>
